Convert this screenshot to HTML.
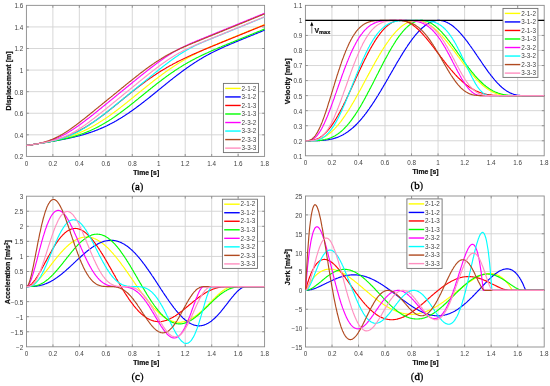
<!DOCTYPE html>
<html><head><meta charset="utf-8"><style>
html,body{margin:0;padding:0;background:#fff;}
body{width:550px;height:386px;overflow:hidden;}
svg{display:block;filter:blur(0.3px);}
.gr{stroke:#d2d2d2;stroke-width:0.9;}
.ax{fill:none;stroke:#8a8a8a;stroke-width:0.9;}
.tm{stroke:#8a8a8a;stroke-width:0.9;fill:none;}
.lt{fill:#1e1e1e;}
.lg{stroke:#6f6f6f;stroke-width:0.9;}
.tk{font-family:"Liberation Sans",Arial,sans-serif;font-size:6.3px;fill:#404040;}
.lb{font-family:"Liberation Sans",Arial,sans-serif;font-size:6.8px;font-weight:bold;fill:#111;stroke:#111;stroke-width:0.22;}
.cap{font-family:"Liberation Serif","Times New Roman",serif;font-size:10.8px;fill:#000;stroke:#000;stroke-width:0.2;}
.vm{font-family:"Liberation Sans",Arial,sans-serif;font-size:6.9px;font-weight:bold;fill:#111;stroke:#111;stroke-width:0.22;}
</style></head><body>
<svg width="550" height="386" viewBox="0 0 550 386">
<rect width="550" height="386" fill="#fff"/>
<line x1="52.87" y1="5.35" x2="52.87" y2="156.40" class="gr"/>
<line x1="79.33" y1="5.35" x2="79.33" y2="156.40" class="gr"/>
<line x1="105.80" y1="5.35" x2="105.80" y2="156.40" class="gr"/>
<line x1="132.27" y1="5.35" x2="132.27" y2="156.40" class="gr"/>
<line x1="158.73" y1="5.35" x2="158.73" y2="156.40" class="gr"/>
<line x1="185.20" y1="5.35" x2="185.20" y2="156.40" class="gr"/>
<line x1="211.67" y1="5.35" x2="211.67" y2="156.40" class="gr"/>
<line x1="238.13" y1="5.35" x2="238.13" y2="156.40" class="gr"/>
<line x1="26.40" y1="134.82" x2="264.60" y2="134.82" class="gr"/>
<line x1="26.40" y1="113.24" x2="264.60" y2="113.24" class="gr"/>
<line x1="26.40" y1="91.66" x2="264.60" y2="91.66" class="gr"/>
<line x1="26.40" y1="70.09" x2="264.60" y2="70.09" class="gr"/>
<line x1="26.40" y1="48.51" x2="264.60" y2="48.51" class="gr"/>
<line x1="26.40" y1="26.93" x2="264.60" y2="26.93" class="gr"/>
<path d="M52.87,156.40v-2.4M52.87,5.35v2.4" class="tm"/>
<path d="M79.33,156.40v-2.4M79.33,5.35v2.4" class="tm"/>
<path d="M105.80,156.40v-2.4M105.80,5.35v2.4" class="tm"/>
<path d="M132.27,156.40v-2.4M132.27,5.35v2.4" class="tm"/>
<path d="M158.73,156.40v-2.4M158.73,5.35v2.4" class="tm"/>
<path d="M185.20,156.40v-2.4M185.20,5.35v2.4" class="tm"/>
<path d="M211.67,156.40v-2.4M211.67,5.35v2.4" class="tm"/>
<path d="M238.13,156.40v-2.4M238.13,5.35v2.4" class="tm"/>
<path d="M26.40,134.82h2.4M264.60,134.82h-2.4" class="tm"/>
<path d="M26.40,113.24h2.4M264.60,113.24h-2.4" class="tm"/>
<path d="M26.40,91.66h2.4M264.60,91.66h-2.4" class="tm"/>
<path d="M26.40,70.09h2.4M264.60,70.09h-2.4" class="tm"/>
<path d="M26.40,48.51h2.4M264.60,48.51h-2.4" class="tm"/>
<path d="M26.40,26.93h2.4M264.60,26.93h-2.4" class="tm"/>
<rect x="26.40" y="5.35" width="238.20" height="151.05" class="ax"/>
<polyline points="26.4,145.6 26.9,145.5 27.5,145.4 28.0,145.4 28.5,145.3 29.0,145.2 29.6,145.1 30.1,145.0 30.6,144.9 31.2,144.8 31.7,144.7 32.2,144.7 32.8,144.6 33.3,144.5 33.8,144.4 34.3,144.3 34.9,144.2 35.4,144.1 35.9,144.0 36.5,144.0 37.0,143.9 37.5,143.8 38.0,143.7 38.6,143.6 39.1,143.5 39.6,143.4 40.2,143.3 40.7,143.2 41.2,143.2 41.8,143.1 42.3,143.0 42.8,142.9 43.3,142.8 43.9,142.7 44.4,142.6 44.9,142.5 45.5,142.4 46.0,142.3 46.5,142.2 47.0,142.1 47.6,142.0 48.1,141.9 48.6,141.8 49.2,141.7 49.7,141.6 50.2,141.5 50.7,141.4 51.3,141.3 51.8,141.2 52.3,141.0 52.9,140.9 53.4,140.8 53.9,140.7 54.5,140.6 55.0,140.5 55.5,140.3 56.0,140.2 56.6,140.1 57.1,140.0 57.6,139.8 58.2,139.7 58.7,139.6 59.2,139.5 59.7,139.3 60.3,139.2 60.8,139.1 61.3,138.9 61.9,138.8 62.4,138.6 62.9,138.5 63.5,138.3 64.0,138.2 64.5,138.0 65.0,137.9 65.6,137.7 66.1,137.6 66.6,137.4 67.2,137.2 67.7,137.1 68.2,136.9 68.7,136.7 69.3,136.6 69.8,136.4 70.3,136.2 70.9,136.0 71.4,135.9 71.9,135.7 72.5,135.5 73.0,135.3 73.5,135.1 74.0,134.9 74.6,134.7 75.1,134.5 75.6,134.3 76.2,134.1 76.7,133.9 77.2,133.7 77.7,133.5 78.3,133.3 78.8,133.0 79.3,132.8 79.9,132.6 80.4,132.4 80.9,132.1 81.5,131.9 82.0,131.7 82.5,131.4 83.0,131.2 83.6,130.9 84.1,130.7 84.6,130.4 85.2,130.2 85.7,129.9 86.2,129.7 86.7,129.4 87.3,129.2 87.8,128.9 88.3,128.6 88.9,128.3 89.4,128.1 89.9,127.8 90.4,127.5 91.0,127.2 91.5,126.9 92.0,126.7 92.6,126.4 93.1,126.1 93.6,125.8 94.2,125.5 94.7,125.2 95.2,124.9 95.7,124.5 96.3,124.2 96.8,123.9 97.3,123.6 97.9,123.3 98.4,123.0 98.9,122.6 99.4,122.3 100.0,122.0 100.5,121.6 101.0,121.3 101.6,121.0 102.1,120.6 102.6,120.3 103.2,119.9 103.7,119.6 104.2,119.2 104.7,118.9 105.3,118.5 105.8,118.2 106.3,117.8 106.9,117.5 107.4,117.1 107.9,116.7 108.4,116.4 109.0,116.0 109.5,115.6 110.0,115.2 110.6,114.9 111.1,114.5 111.6,114.1 112.2,113.7 112.7,113.3 113.2,113.0 113.7,112.6 114.3,112.2 114.8,111.8 115.3,111.4 115.9,111.0 116.4,110.6 116.9,110.2 117.4,109.8 118.0,109.4 118.5,109.0 119.0,108.6 119.6,108.2 120.1,107.8 120.6,107.4 121.2,106.9 121.7,106.5 122.2,106.1 122.7,105.7 123.3,105.3 123.8,104.9 124.3,104.5 124.9,104.0 125.4,103.6 125.9,103.2 126.4,102.8 127.0,102.4 127.5,101.9 128.0,101.5 128.6,101.1 129.1,100.7 129.6,100.2 130.1,99.8 130.7,99.4 131.2,98.9 131.7,98.5 132.3,98.1 132.8,97.7 133.3,97.2 133.9,96.8 134.4,96.4 134.9,95.9 135.4,95.5 136.0,95.1 136.5,94.6 137.0,94.2 137.6,93.8 138.1,93.3 138.6,92.9 139.1,92.5 139.7,92.0 140.2,91.6 140.7,91.2 141.3,90.8 141.8,90.3 142.3,89.9 142.9,89.5 143.4,89.0 143.9,88.6 144.4,88.2 145.0,87.8 145.5,87.3 146.0,86.9 146.6,86.5 147.1,86.0 147.6,85.6 148.1,85.2 148.7,84.8 149.2,84.4 149.7,83.9 150.3,83.5 150.8,83.1 151.3,82.7 151.9,82.3 152.4,81.9 152.9,81.4 153.4,81.0 154.0,80.6 154.5,80.2 155.0,79.8 155.6,79.4 156.1,79.0 156.6,78.6 157.1,78.2 157.7,77.8 158.2,77.4 158.7,77.0 159.3,76.6 159.8,76.2 160.3,75.8 160.9,75.4 161.4,75.0 161.9,74.6 162.4,74.2 163.0,73.8 163.5,73.4 164.0,73.1 164.6,72.7 165.1,72.3 165.6,71.9 166.1,71.5 166.7,71.2 167.2,70.8 167.7,70.4 168.3,70.1 168.8,69.7 169.3,69.3 169.8,69.0 170.4,68.6 170.9,68.2 171.4,67.9 172.0,67.5 172.5,67.2 173.0,66.8 173.6,66.5 174.1,66.1 174.6,65.8 175.1,65.4 175.7,65.1 176.2,64.8 176.7,64.4 177.3,64.1 177.8,63.7 178.3,63.4 178.8,63.1 179.4,62.8 179.9,62.4 180.4,62.1 181.0,61.8 181.5,61.5 182.0,61.2 182.6,60.8 183.1,60.5 183.6,60.2 184.1,59.9 184.7,59.6 185.2,59.3 185.7,59.0 186.3,58.7 186.8,58.4 187.3,58.1 187.8,57.8 188.4,57.5 188.9,57.2 189.4,56.9 190.0,56.6 190.5,56.4 191.0,56.1 191.6,55.8 192.1,55.5 192.6,55.2 193.1,55.0 193.7,54.7 194.2,54.4 194.7,54.1 195.3,53.9 195.8,53.6 196.3,53.3 196.8,53.1 197.4,52.8 197.9,52.6 198.4,52.3 199.0,52.0 199.5,51.8 200.0,51.5 200.6,51.3 201.1,51.0 201.6,50.8 202.1,50.5 202.7,50.3 203.2,50.0 203.7,49.8 204.3,49.5 204.8,49.3 205.3,49.1 205.8,48.8 206.4,48.6 206.9,48.3 207.4,48.1 208.0,47.9 208.5,47.6 209.0,47.4 209.5,47.2 210.1,46.9 210.6,46.7 211.1,46.5 211.7,46.2 212.2,46.0 212.7,45.8 213.3,45.6 213.8,45.3 214.3,45.1 214.8,44.9 215.4,44.7 215.9,44.4 216.4,44.2 217.0,44.0 217.5,43.8 218.0,43.6 218.5,43.3 219.1,43.1 219.6,42.9 220.1,42.7 220.7,42.5 221.2,42.2 221.7,42.0 222.3,41.8 222.8,41.6 223.3,41.4 223.8,41.2 224.4,40.9 224.9,40.7 225.4,40.5 226.0,40.3 226.5,40.1 227.0,39.9 227.5,39.6 228.1,39.4 228.6,39.2 229.1,39.0 229.7,38.8 230.2,38.6 230.7,38.3 231.3,38.1 231.8,37.9 232.3,37.7 232.8,37.5 233.4,37.3 233.9,37.0 234.4,36.8 235.0,36.6 235.5,36.4 236.0,36.2 236.5,36.0 237.1,35.8 237.6,35.5 238.1,35.3 238.7,35.1 239.2,34.9 239.7,34.7 240.3,34.5 240.8,34.2 241.3,34.0 241.8,33.8 242.4,33.6 242.9,33.4 243.4,33.2 244.0,32.9 244.5,32.7 245.0,32.5 245.5,32.3 246.1,32.1 246.6,31.9 247.1,31.7 247.7,31.4 248.2,31.2 248.7,31.0 249.2,30.8 249.8,30.6 250.3,30.4 250.8,30.1 251.4,29.9 251.9,29.7 252.4,29.5 253.0,29.3 253.5,29.1 254.0,28.8 254.5,28.6 255.1,28.4 255.6,28.2 256.1,28.0 256.7,27.8 257.2,27.6 257.7,27.3 258.2,27.1 258.8,26.9 259.3,26.7 259.8,26.5 260.4,26.3 260.9,26.0 261.4,25.8 262.0,25.6 262.5,25.4 263.0,25.2 263.5,25.0 264.1,24.7 264.6,24.5" fill="none" stroke="#ffff00" stroke-width="1.15" stroke-linejoin="round"/>
<polyline points="26.4,145.6 26.9,145.5 27.5,145.4 28.0,145.4 28.5,145.3 29.0,145.2 29.6,145.1 30.1,145.0 30.6,144.9 31.2,144.8 31.7,144.7 32.2,144.7 32.8,144.6 33.3,144.5 33.8,144.4 34.3,144.3 34.9,144.2 35.4,144.1 35.9,144.1 36.5,144.0 37.0,143.9 37.5,143.8 38.0,143.7 38.6,143.6 39.1,143.5 39.6,143.5 40.2,143.4 40.7,143.3 41.2,143.2 41.8,143.1 42.3,143.0 42.8,142.9 43.3,142.8 43.9,142.8 44.4,142.7 44.9,142.6 45.5,142.5 46.0,142.4 46.5,142.3 47.0,142.2 47.6,142.1 48.1,142.1 48.6,142.0 49.2,141.9 49.7,141.8 50.2,141.7 50.7,141.6 51.3,141.5 51.8,141.4 52.3,141.3 52.9,141.2 53.4,141.1 53.9,141.1 54.5,141.0 55.0,140.9 55.5,140.8 56.0,140.7 56.6,140.6 57.1,140.5 57.6,140.4 58.2,140.3 58.7,140.2 59.2,140.1 59.7,140.0 60.3,139.9 60.8,139.8 61.3,139.7 61.9,139.6 62.4,139.5 62.9,139.4 63.5,139.3 64.0,139.2 64.5,139.1 65.0,139.0 65.6,138.9 66.1,138.8 66.6,138.7 67.2,138.6 67.7,138.5 68.2,138.4 68.7,138.2 69.3,138.1 69.8,138.0 70.3,137.9 70.9,137.8 71.4,137.7 71.9,137.5 72.5,137.4 73.0,137.3 73.5,137.2 74.0,137.1 74.6,136.9 75.1,136.8 75.6,136.7 76.2,136.5 76.7,136.4 77.2,136.3 77.7,136.2 78.3,136.0 78.8,135.9 79.3,135.7 79.9,135.6 80.4,135.5 80.9,135.3 81.5,135.2 82.0,135.0 82.5,134.9 83.0,134.7 83.6,134.6 84.1,134.4 84.6,134.3 85.2,134.1 85.7,133.9 86.2,133.8 86.7,133.6 87.3,133.4 87.8,133.3 88.3,133.1 88.9,132.9 89.4,132.8 89.9,132.6 90.4,132.4 91.0,132.2 91.5,132.0 92.0,131.9 92.6,131.7 93.1,131.5 93.6,131.3 94.2,131.1 94.7,130.9 95.2,130.7 95.7,130.5 96.3,130.3 96.8,130.1 97.3,129.9 97.9,129.7 98.4,129.5 98.9,129.2 99.4,129.0 100.0,128.8 100.5,128.6 101.0,128.4 101.6,128.1 102.1,127.9 102.6,127.7 103.2,127.4 103.7,127.2 104.2,126.9 104.7,126.7 105.3,126.5 105.8,126.2 106.3,126.0 106.9,125.7 107.4,125.4 107.9,125.2 108.4,124.9 109.0,124.7 109.5,124.4 110.0,124.1 110.6,123.8 111.1,123.6 111.6,123.3 112.2,123.0 112.7,122.7 113.2,122.4 113.7,122.2 114.3,121.9 114.8,121.6 115.3,121.3 115.9,121.0 116.4,120.7 116.9,120.4 117.4,120.1 118.0,119.7 118.5,119.4 119.0,119.1 119.6,118.8 120.1,118.5 120.6,118.2 121.2,117.8 121.7,117.5 122.2,117.2 122.7,116.8 123.3,116.5 123.8,116.2 124.3,115.8 124.9,115.5 125.4,115.1 125.9,114.8 126.4,114.5 127.0,114.1 127.5,113.7 128.0,113.4 128.6,113.0 129.1,112.7 129.6,112.3 130.1,111.9 130.7,111.6 131.2,111.2 131.7,110.8 132.3,110.5 132.8,110.1 133.3,109.7 133.9,109.3 134.4,108.9 134.9,108.6 135.4,108.2 136.0,107.8 136.5,107.4 137.0,107.0 137.6,106.6 138.1,106.2 138.6,105.8 139.1,105.4 139.7,105.0 140.2,104.6 140.7,104.2 141.3,103.8 141.8,103.4 142.3,103.0 142.9,102.6 143.4,102.2 143.9,101.8 144.4,101.4 145.0,100.9 145.5,100.5 146.0,100.1 146.6,99.7 147.1,99.3 147.6,98.9 148.1,98.4 148.7,98.0 149.2,97.6 149.7,97.2 150.3,96.7 150.8,96.3 151.3,95.9 151.9,95.5 152.4,95.0 152.9,94.6 153.4,94.2 154.0,93.7 154.5,93.3 155.0,92.9 155.6,92.5 156.1,92.0 156.6,91.6 157.1,91.2 157.7,90.7 158.2,90.3 158.7,89.9 159.3,89.4 159.8,89.0 160.3,88.6 160.9,88.1 161.4,87.7 161.9,87.3 162.4,86.9 163.0,86.4 163.5,86.0 164.0,85.6 164.6,85.1 165.1,84.7 165.6,84.3 166.1,83.8 166.7,83.4 167.2,83.0 167.7,82.6 168.3,82.1 168.8,81.7 169.3,81.3 169.8,80.9 170.4,80.4 170.9,80.0 171.4,79.6 172.0,79.2 172.5,78.8 173.0,78.4 173.6,77.9 174.1,77.5 174.6,77.1 175.1,76.7 175.7,76.3 176.2,75.9 176.7,75.5 177.3,75.1 177.8,74.7 178.3,74.3 178.8,73.9 179.4,73.5 179.9,73.1 180.4,72.7 181.0,72.3 181.5,71.9 182.0,71.5 182.6,71.1 183.1,70.7 183.6,70.3 184.1,69.9 184.7,69.5 185.2,69.2 185.7,68.8 186.3,68.4 186.8,68.0 187.3,67.6 187.8,67.3 188.4,66.9 188.9,66.5 189.4,66.2 190.0,65.8 190.5,65.5 191.0,65.1 191.6,64.7 192.1,64.4 192.6,64.0 193.1,63.7 193.7,63.3 194.2,63.0 194.7,62.6 195.3,62.3 195.8,62.0 196.3,61.6 196.8,61.3 197.4,61.0 197.9,60.6 198.4,60.3 199.0,60.0 199.5,59.6 200.0,59.3 200.6,59.0 201.1,58.7 201.6,58.4 202.1,58.1 202.7,57.7 203.2,57.4 203.7,57.1 204.3,56.8 204.8,56.5 205.3,56.2 205.8,55.9 206.4,55.6 206.9,55.3 207.4,55.1 208.0,54.8 208.5,54.5 209.0,54.2 209.5,53.9 210.1,53.6 210.6,53.4 211.1,53.1 211.7,52.8 212.2,52.5 212.7,52.3 213.3,52.0 213.8,51.7 214.3,51.5 214.8,51.2 215.4,50.9 215.9,50.7 216.4,50.4 217.0,50.2 217.5,49.9 218.0,49.7 218.5,49.4 219.1,49.2 219.6,48.9 220.1,48.7 220.7,48.4 221.2,48.2 221.7,47.9 222.3,47.7 222.8,47.5 223.3,47.2 223.8,47.0 224.4,46.7 224.9,46.5 225.4,46.3 226.0,46.0 226.5,45.8 227.0,45.6 227.5,45.4 228.1,45.1 228.6,44.9 229.1,44.7 229.7,44.4 230.2,44.2 230.7,44.0 231.3,43.8 231.8,43.6 232.3,43.3 232.8,43.1 233.4,42.9 233.9,42.7 234.4,42.4 235.0,42.2 235.5,42.0 236.0,41.8 236.5,41.6 237.1,41.4 237.6,41.1 238.1,40.9 238.7,40.7 239.2,40.5 239.7,40.3 240.3,40.1 240.8,39.8 241.3,39.6 241.8,39.4 242.4,39.2 242.9,39.0 243.4,38.8 244.0,38.5 244.5,38.3 245.0,38.1 245.5,37.9 246.1,37.7 246.6,37.5 247.1,37.2 247.7,37.0 248.2,36.8 248.7,36.6 249.2,36.4 249.8,36.2 250.3,36.0 250.8,35.7 251.4,35.5 251.9,35.3 252.4,35.1 253.0,34.9 253.5,34.7 254.0,34.4 254.5,34.2 255.1,34.0 255.6,33.8 256.1,33.6 256.7,33.4 257.2,33.1 257.7,32.9 258.2,32.7 258.8,32.5 259.3,32.3 259.8,32.1 260.4,31.9 260.9,31.6 261.4,31.4 262.0,31.2 262.5,31.0 263.0,30.8 263.5,30.6 264.1,30.3 264.6,30.1" fill="none" stroke="#0000ff" stroke-width="1.15" stroke-linejoin="round"/>
<polyline points="26.4,145.6 26.9,145.5 27.5,145.4 28.0,145.4 28.5,145.3 29.0,145.2 29.6,145.1 30.1,145.0 30.6,144.9 31.2,144.8 31.7,144.7 32.2,144.7 32.8,144.6 33.3,144.5 33.8,144.4 34.3,144.3 34.9,144.2 35.4,144.1 35.9,144.0 36.5,144.0 37.0,143.9 37.5,143.8 38.0,143.7 38.6,143.6 39.1,143.5 39.6,143.4 40.2,143.3 40.7,143.2 41.2,143.1 41.8,143.0 42.3,142.9 42.8,142.8 43.3,142.7 43.9,142.6 44.4,142.5 44.9,142.4 45.5,142.3 46.0,142.2 46.5,142.1 47.0,142.0 47.6,141.9 48.1,141.8 48.6,141.6 49.2,141.5 49.7,141.4 50.2,141.3 50.7,141.2 51.3,141.0 51.8,140.9 52.3,140.8 52.9,140.7 53.4,140.5 53.9,140.4 54.5,140.3 55.0,140.1 55.5,140.0 56.0,139.8 56.6,139.7 57.1,139.5 57.6,139.4 58.2,139.2 58.7,139.1 59.2,138.9 59.7,138.8 60.3,138.6 60.8,138.4 61.3,138.3 61.9,138.1 62.4,137.9 62.9,137.7 63.5,137.5 64.0,137.4 64.5,137.2 65.0,137.0 65.6,136.8 66.1,136.6 66.6,136.4 67.2,136.2 67.7,136.0 68.2,135.8 68.7,135.6 69.3,135.3 69.8,135.1 70.3,134.9 70.9,134.7 71.4,134.4 71.9,134.2 72.5,134.0 73.0,133.7 73.5,133.5 74.0,133.2 74.6,133.0 75.1,132.7 75.6,132.5 76.2,132.2 76.7,132.0 77.2,131.7 77.7,131.4 78.3,131.2 78.8,130.9 79.3,130.6 79.9,130.3 80.4,130.0 80.9,129.7 81.5,129.4 82.0,129.1 82.5,128.8 83.0,128.5 83.6,128.2 84.1,127.9 84.6,127.6 85.2,127.3 85.7,127.0 86.2,126.7 86.7,126.3 87.3,126.0 87.8,125.7 88.3,125.4 88.9,125.0 89.4,124.7 89.9,124.3 90.4,124.0 91.0,123.6 91.5,123.3 92.0,122.9 92.6,122.6 93.1,122.2 93.6,121.9 94.2,121.5 94.7,121.1 95.2,120.8 95.7,120.4 96.3,120.0 96.8,119.7 97.3,119.3 97.9,118.9 98.4,118.5 98.9,118.1 99.4,117.7 100.0,117.3 100.5,117.0 101.0,116.6 101.6,116.2 102.1,115.8 102.6,115.4 103.2,115.0 103.7,114.6 104.2,114.2 104.7,113.8 105.3,113.4 105.8,112.9 106.3,112.5 106.9,112.1 107.4,111.7 107.9,111.3 108.4,110.9 109.0,110.5 109.5,110.0 110.0,109.6 110.6,109.2 111.1,108.8 111.6,108.4 112.2,107.9 112.7,107.5 113.2,107.1 113.7,106.7 114.3,106.2 114.8,105.8 115.3,105.4 115.9,104.9 116.4,104.5 116.9,104.1 117.4,103.7 118.0,103.2 118.5,102.8 119.0,102.4 119.6,101.9 120.1,101.5 120.6,101.1 121.2,100.6 121.7,100.2 122.2,99.8 122.7,99.3 123.3,98.9 123.8,98.5 124.3,98.0 124.9,97.6 125.4,97.2 125.9,96.8 126.4,96.3 127.0,95.9 127.5,95.5 128.0,95.0 128.6,94.6 129.1,94.2 129.6,93.8 130.1,93.3 130.7,92.9 131.2,92.5 131.7,92.1 132.3,91.6 132.8,91.2 133.3,90.8 133.9,90.4 134.4,90.0 134.9,89.6 135.4,89.1 136.0,88.7 136.5,88.3 137.0,87.9 137.6,87.5 138.1,87.1 138.6,86.7 139.1,86.3 139.7,85.9 140.2,85.5 140.7,85.1 141.3,84.7 141.8,84.3 142.3,83.9 142.9,83.5 143.4,83.1 143.9,82.7 144.4,82.3 145.0,81.9 145.5,81.5 146.0,81.1 146.6,80.8 147.1,80.4 147.6,80.0 148.1,79.6 148.7,79.3 149.2,78.9 149.7,78.5 150.3,78.1 150.8,77.8 151.3,77.4 151.9,77.0 152.4,76.7 152.9,76.3 153.4,76.0 154.0,75.6 154.5,75.2 155.0,74.9 155.6,74.5 156.1,74.2 156.6,73.8 157.1,73.5 157.7,73.2 158.2,72.8 158.7,72.5 159.3,72.1 159.8,71.8 160.3,71.5 160.9,71.1 161.4,70.8 161.9,70.5 162.4,70.2 163.0,69.8 163.5,69.5 164.0,69.2 164.6,68.9 165.1,68.6 165.6,68.3 166.1,68.0 166.7,67.6 167.2,67.3 167.7,67.0 168.3,66.7 168.8,66.4 169.3,66.1 169.8,65.8 170.4,65.5 170.9,65.2 171.4,65.0 172.0,64.7 172.5,64.4 173.0,64.1 173.6,63.8 174.1,63.5 174.6,63.2 175.1,63.0 175.7,62.7 176.2,62.4 176.7,62.1 177.3,61.9 177.8,61.6 178.3,61.3 178.8,61.1 179.4,60.8 179.9,60.5 180.4,60.3 181.0,60.0 181.5,59.7 182.0,59.5 182.6,59.2 183.1,59.0 183.6,58.7 184.1,58.5 184.7,58.2 185.2,58.0 185.7,57.7 186.3,57.5 186.8,57.2 187.3,57.0 187.8,56.7 188.4,56.5 188.9,56.2 189.4,56.0 190.0,55.7 190.5,55.5 191.0,55.3 191.6,55.0 192.1,54.8 192.6,54.6 193.1,54.3 193.7,54.1 194.2,53.9 194.7,53.6 195.3,53.4 195.8,53.2 196.3,52.9 196.8,52.7 197.4,52.5 197.9,52.2 198.4,52.0 199.0,51.8 199.5,51.6 200.0,51.3 200.6,51.1 201.1,50.9 201.6,50.7 202.1,50.4 202.7,50.2 203.2,50.0 203.7,49.8 204.3,49.5 204.8,49.3 205.3,49.1 205.8,48.9 206.4,48.7 206.9,48.4 207.4,48.2 208.0,48.0 208.5,47.8 209.0,47.6 209.5,47.3 210.1,47.1 210.6,46.9 211.1,46.7 211.7,46.5 212.2,46.3 212.7,46.0 213.3,45.8 213.8,45.6 214.3,45.4 214.8,45.2 215.4,45.0 215.9,44.7 216.4,44.5 217.0,44.3 217.5,44.1 218.0,43.9 218.5,43.7 219.1,43.4 219.6,43.2 220.1,43.0 220.7,42.8 221.2,42.6 221.7,42.4 222.3,42.1 222.8,41.9 223.3,41.7 223.8,41.5 224.4,41.3 224.9,41.1 225.4,40.9 226.0,40.6 226.5,40.4 227.0,40.2 227.5,40.0 228.1,39.8 228.6,39.6 229.1,39.3 229.7,39.1 230.2,38.9 230.7,38.7 231.3,38.5 231.8,38.3 232.3,38.0 232.8,37.8 233.4,37.6 233.9,37.4 234.4,37.2 235.0,37.0 235.5,36.8 236.0,36.5 236.5,36.3 237.1,36.1 237.6,35.9 238.1,35.7 238.7,35.5 239.2,35.2 239.7,35.0 240.3,34.8 240.8,34.6 241.3,34.4 241.8,34.2 242.4,33.9 242.9,33.7 243.4,33.5 244.0,33.3 244.5,33.1 245.0,32.9 245.5,32.7 246.1,32.4 246.6,32.2 247.1,32.0 247.7,31.8 248.2,31.6 248.7,31.4 249.2,31.1 249.8,30.9 250.3,30.7 250.8,30.5 251.4,30.3 251.9,30.1 252.4,29.8 253.0,29.6 253.5,29.4 254.0,29.2 254.5,29.0 255.1,28.8 255.6,28.6 256.1,28.3 256.7,28.1 257.2,27.9 257.7,27.7 258.2,27.5 258.8,27.3 259.3,27.0 259.8,26.8 260.4,26.6 260.9,26.4 261.4,26.2 262.0,26.0 262.5,25.7 263.0,25.5 263.5,25.3 264.1,25.1 264.6,24.9" fill="none" stroke="#ff0000" stroke-width="1.15" stroke-linejoin="round"/>
<polyline points="26.4,145.6 26.9,145.5 27.5,145.4 28.0,145.4 28.5,145.3 29.0,145.2 29.6,145.1 30.1,145.0 30.6,144.9 31.2,144.8 31.7,144.7 32.2,144.7 32.8,144.6 33.3,144.5 33.8,144.4 34.3,144.3 34.9,144.2 35.4,144.1 35.9,144.1 36.5,144.0 37.0,143.9 37.5,143.8 38.0,143.7 38.6,143.6 39.1,143.5 39.6,143.4 40.2,143.4 40.7,143.3 41.2,143.2 41.8,143.1 42.3,143.0 42.8,142.9 43.3,142.8 43.9,142.7 44.4,142.7 44.9,142.6 45.5,142.5 46.0,142.4 46.5,142.3 47.0,142.2 47.6,142.1 48.1,142.0 48.6,141.9 49.2,141.8 49.7,141.8 50.2,141.7 50.7,141.6 51.3,141.5 51.8,141.4 52.3,141.3 52.9,141.2 53.4,141.1 53.9,141.0 54.5,140.9 55.0,140.8 55.5,140.7 56.0,140.6 56.6,140.5 57.1,140.4 57.6,140.3 58.2,140.2 58.7,140.1 59.2,140.0 59.7,139.9 60.3,139.8 60.8,139.6 61.3,139.5 61.9,139.4 62.4,139.3 62.9,139.2 63.5,139.1 64.0,139.0 64.5,138.8 65.0,138.7 65.6,138.6 66.1,138.5 66.6,138.4 67.2,138.2 67.7,138.1 68.2,138.0 68.7,137.8 69.3,137.7 69.8,137.6 70.3,137.4 70.9,137.3 71.4,137.1 71.9,137.0 72.5,136.9 73.0,136.7 73.5,136.6 74.0,136.4 74.6,136.3 75.1,136.1 75.6,135.9 76.2,135.8 76.7,135.6 77.2,135.5 77.7,135.3 78.3,135.1 78.8,134.9 79.3,134.8 79.9,134.6 80.4,134.4 80.9,134.2 81.5,134.0 82.0,133.9 82.5,133.7 83.0,133.5 83.6,133.3 84.1,133.1 84.6,132.9 85.2,132.7 85.7,132.5 86.2,132.3 86.7,132.1 87.3,131.8 87.8,131.6 88.3,131.4 88.9,131.2 89.4,131.0 89.9,130.7 90.4,130.5 91.0,130.3 91.5,130.0 92.0,129.8 92.6,129.5 93.1,129.3 93.6,129.0 94.2,128.8 94.7,128.5 95.2,128.3 95.7,128.0 96.3,127.8 96.8,127.5 97.3,127.2 97.9,126.9 98.4,126.7 98.9,126.4 99.4,126.1 100.0,125.8 100.5,125.5 101.0,125.2 101.6,124.9 102.1,124.6 102.6,124.3 103.2,124.0 103.7,123.7 104.2,123.4 104.7,123.1 105.3,122.8 105.8,122.5 106.3,122.2 106.9,121.8 107.4,121.5 107.9,121.2 108.4,120.9 109.0,120.5 109.5,120.2 110.0,119.8 110.6,119.5 111.1,119.2 111.6,118.8 112.2,118.5 112.7,118.1 113.2,117.7 113.7,117.4 114.3,117.0 114.8,116.7 115.3,116.3 115.9,115.9 116.4,115.6 116.9,115.2 117.4,114.8 118.0,114.4 118.5,114.1 119.0,113.7 119.6,113.3 120.1,112.9 120.6,112.5 121.2,112.1 121.7,111.7 122.2,111.3 122.7,110.9 123.3,110.5 123.8,110.1 124.3,109.7 124.9,109.3 125.4,108.9 125.9,108.5 126.4,108.1 127.0,107.7 127.5,107.3 128.0,106.9 128.6,106.5 129.1,106.1 129.6,105.7 130.1,105.2 130.7,104.8 131.2,104.4 131.7,104.0 132.3,103.6 132.8,103.1 133.3,102.7 133.9,102.3 134.4,101.9 134.9,101.4 135.4,101.0 136.0,100.6 136.5,100.1 137.0,99.7 137.6,99.3 138.1,98.9 138.6,98.4 139.1,98.0 139.7,97.6 140.2,97.1 140.7,96.7 141.3,96.3 141.8,95.8 142.3,95.4 142.9,95.0 143.4,94.5 143.9,94.1 144.4,93.7 145.0,93.3 145.5,92.8 146.0,92.4 146.6,92.0 147.1,91.5 147.6,91.1 148.1,90.7 148.7,90.2 149.2,89.8 149.7,89.4 150.3,89.0 150.8,88.5 151.3,88.1 151.9,87.7 152.4,87.3 152.9,86.8 153.4,86.4 154.0,86.0 154.5,85.6 155.0,85.2 155.6,84.8 156.1,84.3 156.6,83.9 157.1,83.5 157.7,83.1 158.2,82.7 158.7,82.3 159.3,81.9 159.8,81.5 160.3,81.1 160.9,80.7 161.4,80.3 161.9,79.9 162.4,79.5 163.0,79.1 163.5,78.7 164.0,78.3 164.6,77.9 165.1,77.5 165.6,77.1 166.1,76.7 166.7,76.3 167.2,75.9 167.7,75.6 168.3,75.2 168.8,74.8 169.3,74.4 169.8,74.1 170.4,73.7 170.9,73.3 171.4,73.0 172.0,72.6 172.5,72.2 173.0,71.9 173.6,71.5 174.1,71.2 174.6,70.8 175.1,70.4 175.7,70.1 176.2,69.7 176.7,69.4 177.3,69.1 177.8,68.7 178.3,68.4 178.8,68.0 179.4,67.7 179.9,67.4 180.4,67.0 181.0,66.7 181.5,66.4 182.0,66.1 182.6,65.7 183.1,65.4 183.6,65.1 184.1,64.8 184.7,64.5 185.2,64.2 185.7,63.8 186.3,63.5 186.8,63.2 187.3,62.9 187.8,62.6 188.4,62.3 188.9,62.0 189.4,61.7 190.0,61.4 190.5,61.1 191.0,60.9 191.6,60.6 192.1,60.3 192.6,60.0 193.1,59.7 193.7,59.4 194.2,59.2 194.7,58.9 195.3,58.6 195.8,58.3 196.3,58.1 196.8,57.8 197.4,57.5 197.9,57.3 198.4,57.0 199.0,56.7 199.5,56.5 200.0,56.2 200.6,55.9 201.1,55.7 201.6,55.4 202.1,55.2 202.7,54.9 203.2,54.7 203.7,54.4 204.3,54.2 204.8,53.9 205.3,53.7 205.8,53.4 206.4,53.2 206.9,53.0 207.4,52.7 208.0,52.5 208.5,52.2 209.0,52.0 209.5,51.8 210.1,51.5 210.6,51.3 211.1,51.1 211.7,50.8 212.2,50.6 212.7,50.4 213.3,50.1 213.8,49.9 214.3,49.7 214.8,49.4 215.4,49.2 215.9,49.0 216.4,48.8 217.0,48.5 217.5,48.3 218.0,48.1 218.5,47.9 219.1,47.6 219.6,47.4 220.1,47.2 220.7,47.0 221.2,46.8 221.7,46.5 222.3,46.3 222.8,46.1 223.3,45.9 223.8,45.7 224.4,45.4 224.9,45.2 225.4,45.0 226.0,44.8 226.5,44.6 227.0,44.3 227.5,44.1 228.1,43.9 228.6,43.7 229.1,43.5 229.7,43.3 230.2,43.0 230.7,42.8 231.3,42.6 231.8,42.4 232.3,42.2 232.8,42.0 233.4,41.7 233.9,41.5 234.4,41.3 235.0,41.1 235.5,40.9 236.0,40.7 236.5,40.4 237.1,40.2 237.6,40.0 238.1,39.8 238.7,39.6 239.2,39.4 239.7,39.2 240.3,38.9 240.8,38.7 241.3,38.5 241.8,38.3 242.4,38.1 242.9,37.9 243.4,37.6 244.0,37.4 244.5,37.2 245.0,37.0 245.5,36.8 246.1,36.6 246.6,36.3 247.1,36.1 247.7,35.9 248.2,35.7 248.7,35.5 249.2,35.3 249.8,35.1 250.3,34.8 250.8,34.6 251.4,34.4 251.9,34.2 252.4,34.0 253.0,33.8 253.5,33.5 254.0,33.3 254.5,33.1 255.1,32.9 255.6,32.7 256.1,32.5 256.7,32.2 257.2,32.0 257.7,31.8 258.2,31.6 258.8,31.4 259.3,31.2 259.8,31.0 260.4,30.7 260.9,30.5 261.4,30.3 262.0,30.1 262.5,29.9 263.0,29.7 263.5,29.4 264.1,29.2 264.6,29.0" fill="none" stroke="#00ff00" stroke-width="1.15" stroke-linejoin="round"/>
<polyline points="26.4,145.6 26.9,145.5 27.5,145.4 28.0,145.4 28.5,145.3 29.0,145.2 29.6,145.1 30.1,145.0 30.6,144.9 31.2,144.8 31.7,144.7 32.2,144.7 32.8,144.6 33.3,144.5 33.8,144.4 34.3,144.3 34.9,144.2 35.4,144.1 35.9,144.0 36.5,143.9 37.0,143.8 37.5,143.7 38.0,143.6 38.6,143.5 39.1,143.4 39.6,143.3 40.2,143.2 40.7,143.1 41.2,143.0 41.8,142.9 42.3,142.7 42.8,142.6 43.3,142.5 43.9,142.4 44.4,142.2 44.9,142.1 45.5,142.0 46.0,141.8 46.5,141.7 47.0,141.5 47.6,141.4 48.1,141.2 48.6,141.1 49.2,140.9 49.7,140.8 50.2,140.6 50.7,140.4 51.3,140.2 51.8,140.1 52.3,139.9 52.9,139.7 53.4,139.5 53.9,139.3 54.5,139.1 55.0,138.9 55.5,138.7 56.0,138.5 56.6,138.3 57.1,138.0 57.6,137.8 58.2,137.6 58.7,137.3 59.2,137.1 59.7,136.8 60.3,136.6 60.8,136.3 61.3,136.1 61.9,135.8 62.4,135.6 62.9,135.3 63.5,135.0 64.0,134.7 64.5,134.5 65.0,134.2 65.6,133.9 66.1,133.6 66.6,133.3 67.2,133.0 67.7,132.7 68.2,132.4 68.7,132.0 69.3,131.7 69.8,131.4 70.3,131.1 70.9,130.7 71.4,130.4 71.9,130.1 72.5,129.7 73.0,129.4 73.5,129.0 74.0,128.7 74.6,128.3 75.1,128.0 75.6,127.6 76.2,127.3 76.7,126.9 77.2,126.5 77.7,126.2 78.3,125.8 78.8,125.4 79.3,125.0 79.9,124.7 80.4,124.3 80.9,123.9 81.5,123.5 82.0,123.1 82.5,122.7 83.0,122.3 83.6,121.9 84.1,121.5 84.6,121.1 85.2,120.7 85.7,120.3 86.2,119.9 86.7,119.5 87.3,119.1 87.8,118.7 88.3,118.3 88.9,117.9 89.4,117.5 89.9,117.1 90.4,116.6 91.0,116.2 91.5,115.8 92.0,115.4 92.6,115.0 93.1,114.6 93.6,114.1 94.2,113.7 94.7,113.3 95.2,112.9 95.7,112.4 96.3,112.0 96.8,111.6 97.3,111.2 97.9,110.7 98.4,110.3 98.9,109.9 99.4,109.5 100.0,109.0 100.5,108.6 101.0,108.2 101.6,107.7 102.1,107.3 102.6,106.9 103.2,106.4 103.7,106.0 104.2,105.6 104.7,105.2 105.3,104.7 105.8,104.3 106.3,103.9 106.9,103.4 107.4,103.0 107.9,102.6 108.4,102.1 109.0,101.7 109.5,101.3 110.0,100.8 110.6,100.4 111.1,100.0 111.6,99.6 112.2,99.1 112.7,98.7 113.2,98.3 113.7,97.8 114.3,97.4 114.8,97.0 115.3,96.5 115.9,96.1 116.4,95.7 116.9,95.2 117.4,94.8 118.0,94.4 118.5,93.9 119.0,93.5 119.6,93.1 120.1,92.6 120.6,92.2 121.2,91.8 121.7,91.4 122.2,90.9 122.7,90.5 123.3,90.1 123.8,89.6 124.3,89.2 124.9,88.8 125.4,88.3 125.9,87.9 126.4,87.5 127.0,87.0 127.5,86.6 128.0,86.2 128.6,85.7 129.1,85.3 129.6,84.9 130.1,84.5 130.7,84.0 131.2,83.6 131.7,83.2 132.3,82.7 132.8,82.3 133.3,81.9 133.9,81.4 134.4,81.0 134.9,80.6 135.4,80.1 136.0,79.7 136.5,79.3 137.0,78.9 137.6,78.4 138.1,78.0 138.6,77.6 139.1,77.1 139.7,76.7 140.2,76.3 140.7,75.9 141.3,75.4 141.8,75.0 142.3,74.6 142.9,74.2 143.4,73.7 143.9,73.3 144.4,72.9 145.0,72.5 145.5,72.1 146.0,71.6 146.6,71.2 147.1,70.8 147.6,70.4 148.1,70.0 148.7,69.5 149.2,69.1 149.7,68.7 150.3,68.3 150.8,67.9 151.3,67.5 151.9,67.1 152.4,66.7 152.9,66.3 153.4,65.9 154.0,65.5 154.5,65.1 155.0,64.7 155.6,64.3 156.1,63.9 156.6,63.5 157.1,63.1 157.7,62.7 158.2,62.3 158.7,61.9 159.3,61.5 159.8,61.2 160.3,60.8 160.9,60.4 161.4,60.0 161.9,59.7 162.4,59.3 163.0,58.9 163.5,58.6 164.0,58.2 164.6,57.8 165.1,57.5 165.6,57.1 166.1,56.8 166.7,56.4 167.2,56.1 167.7,55.7 168.3,55.4 168.8,55.0 169.3,54.7 169.8,54.4 170.4,54.0 170.9,53.7 171.4,53.4 172.0,53.1 172.5,52.7 173.0,52.4 173.6,52.1 174.1,51.8 174.6,51.5 175.1,51.2 175.7,50.9 176.2,50.6 176.7,50.3 177.3,50.0 177.8,49.7 178.3,49.4 178.8,49.1 179.4,48.9 179.9,48.6 180.4,48.3 181.0,48.0 181.5,47.8 182.0,47.5 182.6,47.2 183.1,47.0 183.6,46.7 184.1,46.5 184.7,46.2 185.2,46.0 185.7,45.7 186.3,45.5 186.8,45.2 187.3,45.0 187.8,44.7 188.4,44.5 188.9,44.2 189.4,44.0 190.0,43.8 190.5,43.5 191.0,43.3 191.6,43.1 192.1,42.9 192.6,42.6 193.1,42.4 193.7,42.2 194.2,42.0 194.7,41.7 195.3,41.5 195.8,41.3 196.3,41.1 196.8,40.9 197.4,40.6 197.9,40.4 198.4,40.2 199.0,40.0 199.5,39.8 200.0,39.5 200.6,39.3 201.1,39.1 201.6,38.9 202.1,38.7 202.7,38.5 203.2,38.3 203.7,38.0 204.3,37.8 204.8,37.6 205.3,37.4 205.8,37.2 206.4,37.0 206.9,36.7 207.4,36.5 208.0,36.3 208.5,36.1 209.0,35.9 209.5,35.7 210.1,35.4 210.6,35.2 211.1,35.0 211.7,34.8 212.2,34.6 212.7,34.4 213.3,34.2 213.8,33.9 214.3,33.7 214.8,33.5 215.4,33.3 215.9,33.1 216.4,32.9 217.0,32.6 217.5,32.4 218.0,32.2 218.5,32.0 219.1,31.8 219.6,31.6 220.1,31.3 220.7,31.1 221.2,30.9 221.7,30.7 222.3,30.5 222.8,30.3 223.3,30.1 223.8,29.8 224.4,29.6 224.9,29.4 225.4,29.2 226.0,29.0 226.5,28.8 227.0,28.5 227.5,28.3 228.1,28.1 228.6,27.9 229.1,27.7 229.7,27.5 230.2,27.2 230.7,27.0 231.3,26.8 231.8,26.6 232.3,26.4 232.8,26.2 233.4,26.0 233.9,25.7 234.4,25.5 235.0,25.3 235.5,25.1 236.0,24.9 236.5,24.7 237.1,24.4 237.6,24.2 238.1,24.0 238.7,23.8 239.2,23.6 239.7,23.4 240.3,23.1 240.8,22.9 241.3,22.7 241.8,22.5 242.4,22.3 242.9,22.1 243.4,21.9 244.0,21.6 244.5,21.4 245.0,21.2 245.5,21.0 246.1,20.8 246.6,20.6 247.1,20.3 247.7,20.1 248.2,19.9 248.7,19.7 249.2,19.5 249.8,19.3 250.3,19.0 250.8,18.8 251.4,18.6 251.9,18.4 252.4,18.2 253.0,18.0 253.5,17.8 254.0,17.5 254.5,17.3 255.1,17.1 255.6,16.9 256.1,16.7 256.7,16.5 257.2,16.2 257.7,16.0 258.2,15.8 258.8,15.6 259.3,15.4 259.8,15.2 260.4,14.9 260.9,14.7 261.4,14.5 262.0,14.3 262.5,14.1 263.0,13.9 263.5,13.7 264.1,13.4 264.6,13.2" fill="none" stroke="#ff00ff" stroke-width="1.15" stroke-linejoin="round"/>
<polyline points="26.4,145.6 26.9,145.5 27.5,145.4 28.0,145.4 28.5,145.3 29.0,145.2 29.6,145.1 30.1,145.0 30.6,144.9 31.2,144.8 31.7,144.7 32.2,144.7 32.8,144.6 33.3,144.5 33.8,144.4 34.3,144.3 34.9,144.2 35.4,144.1 35.9,144.1 36.5,144.0 37.0,143.9 37.5,143.8 38.0,143.7 38.6,143.6 39.1,143.5 39.6,143.4 40.2,143.3 40.7,143.3 41.2,143.2 41.8,143.1 42.3,143.0 42.8,142.9 43.3,142.8 43.9,142.7 44.4,142.6 44.9,142.5 45.5,142.4 46.0,142.3 46.5,142.2 47.0,142.1 47.6,142.0 48.1,141.9 48.6,141.8 49.2,141.7 49.7,141.6 50.2,141.5 50.7,141.3 51.3,141.2 51.8,141.1 52.3,141.0 52.9,140.9 53.4,140.8 53.9,140.6 54.5,140.5 55.0,140.4 55.5,140.2 56.0,140.1 56.6,140.0 57.1,139.8 57.6,139.7 58.2,139.5 58.7,139.4 59.2,139.2 59.7,139.1 60.3,138.9 60.8,138.8 61.3,138.6 61.9,138.4 62.4,138.3 62.9,138.1 63.5,137.9 64.0,137.7 64.5,137.6 65.0,137.4 65.6,137.2 66.1,137.0 66.6,136.8 67.2,136.6 67.7,136.4 68.2,136.2 68.7,136.0 69.3,135.8 69.8,135.5 70.3,135.3 70.9,135.1 71.4,134.9 71.9,134.6 72.5,134.4 73.0,134.1 73.5,133.9 74.0,133.6 74.6,133.4 75.1,133.1 75.6,132.9 76.2,132.6 76.7,132.3 77.2,132.1 77.7,131.8 78.3,131.5 78.8,131.2 79.3,130.9 79.9,130.6 80.4,130.4 80.9,130.1 81.5,129.8 82.0,129.4 82.5,129.1 83.0,128.8 83.6,128.5 84.1,128.2 84.6,127.9 85.2,127.5 85.7,127.2 86.2,126.9 86.7,126.5 87.3,126.2 87.8,125.9 88.3,125.5 88.9,125.2 89.4,124.8 89.9,124.5 90.4,124.1 91.0,123.7 91.5,123.4 92.0,123.0 92.6,122.6 93.1,122.3 93.6,121.9 94.2,121.5 94.7,121.1 95.2,120.8 95.7,120.4 96.3,120.0 96.8,119.6 97.3,119.2 97.9,118.8 98.4,118.4 98.9,118.0 99.4,117.6 100.0,117.2 100.5,116.8 101.0,116.4 101.6,116.0 102.1,115.6 102.6,115.2 103.2,114.8 103.7,114.4 104.2,114.0 104.7,113.6 105.3,113.2 105.8,112.8 106.3,112.3 106.9,111.9 107.4,111.5 107.9,111.1 108.4,110.7 109.0,110.3 109.5,109.8 110.0,109.4 110.6,109.0 111.1,108.6 111.6,108.1 112.2,107.7 112.7,107.3 113.2,106.9 113.7,106.4 114.3,106.0 114.8,105.6 115.3,105.2 115.9,104.7 116.4,104.3 116.9,103.9 117.4,103.4 118.0,103.0 118.5,102.6 119.0,102.2 119.6,101.7 120.1,101.3 120.6,100.9 121.2,100.4 121.7,100.0 122.2,99.6 122.7,99.1 123.3,98.7 123.8,98.3 124.3,97.8 124.9,97.4 125.4,97.0 125.9,96.6 126.4,96.1 127.0,95.7 127.5,95.3 128.0,94.8 128.6,94.4 129.1,94.0 129.6,93.5 130.1,93.1 130.7,92.7 131.2,92.2 131.7,91.8 132.3,91.4 132.8,90.9 133.3,90.5 133.9,90.1 134.4,89.6 134.9,89.2 135.4,88.8 136.0,88.4 136.5,87.9 137.0,87.5 137.6,87.1 138.1,86.6 138.6,86.2 139.1,85.8 139.7,85.3 140.2,84.9 140.7,84.5 141.3,84.0 141.8,83.6 142.3,83.2 142.9,82.7 143.4,82.3 143.9,81.9 144.4,81.4 145.0,81.0 145.5,80.6 146.0,80.2 146.6,79.7 147.1,79.3 147.6,78.9 148.1,78.4 148.7,78.0 149.2,77.6 149.7,77.1 150.3,76.7 150.8,76.3 151.3,75.9 151.9,75.4 152.4,75.0 152.9,74.6 153.4,74.1 154.0,73.7 154.5,73.3 155.0,72.9 155.6,72.4 156.1,72.0 156.6,71.6 157.1,71.2 157.7,70.7 158.2,70.3 158.7,69.9 159.3,69.5 159.8,69.0 160.3,68.6 160.9,68.2 161.4,67.8 161.9,67.4 162.4,67.0 163.0,66.5 163.5,66.1 164.0,65.7 164.6,65.3 165.1,64.9 165.6,64.5 166.1,64.1 166.7,63.7 167.2,63.3 167.7,62.9 168.3,62.5 168.8,62.1 169.3,61.7 169.8,61.3 170.4,60.9 170.9,60.5 171.4,60.1 172.0,59.7 172.5,59.4 173.0,59.0 173.6,58.6 174.1,58.2 174.6,57.8 175.1,57.5 175.7,57.1 176.2,56.7 176.7,56.4 177.3,56.0 177.8,55.7 178.3,55.3 178.8,54.9 179.4,54.6 179.9,54.3 180.4,53.9 181.0,53.6 181.5,53.2 182.0,52.9 182.6,52.6 183.1,52.2 183.6,51.9 184.1,51.6 184.7,51.3 185.2,51.0 185.7,50.7 186.3,50.3 186.8,50.0 187.3,49.7 187.8,49.4 188.4,49.1 188.9,48.9 189.4,48.6 190.0,48.3 190.5,48.0 191.0,47.7 191.6,47.4 192.1,47.2 192.6,46.9 193.1,46.6 193.7,46.4 194.2,46.1 194.7,45.8 195.3,45.6 195.8,45.3 196.3,45.1 196.8,44.8 197.4,44.6 197.9,44.4 198.4,44.1 199.0,43.9 199.5,43.6 200.0,43.4 200.6,43.2 201.1,42.9 201.6,42.7 202.1,42.5 202.7,42.3 203.2,42.0 203.7,41.8 204.3,41.6 204.8,41.4 205.3,41.1 205.8,40.9 206.4,40.7 206.9,40.5 207.4,40.3 208.0,40.1 208.5,39.8 209.0,39.6 209.5,39.4 210.1,39.2 210.6,39.0 211.1,38.8 211.7,38.5 212.2,38.3 212.7,38.1 213.3,37.9 213.8,37.7 214.3,37.5 214.8,37.2 215.4,37.0 215.9,36.8 216.4,36.6 217.0,36.4 217.5,36.2 218.0,36.0 218.5,35.7 219.1,35.5 219.6,35.3 220.1,35.1 220.7,34.9 221.2,34.7 221.7,34.4 222.3,34.2 222.8,34.0 223.3,33.8 223.8,33.6 224.4,33.4 224.9,33.1 225.4,32.9 226.0,32.7 226.5,32.5 227.0,32.3 227.5,32.1 228.1,31.9 228.6,31.6 229.1,31.4 229.7,31.2 230.2,31.0 230.7,30.8 231.3,30.6 231.8,30.3 232.3,30.1 232.8,29.9 233.4,29.7 233.9,29.5 234.4,29.3 235.0,29.0 235.5,28.8 236.0,28.6 236.5,28.4 237.1,28.2 237.6,28.0 238.1,27.8 238.7,27.5 239.2,27.3 239.7,27.1 240.3,26.9 240.8,26.7 241.3,26.5 241.8,26.2 242.4,26.0 242.9,25.8 243.4,25.6 244.0,25.4 244.5,25.2 245.0,24.9 245.5,24.7 246.1,24.5 246.6,24.3 247.1,24.1 247.7,23.9 248.2,23.7 248.7,23.4 249.2,23.2 249.8,23.0 250.3,22.8 250.8,22.6 251.4,22.4 251.9,22.1 252.4,21.9 253.0,21.7 253.5,21.5 254.0,21.3 254.5,21.1 255.1,20.8 255.6,20.6 256.1,20.4 256.7,20.2 257.2,20.0 257.7,19.8 258.2,19.6 258.8,19.3 259.3,19.1 259.8,18.9 260.4,18.7 260.9,18.5 261.4,18.3 262.0,18.0 262.5,17.8 263.0,17.6 263.5,17.4 264.1,17.2 264.6,17.0" fill="none" stroke="#00ffff" stroke-width="1.15" stroke-linejoin="round"/>
<polyline points="26.4,145.6 26.9,145.5 27.5,145.4 28.0,145.4 28.5,145.3 29.0,145.2 29.6,145.1 30.1,145.0 30.6,144.9 31.2,144.8 31.7,144.7 32.2,144.7 32.8,144.6 33.3,144.5 33.8,144.4 34.3,144.3 34.9,144.2 35.4,144.1 35.9,144.0 36.5,143.9 37.0,143.8 37.5,143.7 38.0,143.6 38.6,143.5 39.1,143.4 39.6,143.2 40.2,143.1 40.7,143.0 41.2,142.9 41.8,142.7 42.3,142.6 42.8,142.5 43.3,142.3 43.9,142.2 44.4,142.0 44.9,141.9 45.5,141.7 46.0,141.6 46.5,141.4 47.0,141.2 47.6,141.1 48.1,140.9 48.6,140.7 49.2,140.5 49.7,140.3 50.2,140.1 50.7,139.9 51.3,139.7 51.8,139.5 52.3,139.3 52.9,139.1 53.4,138.8 53.9,138.6 54.5,138.4 55.0,138.1 55.5,137.9 56.0,137.6 56.6,137.4 57.1,137.1 57.6,136.8 58.2,136.6 58.7,136.3 59.2,136.0 59.7,135.7 60.3,135.4 60.8,135.1 61.3,134.8 61.9,134.5 62.4,134.2 62.9,133.9 63.5,133.6 64.0,133.3 64.5,132.9 65.0,132.6 65.6,132.3 66.1,131.9 66.6,131.6 67.2,131.2 67.7,130.9 68.2,130.5 68.7,130.2 69.3,129.8 69.8,129.5 70.3,129.1 70.9,128.7 71.4,128.4 71.9,128.0 72.5,127.6 73.0,127.2 73.5,126.8 74.0,126.5 74.6,126.1 75.1,125.7 75.6,125.3 76.2,124.9 76.7,124.5 77.2,124.1 77.7,123.7 78.3,123.3 78.8,122.9 79.3,122.5 79.9,122.1 80.4,121.7 80.9,121.3 81.5,120.8 82.0,120.4 82.5,120.0 83.0,119.6 83.6,119.2 84.1,118.8 84.6,118.3 85.2,117.9 85.7,117.5 86.2,117.1 86.7,116.7 87.3,116.2 87.8,115.8 88.3,115.4 88.9,115.0 89.4,114.5 89.9,114.1 90.4,113.7 91.0,113.2 91.5,112.8 92.0,112.4 92.6,112.0 93.1,111.5 93.6,111.1 94.2,110.7 94.7,110.2 95.2,109.8 95.7,109.4 96.3,108.9 96.8,108.5 97.3,108.1 97.9,107.7 98.4,107.2 98.9,106.8 99.4,106.4 100.0,105.9 100.5,105.5 101.0,105.1 101.6,104.6 102.1,104.2 102.6,103.8 103.2,103.3 103.7,102.9 104.2,102.5 104.7,102.0 105.3,101.6 105.8,101.2 106.3,100.8 106.9,100.3 107.4,99.9 107.9,99.5 108.4,99.0 109.0,98.6 109.5,98.2 110.0,97.7 110.6,97.3 111.1,96.9 111.6,96.4 112.2,96.0 112.7,95.6 113.2,95.1 113.7,94.7 114.3,94.3 114.8,93.8 115.3,93.4 115.9,93.0 116.4,92.6 116.9,92.1 117.4,91.7 118.0,91.3 118.5,90.8 119.0,90.4 119.6,90.0 120.1,89.5 120.6,89.1 121.2,88.7 121.7,88.2 122.2,87.8 122.7,87.4 123.3,87.0 123.8,86.5 124.3,86.1 124.9,85.7 125.4,85.2 125.9,84.8 126.4,84.4 127.0,83.9 127.5,83.5 128.0,83.1 128.6,82.7 129.1,82.2 129.6,81.8 130.1,81.4 130.7,81.0 131.2,80.5 131.7,80.1 132.3,79.7 132.8,79.3 133.3,78.8 133.9,78.4 134.4,78.0 134.9,77.6 135.4,77.2 136.0,76.7 136.5,76.3 137.0,75.9 137.6,75.5 138.1,75.1 138.6,74.7 139.1,74.2 139.7,73.8 140.2,73.4 140.7,73.0 141.3,72.6 141.8,72.2 142.3,71.8 142.9,71.4 143.4,71.0 143.9,70.6 144.4,70.2 145.0,69.8 145.5,69.4 146.0,69.0 146.6,68.6 147.1,68.2 147.6,67.8 148.1,67.5 148.7,67.1 149.2,66.7 149.7,66.3 150.3,65.9 150.8,65.6 151.3,65.2 151.9,64.8 152.4,64.5 152.9,64.1 153.4,63.7 154.0,63.4 154.5,63.0 155.0,62.6 155.6,62.3 156.1,61.9 156.6,61.6 157.1,61.2 157.7,60.9 158.2,60.6 158.7,60.2 159.3,59.9 159.8,59.5 160.3,59.2 160.9,58.9 161.4,58.6 161.9,58.2 162.4,57.9 163.0,57.6 163.5,57.3 164.0,57.0 164.6,56.7 165.1,56.3 165.6,56.0 166.1,55.7 166.7,55.4 167.2,55.1 167.7,54.9 168.3,54.6 168.8,54.3 169.3,54.0 169.8,53.7 170.4,53.4 170.9,53.1 171.4,52.9 172.0,52.6 172.5,52.3 173.0,52.0 173.6,51.8 174.1,51.5 174.6,51.2 175.1,51.0 175.7,50.7 176.2,50.5 176.7,50.2 177.3,50.0 177.8,49.7 178.3,49.5 178.8,49.2 179.4,49.0 179.9,48.7 180.4,48.5 181.0,48.2 181.5,48.0 182.0,47.8 182.6,47.5 183.1,47.3 183.6,47.1 184.1,46.8 184.7,46.6 185.2,46.4 185.7,46.1 186.3,45.9 186.8,45.7 187.3,45.5 187.8,45.2 188.4,45.0 188.9,44.8 189.4,44.6 190.0,44.3 190.5,44.1 191.0,43.9 191.6,43.7 192.1,43.5 192.6,43.2 193.1,43.0 193.7,42.8 194.2,42.6 194.7,42.4 195.3,42.2 195.8,41.9 196.3,41.7 196.8,41.5 197.4,41.3 197.9,41.1 198.4,40.9 199.0,40.6 199.5,40.4 200.0,40.2 200.6,40.0 201.1,39.8 201.6,39.6 202.1,39.3 202.7,39.1 203.2,38.9 203.7,38.7 204.3,38.5 204.8,38.3 205.3,38.0 205.8,37.8 206.4,37.6 206.9,37.4 207.4,37.2 208.0,37.0 208.5,36.8 209.0,36.5 209.5,36.3 210.1,36.1 210.6,35.9 211.1,35.7 211.7,35.5 212.2,35.2 212.7,35.0 213.3,34.8 213.8,34.6 214.3,34.4 214.8,34.2 215.4,33.9 215.9,33.7 216.4,33.5 217.0,33.3 217.5,33.1 218.0,32.9 218.5,32.7 219.1,32.4 219.6,32.2 220.1,32.0 220.7,31.8 221.2,31.6 221.7,31.4 222.3,31.1 222.8,30.9 223.3,30.7 223.8,30.5 224.4,30.3 224.9,30.1 225.4,29.8 226.0,29.6 226.5,29.4 227.0,29.2 227.5,29.0 228.1,28.8 228.6,28.6 229.1,28.3 229.7,28.1 230.2,27.9 230.7,27.7 231.3,27.5 231.8,27.3 232.3,27.0 232.8,26.8 233.4,26.6 233.9,26.4 234.4,26.2 235.0,26.0 235.5,25.7 236.0,25.5 236.5,25.3 237.1,25.1 237.6,24.9 238.1,24.7 238.7,24.5 239.2,24.2 239.7,24.0 240.3,23.8 240.8,23.6 241.3,23.4 241.8,23.2 242.4,22.9 242.9,22.7 243.4,22.5 244.0,22.3 244.5,22.1 245.0,21.9 245.5,21.6 246.1,21.4 246.6,21.2 247.1,21.0 247.7,20.8 248.2,20.6 248.7,20.4 249.2,20.1 249.8,19.9 250.3,19.7 250.8,19.5 251.4,19.3 251.9,19.1 252.4,18.8 253.0,18.6 253.5,18.4 254.0,18.2 254.5,18.0 255.1,17.8 255.6,17.5 256.1,17.3 256.7,17.1 257.2,16.9 257.7,16.7 258.2,16.5 258.8,16.3 259.3,16.0 259.8,15.8 260.4,15.6 260.9,15.4 261.4,15.2 262.0,15.0 262.5,14.7 263.0,14.5 263.5,14.3 264.1,14.1 264.6,13.9" fill="none" stroke="#b04a20" stroke-width="1.15" stroke-linejoin="round"/>
<polyline points="26.4,145.6 26.9,145.5 27.5,145.4 28.0,145.4 28.5,145.3 29.0,145.2 29.6,145.1 30.1,145.0 30.6,144.9 31.2,144.8 31.7,144.7 32.2,144.7 32.8,144.6 33.3,144.5 33.8,144.4 34.3,144.3 34.9,144.2 35.4,144.1 35.9,144.1 36.5,144.0 37.0,143.9 37.5,143.8 38.0,143.7 38.6,143.6 39.1,143.5 39.6,143.4 40.2,143.3 40.7,143.2 41.2,143.1 41.8,143.0 42.3,142.9 42.8,142.9 43.3,142.8 43.9,142.7 44.4,142.5 44.9,142.4 45.5,142.3 46.0,142.2 46.5,142.1 47.0,142.0 47.6,141.9 48.1,141.8 48.6,141.7 49.2,141.5 49.7,141.4 50.2,141.3 50.7,141.2 51.3,141.0 51.8,140.9 52.3,140.8 52.9,140.6 53.4,140.5 53.9,140.4 54.5,140.2 55.0,140.1 55.5,139.9 56.0,139.7 56.6,139.6 57.1,139.4 57.6,139.2 58.2,139.1 58.7,138.9 59.2,138.7 59.7,138.5 60.3,138.3 60.8,138.1 61.3,138.0 61.9,137.8 62.4,137.5 62.9,137.3 63.5,137.1 64.0,136.9 64.5,136.7 65.0,136.5 65.6,136.2 66.1,136.0 66.6,135.8 67.2,135.5 67.7,135.3 68.2,135.0 68.7,134.8 69.3,134.5 69.8,134.2 70.3,134.0 70.9,133.7 71.4,133.4 71.9,133.1 72.5,132.9 73.0,132.6 73.5,132.3 74.0,132.0 74.6,131.7 75.1,131.4 75.6,131.1 76.2,130.7 76.7,130.4 77.2,130.1 77.7,129.8 78.3,129.4 78.8,129.1 79.3,128.8 79.9,128.4 80.4,128.1 80.9,127.8 81.5,127.4 82.0,127.1 82.5,126.7 83.0,126.3 83.6,126.0 84.1,125.6 84.6,125.2 85.2,124.9 85.7,124.5 86.2,124.1 86.7,123.7 87.3,123.4 87.8,123.0 88.3,122.6 88.9,122.2 89.4,121.8 89.9,121.4 90.4,121.0 91.0,120.6 91.5,120.2 92.0,119.8 92.6,119.4 93.1,119.0 93.6,118.6 94.2,118.2 94.7,117.8 95.2,117.4 95.7,117.0 96.3,116.6 96.8,116.1 97.3,115.7 97.9,115.3 98.4,114.9 98.9,114.5 99.4,114.1 100.0,113.6 100.5,113.2 101.0,112.8 101.6,112.4 102.1,111.9 102.6,111.5 103.2,111.1 103.7,110.7 104.2,110.2 104.7,109.8 105.3,109.4 105.8,109.0 106.3,108.5 106.9,108.1 107.4,107.7 107.9,107.2 108.4,106.8 109.0,106.4 109.5,106.0 110.0,105.5 110.6,105.1 111.1,104.7 111.6,104.2 112.2,103.8 112.7,103.4 113.2,102.9 113.7,102.5 114.3,102.1 114.8,101.6 115.3,101.2 115.9,100.8 116.4,100.4 116.9,99.9 117.4,99.5 118.0,99.1 118.5,98.6 119.0,98.2 119.6,97.8 120.1,97.3 120.6,96.9 121.2,96.5 121.7,96.0 122.2,95.6 122.7,95.2 123.3,94.7 123.8,94.3 124.3,93.9 124.9,93.4 125.4,93.0 125.9,92.6 126.4,92.2 127.0,91.7 127.5,91.3 128.0,90.9 128.6,90.4 129.1,90.0 129.6,89.6 130.1,89.1 130.7,88.7 131.2,88.3 131.7,87.8 132.3,87.4 132.8,87.0 133.3,86.5 133.9,86.1 134.4,85.7 134.9,85.3 135.4,84.8 136.0,84.4 136.5,84.0 137.0,83.5 137.6,83.1 138.1,82.7 138.6,82.2 139.1,81.8 139.7,81.4 140.2,80.9 140.7,80.5 141.3,80.1 141.8,79.7 142.3,79.2 142.9,78.8 143.4,78.4 143.9,78.0 144.4,77.5 145.0,77.1 145.5,76.7 146.0,76.3 146.6,75.8 147.1,75.4 147.6,75.0 148.1,74.6 148.7,74.1 149.2,73.7 149.7,73.3 150.3,72.9 150.8,72.5 151.3,72.1 151.9,71.6 152.4,71.2 152.9,70.8 153.4,70.4 154.0,70.0 154.5,69.6 155.0,69.2 155.6,68.8 156.1,68.4 156.6,68.0 157.1,67.6 157.7,67.2 158.2,66.8 158.7,66.4 159.3,66.0 159.8,65.6 160.3,65.2 160.9,64.8 161.4,64.4 161.9,64.0 162.4,63.7 163.0,63.3 163.5,62.9 164.0,62.5 164.6,62.2 165.1,61.8 165.6,61.4 166.1,61.1 166.7,60.7 167.2,60.3 167.7,60.0 168.3,59.6 168.8,59.3 169.3,58.9 169.8,58.6 170.4,58.2 170.9,57.9 171.4,57.6 172.0,57.2 172.5,56.9 173.0,56.6 173.6,56.2 174.1,55.9 174.6,55.6 175.1,55.3 175.7,55.0 176.2,54.6 176.7,54.3 177.3,54.0 177.8,53.7 178.3,53.4 178.8,53.1 179.4,52.8 179.9,52.5 180.4,52.3 181.0,52.0 181.5,51.7 182.0,51.4 182.6,51.1 183.1,50.8 183.6,50.6 184.1,50.3 184.7,50.0 185.2,49.8 185.7,49.5 186.3,49.2 186.8,49.0 187.3,48.7 187.8,48.5 188.4,48.2 188.9,48.0 189.4,47.7 190.0,47.5 190.5,47.2 191.0,47.0 191.6,46.8 192.1,46.5 192.6,46.3 193.1,46.0 193.7,45.8 194.2,45.6 194.7,45.3 195.3,45.1 195.8,44.9 196.3,44.7 196.8,44.4 197.4,44.2 197.9,44.0 198.4,43.8 199.0,43.5 199.5,43.3 200.0,43.1 200.6,42.9 201.1,42.7 201.6,42.4 202.1,42.2 202.7,42.0 203.2,41.8 203.7,41.6 204.3,41.3 204.8,41.1 205.3,40.9 205.8,40.7 206.4,40.5 206.9,40.3 207.4,40.0 208.0,39.8 208.5,39.6 209.0,39.4 209.5,39.2 210.1,39.0 210.6,38.8 211.1,38.5 211.7,38.3 212.2,38.1 212.7,37.9 213.3,37.7 213.8,37.5 214.3,37.2 214.8,37.0 215.4,36.8 215.9,36.6 216.4,36.4 217.0,36.2 217.5,35.9 218.0,35.7 218.5,35.5 219.1,35.3 219.6,35.1 220.1,34.9 220.7,34.7 221.2,34.4 221.7,34.2 222.3,34.0 222.8,33.8 223.3,33.6 223.8,33.4 224.4,33.1 224.9,32.9 225.4,32.7 226.0,32.5 226.5,32.3 227.0,32.1 227.5,31.8 228.1,31.6 228.6,31.4 229.1,31.2 229.7,31.0 230.2,30.8 230.7,30.6 231.3,30.3 231.8,30.1 232.3,29.9 232.8,29.7 233.4,29.5 233.9,29.3 234.4,29.0 235.0,28.8 235.5,28.6 236.0,28.4 236.5,28.2 237.1,28.0 237.6,27.7 238.1,27.5 238.7,27.3 239.2,27.1 239.7,26.9 240.3,26.7 240.8,26.5 241.3,26.2 241.8,26.0 242.4,25.8 242.9,25.6 243.4,25.4 244.0,25.2 244.5,24.9 245.0,24.7 245.5,24.5 246.1,24.3 246.6,24.1 247.1,23.9 247.7,23.6 248.2,23.4 248.7,23.2 249.2,23.0 249.8,22.8 250.3,22.6 250.8,22.4 251.4,22.1 251.9,21.9 252.4,21.7 253.0,21.5 253.5,21.3 254.0,21.1 254.5,20.8 255.1,20.6 255.6,20.4 256.1,20.2 256.7,20.0 257.2,19.8 257.7,19.5 258.2,19.3 258.8,19.1 259.3,18.9 259.8,18.7 260.4,18.5 260.9,18.3 261.4,18.0 262.0,17.8 262.5,17.6 263.0,17.4 263.5,17.2 264.1,17.0 264.6,16.7" fill="none" stroke="#ff8fc0" stroke-width="1.15" stroke-linejoin="round"/>
<text x="26.40" y="165.70" text-anchor="middle" class="tk">0</text>
<text x="52.87" y="165.70" text-anchor="middle" class="tk">0.2</text>
<text x="79.33" y="165.70" text-anchor="middle" class="tk">0.4</text>
<text x="105.80" y="165.70" text-anchor="middle" class="tk">0.6</text>
<text x="132.27" y="165.70" text-anchor="middle" class="tk">0.8</text>
<text x="158.73" y="165.70" text-anchor="middle" class="tk">1</text>
<text x="185.20" y="165.70" text-anchor="middle" class="tk">1.2</text>
<text x="211.67" y="165.70" text-anchor="middle" class="tk">1.4</text>
<text x="238.13" y="165.70" text-anchor="middle" class="tk">1.6</text>
<text x="264.60" y="165.70" text-anchor="middle" class="tk">1.8</text>
<text x="23.20" y="159.30" text-anchor="end" class="tk">0.2</text>
<text x="23.20" y="137.72" text-anchor="end" class="tk">0.4</text>
<text x="23.20" y="116.14" text-anchor="end" class="tk">0.6</text>
<text x="23.20" y="94.56" text-anchor="end" class="tk">0.8</text>
<text x="23.20" y="72.99" text-anchor="end" class="tk">1</text>
<text x="23.20" y="51.41" text-anchor="end" class="tk">1.2</text>
<text x="23.20" y="29.83" text-anchor="end" class="tk">1.4</text>
<text x="23.20" y="8.25" text-anchor="end" class="tk">1.6</text>
<text x="146.20" y="174.60" text-anchor="middle" class="lb">Time [s]</text>
<text transform="translate(10.80,80.88) rotate(-90)" text-anchor="middle" class="lb" style="font-size:7.1px">Displacement [m]</text>
<text x="137.40" y="189.80" text-anchor="middle" class="cap">(<tspan style="stroke-width:0.45px">a</tspan>)</text>
<rect x="223.40" y="83.40" width="35.10" height="69.20" fill="#fff" class="lg"/>
<line x1="225.20" y1="88.40" x2="240.70" y2="88.40" stroke="#ffff00" stroke-width="1.4"/>
<text x="241.60" y="90.60" class="tk lt">2-1-2</text>
<line x1="225.20" y1="96.93" x2="240.70" y2="96.93" stroke="#0000ff" stroke-width="1.4"/>
<text x="241.60" y="99.13" class="tk lt">3-1-2</text>
<line x1="225.20" y1="105.46" x2="240.70" y2="105.46" stroke="#ff0000" stroke-width="1.4"/>
<text x="241.60" y="107.66" class="tk lt">2-1-3</text>
<line x1="225.20" y1="113.99" x2="240.70" y2="113.99" stroke="#00ff00" stroke-width="1.4"/>
<text x="241.60" y="116.19" class="tk lt">3-1-3</text>
<line x1="225.20" y1="122.52" x2="240.70" y2="122.52" stroke="#ff00ff" stroke-width="1.4"/>
<text x="241.60" y="124.72" class="tk lt">2-3-2</text>
<line x1="225.20" y1="131.05" x2="240.70" y2="131.05" stroke="#00ffff" stroke-width="1.4"/>
<text x="241.60" y="133.25" class="tk lt">3-3-2</text>
<line x1="225.20" y1="139.58" x2="240.70" y2="139.58" stroke="#b04a20" stroke-width="1.4"/>
<text x="241.60" y="141.78" class="tk lt">2-3-3</text>
<line x1="225.20" y1="148.11" x2="240.70" y2="148.11" stroke="#ff8fc0" stroke-width="1.4"/>
<text x="241.60" y="150.31" class="tk lt">3-3-3</text>
<line x1="331.93" y1="5.35" x2="331.93" y2="155.80" class="gr"/>
<line x1="358.47" y1="5.35" x2="358.47" y2="155.80" class="gr"/>
<line x1="385.00" y1="5.35" x2="385.00" y2="155.80" class="gr"/>
<line x1="411.53" y1="5.35" x2="411.53" y2="155.80" class="gr"/>
<line x1="438.07" y1="5.35" x2="438.07" y2="155.80" class="gr"/>
<line x1="464.60" y1="5.35" x2="464.60" y2="155.80" class="gr"/>
<line x1="491.13" y1="5.35" x2="491.13" y2="155.80" class="gr"/>
<line x1="517.67" y1="5.35" x2="517.67" y2="155.80" class="gr"/>
<line x1="305.40" y1="140.75" x2="544.20" y2="140.75" class="gr"/>
<line x1="305.40" y1="125.71" x2="544.20" y2="125.71" class="gr"/>
<line x1="305.40" y1="110.66" x2="544.20" y2="110.66" class="gr"/>
<line x1="305.40" y1="95.62" x2="544.20" y2="95.62" class="gr"/>
<line x1="305.40" y1="80.58" x2="544.20" y2="80.58" class="gr"/>
<line x1="305.40" y1="65.53" x2="544.20" y2="65.53" class="gr"/>
<line x1="305.40" y1="50.48" x2="544.20" y2="50.48" class="gr"/>
<line x1="305.40" y1="35.44" x2="544.20" y2="35.44" class="gr"/>
<line x1="305.40" y1="20.39" x2="544.20" y2="20.39" class="gr"/>
<path d="M331.93,155.80v-2.4M331.93,5.35v2.4" class="tm"/>
<path d="M358.47,155.80v-2.4M358.47,5.35v2.4" class="tm"/>
<path d="M385.00,155.80v-2.4M385.00,5.35v2.4" class="tm"/>
<path d="M411.53,155.80v-2.4M411.53,5.35v2.4" class="tm"/>
<path d="M438.07,155.80v-2.4M438.07,5.35v2.4" class="tm"/>
<path d="M464.60,155.80v-2.4M464.60,5.35v2.4" class="tm"/>
<path d="M491.13,155.80v-2.4M491.13,5.35v2.4" class="tm"/>
<path d="M517.67,155.80v-2.4M517.67,5.35v2.4" class="tm"/>
<path d="M305.40,140.75h2.4M544.20,140.75h-2.4" class="tm"/>
<path d="M305.40,125.71h2.4M544.20,125.71h-2.4" class="tm"/>
<path d="M305.40,110.66h2.4M544.20,110.66h-2.4" class="tm"/>
<path d="M305.40,95.62h2.4M544.20,95.62h-2.4" class="tm"/>
<path d="M305.40,80.58h2.4M544.20,80.58h-2.4" class="tm"/>
<path d="M305.40,65.53h2.4M544.20,65.53h-2.4" class="tm"/>
<path d="M305.40,50.48h2.4M544.20,50.48h-2.4" class="tm"/>
<path d="M305.40,35.44h2.4M544.20,35.44h-2.4" class="tm"/>
<path d="M305.40,20.39h2.4M544.20,20.39h-2.4" class="tm"/>
<rect x="305.40" y="5.35" width="238.80" height="150.45" class="ax"/>
<polyline points="305.4,140.8 305.9,140.8 306.5,140.8 307.0,140.8 307.5,140.7 308.1,140.7 308.6,140.7 309.1,140.7 309.6,140.7 310.2,140.7 310.7,140.7 311.2,140.6 311.8,140.6 312.3,140.5 312.8,140.5 313.4,140.4 313.9,140.4 314.4,140.3 315.0,140.2 315.5,140.1 316.0,140.0 316.5,139.9 317.1,139.8 317.6,139.6 318.1,139.5 318.7,139.3 319.2,139.2 319.7,139.0 320.3,138.8 320.8,138.6 321.3,138.4 321.9,138.1 322.4,137.9 322.9,137.7 323.4,137.4 324.0,137.1 324.5,136.8 325.0,136.5 325.6,136.2 326.1,135.9 326.6,135.5 327.2,135.2 327.7,134.8 328.2,134.4 328.7,134.0 329.3,133.6 329.8,133.2 330.3,132.8 330.9,132.3 331.4,131.9 331.9,131.4 332.5,130.9 333.0,130.4 333.5,129.9 334.1,129.3 334.6,128.8 335.1,128.2 335.6,127.7 336.2,127.1 336.7,126.5 337.2,125.9 337.8,125.3 338.3,124.6 338.8,124.0 339.4,123.3 339.9,122.7 340.4,122.0 341.0,121.3 341.5,120.6 342.0,119.9 342.5,119.1 343.1,118.4 343.6,117.6 344.1,116.9 344.7,116.1 345.2,115.3 345.7,114.5 346.3,113.7 346.8,112.9 347.3,112.1 347.9,111.3 348.4,110.4 348.9,109.6 349.4,108.7 350.0,107.8 350.5,107.0 351.0,106.1 351.6,105.2 352.1,104.3 352.6,103.4 353.2,102.5 353.7,101.6 354.2,100.7 354.8,99.7 355.3,98.8 355.8,97.9 356.3,96.9 356.9,96.0 357.4,95.0 357.9,94.0 358.5,93.1 359.0,92.1 359.5,91.1 360.1,90.2 360.6,89.2 361.1,88.2 361.7,87.2 362.2,86.2 362.7,85.3 363.2,84.3 363.8,83.3 364.3,82.3 364.8,81.3 365.4,80.3 365.9,79.3 366.4,78.3 367.0,77.3 367.5,76.3 368.0,75.4 368.5,74.4 369.1,73.4 369.6,72.4 370.1,71.4 370.7,70.4 371.2,69.5 371.7,68.5 372.3,67.5 372.8,66.6 373.3,65.6 373.9,64.6 374.4,63.7 374.9,62.7 375.4,61.8 376.0,60.9 376.5,59.9 377.0,59.0 377.6,58.1 378.1,57.2 378.6,56.2 379.2,55.3 379.7,54.5 380.2,53.6 380.8,52.7 381.3,51.8 381.8,50.9 382.3,50.1 382.9,49.2 383.4,48.4 383.9,47.6 384.5,46.8 385.0,45.9 385.5,45.1 386.1,44.3 386.6,43.6 387.1,42.8 387.7,42.0 388.2,41.3 388.7,40.5 389.2,39.8 389.8,39.1 390.3,38.4 390.8,37.7 391.4,37.0 391.9,36.3 392.4,35.7 393.0,35.0 393.5,34.4 394.0,33.8 394.6,33.2 395.1,32.6 395.6,32.0 396.1,31.4 396.7,30.8 397.2,30.3 397.7,29.8 398.3,29.3 398.8,28.8 399.3,28.3 399.9,27.8 400.4,27.3 400.9,26.9 401.5,26.5 402.0,26.0 402.5,25.6 403.0,25.2 403.6,24.9 404.1,24.5 404.6,24.2 405.2,23.8 405.7,23.5 406.2,23.2 406.8,22.9 407.3,22.7 407.8,22.4 408.3,22.2 408.9,21.9 409.4,21.7 409.9,21.5 410.5,21.4 411.0,21.2 411.5,21.0 412.1,20.9 412.6,20.8 413.1,20.7 413.7,20.6 414.2,20.5 414.7,20.5 415.2,20.4 415.8,20.4 416.3,20.4 416.8,20.4 417.4,20.4 417.9,20.5 418.4,20.5 419.0,20.6 419.5,20.6 420.0,20.7 420.6,20.8 421.1,21.0 421.6,21.1 422.1,21.2 422.7,21.4 423.2,21.6 423.7,21.8 424.3,22.0 424.8,22.2 425.3,22.4 425.9,22.7 426.4,23.0 426.9,23.2 427.5,23.5 428.0,23.8 428.5,24.1 429.0,24.5 429.6,24.8 430.1,25.1 430.6,25.5 431.2,25.9 431.7,26.3 432.2,26.7 432.8,27.1 433.3,27.5 433.8,27.9 434.4,28.4 434.9,28.9 435.4,29.3 435.9,29.8 436.5,30.3 437.0,30.8 437.5,31.3 438.1,31.8 438.6,32.3 439.1,32.9 439.7,33.4 440.2,34.0 440.7,34.6 441.3,35.1 441.8,35.7 442.3,36.3 442.8,36.9 443.4,37.5 443.9,38.1 444.4,38.7 445.0,39.4 445.5,40.0 446.0,40.6 446.6,41.3 447.1,41.9 447.6,42.6 448.1,43.2 448.7,43.9 449.2,44.6 449.7,45.3 450.3,45.9 450.8,46.6 451.3,47.3 451.9,48.0 452.4,48.7 452.9,49.4 453.5,50.1 454.0,50.8 454.5,51.5 455.0,52.2 455.6,52.9 456.1,53.6 456.6,54.3 457.2,55.1 457.7,55.8 458.2,56.5 458.8,57.2 459.3,57.9 459.8,58.6 460.4,59.3 460.9,60.0 461.4,60.8 461.9,61.5 462.5,62.2 463.0,62.9 463.5,63.6 464.1,64.3 464.6,65.0 465.1,65.7 465.7,66.4 466.2,67.0 466.7,67.7 467.3,68.4 467.8,69.1 468.3,69.7 468.8,70.4 469.4,71.1 469.9,71.7 470.4,72.4 471.0,73.0 471.5,73.6 472.0,74.3 472.6,74.9 473.1,75.5 473.6,76.1 474.2,76.7 474.7,77.3 475.2,77.9 475.7,78.5 476.3,79.1 476.8,79.6 477.3,80.2 477.9,80.7 478.4,81.3 478.9,81.8 479.5,82.3 480.0,82.8 480.5,83.3 481.1,83.8 481.6,84.3 482.1,84.8 482.6,85.2 483.2,85.7 483.7,86.1 484.2,86.6 484.8,87.0 485.3,87.4 485.8,87.8 486.4,88.2 486.9,88.6 487.4,88.9 487.9,89.3 488.5,89.6 489.0,90.0 489.5,90.3 490.1,90.6 490.6,90.9 491.1,91.2 491.7,91.5 492.2,91.8 492.7,92.1 493.3,92.3 493.8,92.5 494.3,92.8 494.8,93.0 495.4,93.2 495.9,93.4 496.4,93.6 497.0,93.8 497.5,93.9 498.0,94.1 498.6,94.3 499.1,94.4 499.6,94.5 500.2,94.7 500.7,94.8 501.2,94.9 501.7,95.0 502.3,95.1 502.8,95.1 503.3,95.2 503.9,95.3 504.4,95.3 504.9,95.4 505.5,95.4 506.0,95.5 506.5,95.5 507.1,95.5 507.6,95.6 508.1,95.6 508.6,95.6 509.2,95.6 509.7,95.6 510.2,95.6 510.8,95.6 511.3,95.6 511.8,95.6 512.4,95.6 512.9,95.6 513.4,95.6 514.0,95.6 514.5,95.6 515.0,95.6 515.5,95.6 516.1,95.6 516.6,95.6 517.1,95.6 517.7,95.6 518.2,95.6 518.7,95.6 519.3,95.6 519.8,95.6 520.3,95.6 520.9,95.6 521.4,95.6 521.9,95.6 522.4,95.6 523.0,95.6 523.5,95.6 524.0,95.6 524.6,95.6 525.1,95.6 525.6,95.6 526.2,95.6 526.7,95.6 527.2,95.6 527.7,95.6 528.3,95.6 528.8,95.6 529.3,95.6 529.9,95.6 530.4,95.6 530.9,95.6 531.5,95.6 532.0,95.6 532.5,95.6 533.1,95.6 533.6,95.6 534.1,95.6 534.6,95.6 535.2,95.6 535.7,95.6 536.2,95.6 536.8,95.6 537.3,95.6 537.8,95.6 538.4,95.6 538.9,95.6 539.4,95.6 540.0,95.6 540.5,95.6 541.0,95.6 541.5,95.6 542.1,95.6 542.6,95.6 543.1,95.6 543.7,95.6 544.2,95.6" fill="none" stroke="#ffff00" stroke-width="1.15" stroke-linejoin="round"/>
<polyline points="305.4,140.8 305.9,140.8 306.5,140.8 307.0,140.8 307.5,140.8 308.1,140.8 308.6,140.8 309.1,140.8 309.6,140.8 310.2,140.8 310.7,140.8 311.2,140.7 311.8,140.7 312.3,140.7 312.8,140.7 313.4,140.7 313.9,140.7 314.4,140.7 315.0,140.7 315.5,140.7 316.0,140.7 316.5,140.7 317.1,140.7 317.6,140.7 318.1,140.6 318.7,140.6 319.2,140.6 319.7,140.6 320.3,140.5 320.8,140.5 321.3,140.5 321.9,140.5 322.4,140.4 322.9,140.4 323.4,140.3 324.0,140.3 324.5,140.2 325.0,140.2 325.6,140.1 326.1,140.0 326.6,140.0 327.2,139.9 327.7,139.8 328.2,139.7 328.7,139.6 329.3,139.5 329.8,139.4 330.3,139.3 330.9,139.2 331.4,139.1 331.9,139.0 332.5,138.9 333.0,138.7 333.5,138.6 334.1,138.4 334.6,138.3 335.1,138.1 335.6,137.9 336.2,137.7 336.7,137.6 337.2,137.4 337.8,137.2 338.3,137.0 338.8,136.7 339.4,136.5 339.9,136.3 340.4,136.0 341.0,135.8 341.5,135.5 342.0,135.3 342.5,135.0 343.1,134.7 343.6,134.4 344.1,134.1 344.7,133.8 345.2,133.5 345.7,133.1 346.3,132.8 346.8,132.4 347.3,132.1 347.9,131.7 348.4,131.3 348.9,130.9 349.4,130.5 350.0,130.1 350.5,129.7 351.0,129.3 351.6,128.8 352.1,128.4 352.6,127.9 353.2,127.5 353.7,127.0 354.2,126.5 354.8,126.0 355.3,125.5 355.8,125.0 356.3,124.5 356.9,123.9 357.4,123.4 357.9,122.8 358.5,122.2 359.0,121.7 359.5,121.1 360.1,120.5 360.6,119.9 361.1,119.3 361.7,118.6 362.2,118.0 362.7,117.4 363.2,116.7 363.8,116.1 364.3,115.4 364.8,114.7 365.4,114.0 365.9,113.3 366.4,112.6 367.0,111.9 367.5,111.2 368.0,110.4 368.5,109.7 369.1,109.0 369.6,108.2 370.1,107.4 370.7,106.7 371.2,105.9 371.7,105.1 372.3,104.3 372.8,103.5 373.3,102.7 373.9,101.9 374.4,101.1 374.9,100.2 375.4,99.4 376.0,98.6 376.5,97.7 377.0,96.9 377.6,96.0 378.1,95.2 378.6,94.3 379.2,93.4 379.7,92.5 380.2,91.7 380.8,90.8 381.3,89.9 381.8,89.0 382.3,88.1 382.9,87.2 383.4,86.3 383.9,85.4 384.5,84.5 385.0,83.6 385.5,82.7 386.1,81.7 386.6,80.8 387.1,79.9 387.7,79.0 388.2,78.1 388.7,77.1 389.2,76.2 389.8,75.3 390.3,74.4 390.8,73.4 391.4,72.5 391.9,71.6 392.4,70.7 393.0,69.7 393.5,68.8 394.0,67.9 394.6,67.0 395.1,66.1 395.6,65.2 396.1,64.3 396.7,63.3 397.2,62.4 397.7,61.5 398.3,60.6 398.8,59.8 399.3,58.9 399.9,58.0 400.4,57.1 400.9,56.2 401.5,55.4 402.0,54.5 402.5,53.6 403.0,52.8 403.6,51.9 404.1,51.1 404.6,50.3 405.2,49.4 405.7,48.6 406.2,47.8 406.8,47.0 407.3,46.2 407.8,45.4 408.3,44.6 408.9,43.9 409.4,43.1 409.9,42.3 410.5,41.6 411.0,40.9 411.5,40.1 412.1,39.4 412.6,38.7 413.1,38.0 413.7,37.3 414.2,36.7 414.7,36.0 415.2,35.4 415.8,34.7 416.3,34.1 416.8,33.5 417.4,32.9 417.9,32.3 418.4,31.7 419.0,31.1 419.5,30.6 420.0,30.1 420.6,29.5 421.1,29.0 421.6,28.5 422.1,28.0 422.7,27.6 423.2,27.1 423.7,26.7 424.3,26.2 424.8,25.8 425.3,25.4 425.9,25.0 426.4,24.7 426.9,24.3 427.5,24.0 428.0,23.6 428.5,23.3 429.0,23.0 429.6,22.7 430.1,22.5 430.6,22.2 431.2,22.0 431.7,21.8 432.2,21.6 432.8,21.4 433.3,21.2 433.8,21.1 434.4,20.9 434.9,20.8 435.4,20.7 435.9,20.6 436.5,20.5 437.0,20.5 437.5,20.4 438.1,20.4 438.6,20.4 439.1,20.4 439.7,20.4 440.2,20.5 440.7,20.5 441.3,20.6 441.8,20.7 442.3,20.8 442.8,20.9 443.4,21.0 443.9,21.2 444.4,21.4 445.0,21.5 445.5,21.7 446.0,22.0 446.6,22.2 447.1,22.4 447.6,22.7 448.1,23.0 448.7,23.3 449.2,23.6 449.7,23.9 450.3,24.2 450.8,24.6 451.3,24.9 451.9,25.3 452.4,25.7 452.9,26.1 453.5,26.5 454.0,27.0 454.5,27.4 455.0,27.9 455.6,28.4 456.1,28.9 456.6,29.4 457.2,29.9 457.7,30.4 458.2,30.9 458.8,31.5 459.3,32.0 459.8,32.6 460.4,33.2 460.9,33.8 461.4,34.4 461.9,35.0 462.5,35.6 463.0,36.3 463.5,36.9 464.1,37.6 464.6,38.2 465.1,38.9 465.7,39.6 466.2,40.3 466.7,40.9 467.3,41.7 467.8,42.4 468.3,43.1 468.8,43.8 469.4,44.5 469.9,45.3 470.4,46.0 471.0,46.8 471.5,47.5 472.0,48.3 472.6,49.0 473.1,49.8 473.6,50.5 474.2,51.3 474.7,52.1 475.2,52.9 475.7,53.6 476.3,54.4 476.8,55.2 477.3,56.0 477.9,56.8 478.4,57.6 478.9,58.3 479.5,59.1 480.0,59.9 480.5,60.7 481.1,61.5 481.6,62.3 482.1,63.0 482.6,63.8 483.2,64.6 483.7,65.3 484.2,66.1 484.8,66.9 485.3,67.6 485.8,68.4 486.4,69.1 486.9,69.9 487.4,70.6 487.9,71.3 488.5,72.1 489.0,72.8 489.5,73.5 490.1,74.2 490.6,74.9 491.1,75.6 491.7,76.2 492.2,76.9 492.7,77.6 493.3,78.2 493.8,78.9 494.3,79.5 494.8,80.1 495.4,80.7 495.9,81.3 496.4,81.9 497.0,82.5 497.5,83.1 498.0,83.6 498.6,84.2 499.1,84.7 499.6,85.3 500.2,85.8 500.7,86.3 501.2,86.7 501.7,87.2 502.3,87.7 502.8,88.1 503.3,88.5 503.9,89.0 504.4,89.4 504.9,89.8 505.5,90.1 506.0,90.5 506.5,90.9 507.1,91.2 507.6,91.5 508.1,91.8 508.6,92.1 509.2,92.4 509.7,92.7 510.2,92.9 510.8,93.2 511.3,93.4 511.8,93.6 512.4,93.8 512.9,94.0 513.4,94.2 514.0,94.4 514.5,94.5 515.0,94.6 515.5,94.8 516.1,94.9 516.6,95.0 517.1,95.1 517.7,95.2 518.2,95.3 518.7,95.3 519.3,95.4 519.8,95.4 520.3,95.5 520.9,95.5 521.4,95.5 521.9,95.6 522.4,95.6 523.0,95.6 523.5,95.6 524.0,95.6 524.6,95.6 525.1,95.6 525.6,95.6 526.2,95.6 526.7,95.6 527.2,95.6 527.7,95.6 528.3,95.6 528.8,95.6 529.3,95.6 529.9,95.6 530.4,95.6 530.9,95.6 531.5,95.6 532.0,95.6 532.5,95.6 533.1,95.6 533.6,95.6 534.1,95.6 534.6,95.6 535.2,95.6 535.7,95.6 536.2,95.6 536.8,95.6 537.3,95.6 537.8,95.6 538.4,95.6 538.9,95.6 539.4,95.6 540.0,95.6 540.5,95.6 541.0,95.6 541.5,95.6 542.1,95.6 542.6,95.6 543.1,95.6 543.7,95.6 544.2,95.6" fill="none" stroke="#0000ff" stroke-width="1.15" stroke-linejoin="round"/>
<polyline points="305.4,140.8 305.9,140.8 306.5,140.8 307.0,140.7 307.5,140.7 308.1,140.7 308.6,140.7 309.1,140.7 309.6,140.7 310.2,140.6 310.7,140.6 311.2,140.5 311.8,140.4 312.3,140.3 312.8,140.2 313.4,140.1 313.9,140.0 314.4,139.9 315.0,139.7 315.5,139.6 316.0,139.4 316.5,139.2 317.1,138.9 317.6,138.7 318.1,138.5 318.7,138.2 319.2,137.9 319.7,137.6 320.3,137.3 320.8,136.9 321.3,136.5 321.9,136.2 322.4,135.7 322.9,135.3 323.4,134.9 324.0,134.4 324.5,133.9 325.0,133.4 325.6,132.9 326.1,132.4 326.6,131.8 327.2,131.2 327.7,130.6 328.2,130.0 328.7,129.4 329.3,128.7 329.8,128.0 330.3,127.3 330.9,126.6 331.4,125.9 331.9,125.1 332.5,124.4 333.0,123.6 333.5,122.8 334.1,121.9 334.6,121.1 335.1,120.3 335.6,119.4 336.2,118.5 336.7,117.6 337.2,116.7 337.8,115.8 338.3,114.8 338.8,113.9 339.4,112.9 339.9,111.9 340.4,110.9 341.0,109.9 341.5,108.9 342.0,107.9 342.5,106.8 343.1,105.8 343.6,104.7 344.1,103.6 344.7,102.5 345.2,101.5 345.7,100.4 346.3,99.3 346.8,98.1 347.3,97.0 347.9,95.9 348.4,94.8 348.9,93.6 349.4,92.5 350.0,91.4 350.5,90.2 351.0,89.1 351.6,87.9 352.1,86.7 352.6,85.6 353.2,84.4 353.7,83.3 354.2,82.1 354.8,80.9 355.3,79.8 355.8,78.6 356.3,77.5 356.9,76.3 357.4,75.2 357.9,74.0 358.5,72.9 359.0,71.7 359.5,70.6 360.1,69.4 360.6,68.3 361.1,67.2 361.7,66.1 362.2,64.9 362.7,63.8 363.2,62.7 363.8,61.6 364.3,60.6 364.8,59.5 365.4,58.4 365.9,57.4 366.4,56.3 367.0,55.3 367.5,54.2 368.0,53.2 368.5,52.2 369.1,51.2 369.6,50.2 370.1,49.3 370.7,48.3 371.2,47.4 371.7,46.4 372.3,45.5 372.8,44.6 373.3,43.7 373.9,42.8 374.4,41.9 374.9,41.1 375.4,40.3 376.0,39.4 376.5,38.6 377.0,37.8 377.6,37.1 378.1,36.3 378.6,35.5 379.2,34.8 379.7,34.1 380.2,33.4 380.8,32.7 381.3,32.1 381.8,31.4 382.3,30.8 382.9,30.2 383.4,29.6 383.9,29.0 384.5,28.5 385.0,27.9 385.5,27.4 386.1,26.9 386.6,26.4 387.1,26.0 387.7,25.5 388.2,25.1 388.7,24.7 389.2,24.3 389.8,23.9 390.3,23.6 390.8,23.2 391.4,22.9 391.9,22.6 392.4,22.3 393.0,22.1 393.5,21.8 394.0,21.6 394.6,21.4 395.1,21.2 395.6,21.1 396.1,20.9 396.7,20.8 397.2,20.7 397.7,20.6 398.3,20.5 398.8,20.5 399.3,20.4 399.9,20.4 400.4,20.4 400.9,20.4 401.5,20.4 402.0,20.5 402.5,20.6 403.0,20.6 403.6,20.7 404.1,20.9 404.6,21.0 405.2,21.2 405.7,21.3 406.2,21.5 406.8,21.7 407.3,21.9 407.8,22.2 408.3,22.4 408.9,22.7 409.4,22.9 409.9,23.2 410.5,23.5 411.0,23.9 411.5,24.2 412.1,24.5 412.6,24.9 413.1,25.3 413.7,25.7 414.2,26.1 414.7,26.5 415.2,26.9 415.8,27.4 416.3,27.8 416.8,28.3 417.4,28.8 417.9,29.2 418.4,29.7 419.0,30.3 419.5,30.8 420.0,31.3 420.6,31.8 421.1,32.4 421.6,32.9 422.1,33.5 422.7,34.1 423.2,34.7 423.7,35.3 424.3,35.9 424.8,36.5 425.3,37.1 425.9,37.7 426.4,38.3 426.9,39.0 427.5,39.6 428.0,40.3 428.5,40.9 429.0,41.6 429.6,42.2 430.1,42.9 430.6,43.6 431.2,44.2 431.7,44.9 432.2,45.6 432.8,46.3 433.3,47.0 433.8,47.7 434.4,48.4 434.9,49.1 435.4,49.8 435.9,50.5 436.5,51.2 437.0,51.9 437.5,52.6 438.1,53.3 438.6,54.0 439.1,54.7 439.7,55.4 440.2,56.1 440.7,56.8 441.3,57.4 441.8,58.1 442.3,58.8 442.8,59.5 443.4,60.2 443.9,60.9 444.4,61.6 445.0,62.3 445.5,62.9 446.0,63.6 446.6,64.3 447.1,65.0 447.6,65.6 448.1,66.3 448.7,66.9 449.2,67.6 449.7,68.2 450.3,68.9 450.8,69.5 451.3,70.1 451.9,70.7 452.4,71.3 452.9,72.0 453.5,72.6 454.0,73.1 454.5,73.7 455.0,74.3 455.6,74.9 456.1,75.5 456.6,76.0 457.2,76.6 457.7,77.1 458.2,77.7 458.8,78.2 459.3,78.7 459.8,79.2 460.4,79.7 460.9,80.2 461.4,80.7 461.9,81.2 462.5,81.7 463.0,82.1 463.5,82.6 464.1,83.1 464.6,83.5 465.1,83.9 465.7,84.3 466.2,84.8 466.7,85.2 467.3,85.6 467.8,85.9 468.3,86.3 468.8,86.7 469.4,87.1 469.9,87.4 470.4,87.8 471.0,88.1 471.5,88.4 472.0,88.7 472.6,89.0 473.1,89.3 473.6,89.6 474.2,89.9 474.7,90.2 475.2,90.5 475.7,90.7 476.3,91.0 476.8,91.2 477.3,91.4 477.9,91.7 478.4,91.9 478.9,92.1 479.5,92.3 480.0,92.5 480.5,92.7 481.1,92.8 481.6,93.0 482.1,93.2 482.6,93.3 483.2,93.5 483.7,93.6 484.2,93.8 484.8,93.9 485.3,94.0 485.8,94.1 486.4,94.2 486.9,94.4 487.4,94.5 487.9,94.5 488.5,94.6 489.0,94.7 489.5,94.8 490.1,94.9 490.6,94.9 491.1,95.0 491.7,95.1 492.2,95.1 492.7,95.2 493.3,95.2 493.8,95.3 494.3,95.3 494.8,95.3 495.4,95.4 495.9,95.4 496.4,95.4 497.0,95.5 497.5,95.5 498.0,95.5 498.6,95.5 499.1,95.5 499.6,95.6 500.2,95.6 500.7,95.6 501.2,95.6 501.7,95.6 502.3,95.6 502.8,95.6 503.3,95.6 503.9,95.6 504.4,95.6 504.9,95.6 505.5,95.6 506.0,95.6 506.5,95.6 507.1,95.6 507.6,95.6 508.1,95.6 508.6,95.6 509.2,95.6 509.7,95.6 510.2,95.6 510.8,95.6 511.3,95.6 511.8,95.6 512.4,95.6 512.9,95.6 513.4,95.6 514.0,95.6 514.5,95.6 515.0,95.6 515.5,95.6 516.1,95.6 516.6,95.6 517.1,95.6 517.7,95.6 518.2,95.6 518.7,95.6 519.3,95.6 519.8,95.6 520.3,95.6 520.9,95.6 521.4,95.6 521.9,95.6 522.4,95.6 523.0,95.6 523.5,95.6 524.0,95.6 524.6,95.6 525.1,95.6 525.6,95.6 526.2,95.6 526.7,95.6 527.2,95.6 527.7,95.6 528.3,95.6 528.8,95.6 529.3,95.6 529.9,95.6 530.4,95.6 530.9,95.6 531.5,95.6 532.0,95.6 532.5,95.6 533.1,95.6 533.6,95.6 534.1,95.6 534.6,95.6 535.2,95.6 535.7,95.6 536.2,95.6 536.8,95.6 537.3,95.6 537.8,95.6 538.4,95.6 538.9,95.6 539.4,95.6 540.0,95.6 540.5,95.6 541.0,95.6 541.5,95.6 542.1,95.6 542.6,95.6 543.1,95.6 543.7,95.6 544.2,95.6" fill="none" stroke="#ff0000" stroke-width="1.15" stroke-linejoin="round"/>
<polyline points="305.4,140.8 305.9,140.8 306.5,140.8 307.0,140.8 307.5,140.8 308.1,140.8 308.6,140.8 309.1,140.8 309.6,140.8 310.2,140.7 310.7,140.7 311.2,140.7 311.8,140.7 312.3,140.7 312.8,140.7 313.4,140.7 313.9,140.7 314.4,140.7 315.0,140.7 315.5,140.7 316.0,140.6 316.5,140.6 317.1,140.6 317.6,140.6 318.1,140.5 318.7,140.5 319.2,140.4 319.7,140.4 320.3,140.3 320.8,140.3 321.3,140.2 321.9,140.1 322.4,140.1 322.9,140.0 323.4,139.9 324.0,139.8 324.5,139.7 325.0,139.6 325.6,139.4 326.1,139.3 326.6,139.2 327.2,139.0 327.7,138.9 328.2,138.7 328.7,138.5 329.3,138.4 329.8,138.2 330.3,138.0 330.9,137.8 331.4,137.5 331.9,137.3 332.5,137.1 333.0,136.8 333.5,136.5 334.1,136.2 334.6,136.0 335.1,135.7 335.6,135.3 336.2,135.0 336.7,134.7 337.2,134.3 337.8,134.0 338.3,133.6 338.8,133.2 339.4,132.8 339.9,132.4 340.4,131.9 341.0,131.5 341.5,131.0 342.0,130.6 342.5,130.1 343.1,129.6 343.6,129.1 344.1,128.6 344.7,128.0 345.2,127.5 345.7,126.9 346.3,126.3 346.8,125.8 347.3,125.2 347.9,124.5 348.4,123.9 348.9,123.3 349.4,122.6 350.0,121.9 350.5,121.3 351.0,120.6 351.6,119.9 352.1,119.1 352.6,118.4 353.2,117.7 353.7,116.9 354.2,116.1 354.8,115.4 355.3,114.6 355.8,113.8 356.3,113.0 356.9,112.1 357.4,111.3 357.9,110.5 358.5,109.6 359.0,108.7 359.5,107.8 360.1,107.0 360.6,106.1 361.1,105.2 361.7,104.2 362.2,103.3 362.7,102.4 363.2,101.4 363.8,100.5 364.3,99.5 364.8,98.6 365.4,97.6 365.9,96.6 366.4,95.6 367.0,94.6 367.5,93.6 368.0,92.6 368.5,91.6 369.1,90.6 369.6,89.6 370.1,88.6 370.7,87.6 371.2,86.5 371.7,85.5 372.3,84.5 372.8,83.4 373.3,82.4 373.9,81.3 374.4,80.3 374.9,79.2 375.4,78.2 376.0,77.1 376.5,76.1 377.0,75.0 377.6,74.0 378.1,73.0 378.6,71.9 379.2,70.9 379.7,69.8 380.2,68.8 380.8,67.8 381.3,66.7 381.8,65.7 382.3,64.7 382.9,63.6 383.4,62.6 383.9,61.6 384.5,60.6 385.0,59.6 385.5,58.6 386.1,57.6 386.6,56.7 387.1,55.7 387.7,54.7 388.2,53.8 388.7,52.8 389.2,51.9 389.8,50.9 390.3,50.0 390.8,49.1 391.4,48.2 391.9,47.3 392.4,46.4 393.0,45.5 393.5,44.7 394.0,43.8 394.6,43.0 395.1,42.1 395.6,41.3 396.1,40.5 396.7,39.7 397.2,38.9 397.7,38.2 398.3,37.4 398.8,36.7 399.3,36.0 399.9,35.2 400.4,34.6 400.9,33.9 401.5,33.2 402.0,32.6 402.5,31.9 403.0,31.3 403.6,30.7 404.1,30.1 404.6,29.5 405.2,29.0 405.7,28.4 406.2,27.9 406.8,27.4 407.3,26.9 407.8,26.4 408.3,26.0 408.9,25.5 409.4,25.1 409.9,24.7 410.5,24.3 411.0,24.0 411.5,23.6 412.1,23.3 412.6,23.0 413.1,22.7 413.7,22.4 414.2,22.1 414.7,21.9 415.2,21.7 415.8,21.5 416.3,21.3 416.8,21.1 417.4,20.9 417.9,20.8 418.4,20.7 419.0,20.6 419.5,20.5 420.0,20.5 420.6,20.4 421.1,20.4 421.6,20.4 422.1,20.4 422.7,20.4 423.2,20.5 423.7,20.6 424.3,20.6 424.8,20.7 425.3,20.9 425.9,21.0 426.4,21.1 426.9,21.3 427.5,21.5 428.0,21.7 428.5,21.9 429.0,22.2 429.6,22.4 430.1,22.7 430.6,23.0 431.2,23.3 431.7,23.6 432.2,23.9 432.8,24.3 433.3,24.6 433.8,25.0 434.4,25.4 434.9,25.8 435.4,26.2 435.9,26.6 436.5,27.1 437.0,27.6 437.5,28.0 438.1,28.5 438.6,29.0 439.1,29.5 439.7,30.0 440.2,30.6 440.7,31.1 441.3,31.7 441.8,32.2 442.3,32.8 442.8,33.4 443.4,34.0 443.9,34.6 444.4,35.2 445.0,35.9 445.5,36.5 446.0,37.1 446.6,37.8 447.1,38.5 447.6,39.1 448.1,39.8 448.7,40.5 449.2,41.2 449.7,41.9 450.3,42.6 450.8,43.3 451.3,44.0 451.9,44.7 452.4,45.4 452.9,46.1 453.5,46.8 454.0,47.6 454.5,48.3 455.0,49.0 455.6,49.8 456.1,50.5 456.6,51.3 457.2,52.0 457.7,52.8 458.2,53.5 458.8,54.2 459.3,55.0 459.8,55.7 460.4,56.5 460.9,57.2 461.4,58.0 461.9,58.7 462.5,59.4 463.0,60.2 463.5,60.9 464.1,61.6 464.6,62.4 465.1,63.1 465.7,63.8 466.2,64.5 466.7,65.3 467.3,66.0 467.8,66.7 468.3,67.4 468.8,68.1 469.4,68.7 469.9,69.4 470.4,70.1 471.0,70.8 471.5,71.4 472.0,72.1 472.6,72.7 473.1,73.4 473.6,74.0 474.2,74.6 474.7,75.3 475.2,75.9 475.7,76.5 476.3,77.1 476.8,77.7 477.3,78.2 477.9,78.8 478.4,79.4 478.9,79.9 479.5,80.5 480.0,81.0 480.5,81.5 481.1,82.0 481.6,82.5 482.1,83.0 482.6,83.5 483.2,84.0 483.7,84.4 484.2,84.9 484.8,85.3 485.3,85.7 485.8,86.2 486.4,86.6 486.9,87.0 487.4,87.4 487.9,87.7 488.5,88.1 489.0,88.5 489.5,88.8 490.1,89.2 490.6,89.5 491.1,89.8 491.7,90.1 492.2,90.4 492.7,90.7 493.3,91.0 493.8,91.2 494.3,91.5 494.8,91.7 495.4,92.0 495.9,92.2 496.4,92.4 497.0,92.6 497.5,92.8 498.0,93.0 498.6,93.2 499.1,93.4 499.6,93.5 500.2,93.7 500.7,93.8 501.2,94.0 501.7,94.1 502.3,94.2 502.8,94.4 503.3,94.5 503.9,94.6 504.4,94.7 504.9,94.8 505.5,94.8 506.0,94.9 506.5,95.0 507.1,95.1 507.6,95.1 508.1,95.2 508.6,95.2 509.2,95.3 509.7,95.3 510.2,95.4 510.8,95.4 511.3,95.4 511.8,95.5 512.4,95.5 512.9,95.5 513.4,95.5 514.0,95.5 514.5,95.6 515.0,95.6 515.5,95.6 516.1,95.6 516.6,95.6 517.1,95.6 517.7,95.6 518.2,95.6 518.7,95.6 519.3,95.6 519.8,95.6 520.3,95.6 520.9,95.6 521.4,95.6 521.9,95.6 522.4,95.6 523.0,95.6 523.5,95.6 524.0,95.6 524.6,95.6 525.1,95.6 525.6,95.6 526.2,95.6 526.7,95.6 527.2,95.6 527.7,95.6 528.3,95.6 528.8,95.6 529.3,95.6 529.9,95.6 530.4,95.6 530.9,95.6 531.5,95.6 532.0,95.6 532.5,95.6 533.1,95.6 533.6,95.6 534.1,95.6 534.6,95.6 535.2,95.6 535.7,95.6 536.2,95.6 536.8,95.6 537.3,95.6 537.8,95.6 538.4,95.6 538.9,95.6 539.4,95.6 540.0,95.6 540.5,95.6 541.0,95.6 541.5,95.6 542.1,95.6 542.6,95.6 543.1,95.6 543.7,95.6 544.2,95.6" fill="none" stroke="#00ff00" stroke-width="1.15" stroke-linejoin="round"/>
<polyline points="305.4,140.8 305.9,140.8 306.5,140.7 307.0,140.7 307.5,140.7 308.1,140.7 308.6,140.6 309.1,140.5 309.6,140.4 310.2,140.3 310.7,140.1 311.2,139.9 311.8,139.7 312.3,139.5 312.8,139.2 313.4,138.8 313.9,138.5 314.4,138.1 315.0,137.6 315.5,137.1 316.0,136.6 316.5,136.1 317.1,135.5 317.6,134.8 318.1,134.1 318.7,133.4 319.2,132.6 319.7,131.8 320.3,131.0 320.8,130.1 321.3,129.2 321.9,128.2 322.4,127.2 322.9,126.2 323.4,125.1 324.0,124.0 324.5,122.9 325.0,121.7 325.6,120.5 326.1,119.3 326.6,118.1 327.2,116.8 327.7,115.5 328.2,114.2 328.7,112.8 329.3,111.5 329.8,110.1 330.3,108.7 330.9,107.3 331.4,105.8 331.9,104.4 332.5,102.9 333.0,101.4 333.5,99.9 334.1,98.5 334.6,96.9 335.1,95.4 335.6,93.9 336.2,92.4 336.7,90.9 337.2,89.4 337.8,87.8 338.3,86.3 338.8,84.8 339.4,83.3 339.9,81.8 340.4,80.3 341.0,78.8 341.5,77.3 342.0,75.8 342.5,74.4 343.1,72.9 343.6,71.5 344.1,70.0 344.7,68.6 345.2,67.2 345.7,65.8 346.3,64.4 346.8,63.1 347.3,61.8 347.9,60.4 348.4,59.1 348.9,57.9 349.4,56.6 350.0,55.4 350.5,54.1 351.0,52.9 351.6,51.8 352.1,50.6 352.6,49.5 353.2,48.4 353.7,47.3 354.2,46.2 354.8,45.2 355.3,44.2 355.8,43.2 356.3,42.2 356.9,41.3 357.4,40.4 357.9,39.5 358.5,38.6 359.0,37.8 359.5,37.0 360.1,36.2 360.6,35.4 361.1,34.7 361.7,34.0 362.2,33.3 362.7,32.6 363.2,32.0 363.8,31.3 364.3,30.7 364.8,30.1 365.4,29.6 365.9,29.1 366.4,28.5 367.0,28.0 367.5,27.6 368.0,27.1 368.5,26.7 369.1,26.3 369.6,25.9 370.1,25.5 370.7,25.1 371.2,24.8 371.7,24.5 372.3,24.2 372.8,23.9 373.3,23.6 373.9,23.4 374.4,23.1 374.9,22.9 375.4,22.7 376.0,22.5 376.5,22.3 377.0,22.1 377.6,22.0 378.1,21.8 378.6,21.7 379.2,21.5 379.7,21.4 380.2,21.3 380.8,21.2 381.3,21.1 381.8,21.0 382.3,20.9 382.9,20.9 383.4,20.8 383.9,20.8 384.5,20.7 385.0,20.7 385.5,20.6 386.1,20.6 386.6,20.6 387.1,20.5 387.7,20.5 388.2,20.5 388.7,20.5 389.2,20.5 389.8,20.4 390.3,20.4 390.8,20.4 391.4,20.4 391.9,20.4 392.4,20.4 393.0,20.4 393.5,20.4 394.0,20.4 394.6,20.4 395.1,20.4 395.6,20.4 396.1,20.4 396.7,20.4 397.2,20.4 397.7,20.4 398.3,20.4 398.8,20.4 399.3,20.4 399.9,20.4 400.4,20.4 400.9,20.4 401.5,20.4 402.0,20.4 402.5,20.4 403.0,20.4 403.6,20.4 404.1,20.4 404.6,20.4 405.2,20.4 405.7,20.4 406.2,20.4 406.8,20.4 407.3,20.5 407.8,20.5 408.3,20.5 408.9,20.5 409.4,20.5 409.9,20.6 410.5,20.6 411.0,20.6 411.5,20.7 412.1,20.7 412.6,20.8 413.1,20.8 413.7,20.9 414.2,21.0 414.7,21.0 415.2,21.1 415.8,21.2 416.3,21.3 416.8,21.4 417.4,21.5 417.9,21.7 418.4,21.8 419.0,22.0 419.5,22.1 420.0,22.3 420.6,22.5 421.1,22.6 421.6,22.8 422.1,23.1 422.7,23.3 423.2,23.5 423.7,23.8 424.3,24.1 424.8,24.3 425.3,24.6 425.9,24.9 426.4,25.3 426.9,25.6 427.5,26.0 428.0,26.3 428.5,26.7 429.0,27.1 429.6,27.6 430.1,28.0 430.6,28.5 431.2,28.9 431.7,29.4 432.2,29.9 432.8,30.5 433.3,31.0 433.8,31.6 434.4,32.2 434.9,32.8 435.4,33.4 435.9,34.0 436.5,34.7 437.0,35.3 437.5,36.0 438.1,36.7 438.6,37.5 439.1,38.2 439.7,39.0 440.2,39.7 440.7,40.5 441.3,41.3 441.8,42.2 442.3,43.0 442.8,43.9 443.4,44.7 443.9,45.6 444.4,46.5 445.0,47.4 445.5,48.3 446.0,49.3 446.6,50.2 447.1,51.2 447.6,52.1 448.1,53.1 448.7,54.1 449.2,55.1 449.7,56.1 450.3,57.1 450.8,58.1 451.3,59.1 451.9,60.1 452.4,61.2 452.9,62.2 453.5,63.2 454.0,64.3 454.5,65.3 455.0,66.3 455.6,67.3 456.1,68.3 456.6,69.4 457.2,70.4 457.7,71.4 458.2,72.4 458.8,73.3 459.3,74.3 459.8,75.3 460.4,76.2 460.9,77.2 461.4,78.1 461.9,79.0 462.5,79.9 463.0,80.8 463.5,81.6 464.1,82.4 464.6,83.3 465.1,84.1 465.7,84.8 466.2,85.6 466.7,86.3 467.3,87.0 467.8,87.7 468.3,88.3 468.8,88.9 469.4,89.5 469.9,90.1 470.4,90.6 471.0,91.1 471.5,91.6 472.0,92.1 472.6,92.5 473.1,92.9 473.6,93.3 474.2,93.6 474.7,93.9 475.2,94.2 475.7,94.4 476.3,94.6 476.8,94.8 477.3,95.0 477.9,95.1 478.4,95.3 478.9,95.4 479.5,95.4 480.0,95.5 480.5,95.6 481.1,95.6 481.6,95.6 482.1,95.6 482.6,95.6 483.2,95.6 483.7,95.6 484.2,95.6 484.8,95.6 485.3,95.6 485.8,95.6 486.4,95.6 486.9,95.6 487.4,95.6 487.9,95.6 488.5,95.6 489.0,95.6 489.5,95.6 490.1,95.6 490.6,95.6 491.1,95.6 491.7,95.6 492.2,95.6 492.7,95.6 493.3,95.6 493.8,95.6 494.3,95.6 494.8,95.6 495.4,95.6 495.9,95.6 496.4,95.6 497.0,95.6 497.5,95.6 498.0,95.6 498.6,95.6 499.1,95.6 499.6,95.6 500.2,95.6 500.7,95.6 501.2,95.6 501.7,95.6 502.3,95.6 502.8,95.6 503.3,95.6 503.9,95.6 504.4,95.6 504.9,95.6 505.5,95.6 506.0,95.6 506.5,95.6 507.1,95.6 507.6,95.6 508.1,95.6 508.6,95.6 509.2,95.6 509.7,95.6 510.2,95.6 510.8,95.6 511.3,95.6 511.8,95.6 512.4,95.6 512.9,95.6 513.4,95.6 514.0,95.6 514.5,95.6 515.0,95.6 515.5,95.6 516.1,95.6 516.6,95.6 517.1,95.6 517.7,95.6 518.2,95.6 518.7,95.6 519.3,95.6 519.8,95.6 520.3,95.6 520.9,95.6 521.4,95.6 521.9,95.6 522.4,95.6 523.0,95.6 523.5,95.6 524.0,95.6 524.6,95.6 525.1,95.6 525.6,95.6 526.2,95.6 526.7,95.6 527.2,95.6 527.7,95.6 528.3,95.6 528.8,95.6 529.3,95.6 529.9,95.6 530.4,95.6 530.9,95.6 531.5,95.6 532.0,95.6 532.5,95.6 533.1,95.6 533.6,95.6 534.1,95.6 534.6,95.6 535.2,95.6 535.7,95.6 536.2,95.6 536.8,95.6 537.3,95.6 537.8,95.6 538.4,95.6 538.9,95.6 539.4,95.6 540.0,95.6 540.5,95.6 541.0,95.6 541.5,95.6 542.1,95.6 542.6,95.6 543.1,95.6 543.7,95.6 544.2,95.6" fill="none" stroke="#ff00ff" stroke-width="1.15" stroke-linejoin="round"/>
<polyline points="305.4,140.8 305.9,140.8 306.5,140.8 307.0,140.8 307.5,140.8 308.1,140.8 308.6,140.7 309.1,140.7 309.6,140.7 310.2,140.7 310.7,140.7 311.2,140.7 311.8,140.7 312.3,140.6 312.8,140.6 313.4,140.6 313.9,140.5 314.4,140.5 315.0,140.4 315.5,140.3 316.0,140.2 316.5,140.1 317.1,140.0 317.6,139.9 318.1,139.7 318.7,139.5 319.2,139.4 319.7,139.2 320.3,138.9 320.8,138.7 321.3,138.5 321.9,138.2 322.4,137.9 322.9,137.6 323.4,137.2 324.0,136.9 324.5,136.5 325.0,136.1 325.6,135.6 326.1,135.2 326.6,134.7 327.2,134.2 327.7,133.6 328.2,133.1 328.7,132.5 329.3,131.9 329.8,131.3 330.3,130.6 330.9,129.9 331.4,129.2 331.9,128.5 332.5,127.7 333.0,126.9 333.5,126.1 334.1,125.3 334.6,124.4 335.1,123.5 335.6,122.6 336.2,121.7 336.7,120.7 337.2,119.7 337.8,118.7 338.3,117.7 338.8,116.7 339.4,115.6 339.9,114.5 340.4,113.4 341.0,112.3 341.5,111.2 342.0,110.0 342.5,108.8 343.1,107.6 343.6,106.4 344.1,105.2 344.7,104.0 345.2,102.7 345.7,101.5 346.3,100.2 346.8,98.9 347.3,97.6 347.9,96.3 348.4,95.0 348.9,93.7 349.4,92.4 350.0,91.1 350.5,89.8 351.0,88.4 351.6,87.1 352.1,85.8 352.6,84.4 353.2,83.1 353.7,81.8 354.2,80.4 354.8,79.1 355.3,77.8 355.8,76.4 356.3,75.1 356.9,73.8 357.4,72.5 357.9,71.2 358.5,69.9 359.0,68.6 359.5,67.4 360.1,66.1 360.6,64.9 361.1,63.6 361.7,62.4 362.2,61.2 362.7,60.0 363.2,58.8 363.8,57.6 364.3,56.5 364.8,55.3 365.4,54.2 365.9,53.1 366.4,52.0 367.0,50.9 367.5,49.9 368.0,48.8 368.5,47.8 369.1,46.8 369.6,45.8 370.1,44.8 370.7,43.9 371.2,43.0 371.7,42.1 372.3,41.2 372.8,40.3 373.3,39.5 373.9,38.7 374.4,37.9 374.9,37.1 375.4,36.3 376.0,35.6 376.5,34.9 377.0,34.2 377.6,33.5 378.1,32.9 378.6,32.2 379.2,31.6 379.7,31.0 380.2,30.4 380.8,29.9 381.3,29.4 381.8,28.9 382.3,28.4 382.9,27.9 383.4,27.4 383.9,27.0 384.5,26.6 385.0,26.2 385.5,25.8 386.1,25.4 386.6,25.1 387.1,24.8 387.7,24.4 388.2,24.1 388.7,23.9 389.2,23.6 389.8,23.3 390.3,23.1 390.8,22.9 391.4,22.7 391.9,22.5 392.4,22.3 393.0,22.1 393.5,22.0 394.0,21.8 394.6,21.7 395.1,21.5 395.6,21.4 396.1,21.3 396.7,21.2 397.2,21.1 397.7,21.0 398.3,20.9 398.8,20.9 399.3,20.8 399.9,20.8 400.4,20.7 400.9,20.7 401.5,20.6 402.0,20.6 402.5,20.6 403.0,20.5 403.6,20.5 404.1,20.5 404.6,20.5 405.2,20.4 405.7,20.4 406.2,20.4 406.8,20.4 407.3,20.4 407.8,20.4 408.3,20.4 408.9,20.4 409.4,20.4 409.9,20.4 410.5,20.4 411.0,20.4 411.5,20.4 412.1,20.4 412.6,20.4 413.1,20.4 413.7,20.4 414.2,20.4 414.7,20.4 415.2,20.4 415.8,20.4 416.3,20.4 416.8,20.4 417.4,20.4 417.9,20.4 418.4,20.4 419.0,20.4 419.5,20.4 420.0,20.4 420.6,20.4 421.1,20.4 421.6,20.4 422.1,20.4 422.7,20.5 423.2,20.5 423.7,20.5 424.3,20.5 424.8,20.6 425.3,20.6 425.9,20.6 426.4,20.7 426.9,20.7 427.5,20.8 428.0,20.8 428.5,20.9 429.0,21.0 429.6,21.1 430.1,21.1 430.6,21.2 431.2,21.3 431.7,21.5 432.2,21.6 432.8,21.7 433.3,21.9 433.8,22.0 434.4,22.2 434.9,22.4 435.4,22.6 435.9,22.8 436.5,23.0 437.0,23.3 437.5,23.5 438.1,23.8 438.6,24.1 439.1,24.4 439.7,24.7 440.2,25.1 440.7,25.4 441.3,25.8 441.8,26.2 442.3,26.6 442.8,27.1 443.4,27.5 443.9,28.0 444.4,28.5 445.0,29.0 445.5,29.5 446.0,30.1 446.6,30.7 447.1,31.3 447.6,31.9 448.1,32.5 448.7,33.2 449.2,33.9 449.7,34.6 450.3,35.3 450.8,36.1 451.3,36.8 451.9,37.6 452.4,38.5 452.9,39.3 453.5,40.1 454.0,41.0 454.5,41.9 455.0,42.8 455.6,43.8 456.1,44.7 456.6,45.7 457.2,46.7 457.7,47.7 458.2,48.7 458.8,49.7 459.3,50.7 459.8,51.8 460.4,52.9 460.9,54.0 461.4,55.1 461.9,56.2 462.5,57.3 463.0,58.4 463.5,59.5 464.1,60.6 464.6,61.8 465.1,62.9 465.7,64.0 466.2,65.2 466.7,66.3 467.3,67.4 467.8,68.6 468.3,69.7 468.8,70.8 469.4,71.9 469.9,73.0 470.4,74.1 471.0,75.2 471.5,76.2 472.0,77.3 472.6,78.3 473.1,79.3 473.6,80.3 474.2,81.3 474.7,82.2 475.2,83.1 475.7,84.0 476.3,84.9 476.8,85.7 477.3,86.5 477.9,87.3 478.4,88.0 478.9,88.7 479.5,89.4 480.0,90.0 480.5,90.6 481.1,91.2 481.6,91.7 482.1,92.2 482.6,92.7 483.2,93.1 483.7,93.5 484.2,93.9 484.8,94.2 485.3,94.5 485.8,94.7 486.4,94.9 486.9,95.1 487.4,95.2 487.9,95.3 488.5,95.4 489.0,95.5 489.5,95.6 490.1,95.6 490.6,95.6 491.1,95.6 491.7,95.6 492.2,95.6 492.7,95.6 493.3,95.6 493.8,95.6 494.3,95.6 494.8,95.6 495.4,95.6 495.9,95.6 496.4,95.6 497.0,95.6 497.5,95.6 498.0,95.6 498.6,95.6 499.1,95.6 499.6,95.6 500.2,95.6 500.7,95.6 501.2,95.6 501.7,95.6 502.3,95.6 502.8,95.6 503.3,95.6 503.9,95.6 504.4,95.6 504.9,95.6 505.5,95.6 506.0,95.6 506.5,95.6 507.1,95.6 507.6,95.6 508.1,95.6 508.6,95.6 509.2,95.6 509.7,95.6 510.2,95.6 510.8,95.6 511.3,95.6 511.8,95.6 512.4,95.6 512.9,95.6 513.4,95.6 514.0,95.6 514.5,95.6 515.0,95.6 515.5,95.6 516.1,95.6 516.6,95.6 517.1,95.6 517.7,95.6 518.2,95.6 518.7,95.6 519.3,95.6 519.8,95.6 520.3,95.6 520.9,95.6 521.4,95.6 521.9,95.6 522.4,95.6 523.0,95.6 523.5,95.6 524.0,95.6 524.6,95.6 525.1,95.6 525.6,95.6 526.2,95.6 526.7,95.6 527.2,95.6 527.7,95.6 528.3,95.6 528.8,95.6 529.3,95.6 529.9,95.6 530.4,95.6 530.9,95.6 531.5,95.6 532.0,95.6 532.5,95.6 533.1,95.6 533.6,95.6 534.1,95.6 534.6,95.6 535.2,95.6 535.7,95.6 536.2,95.6 536.8,95.6 537.3,95.6 537.8,95.6 538.4,95.6 538.9,95.6 539.4,95.6 540.0,95.6 540.5,95.6 541.0,95.6 541.5,95.6 542.1,95.6 542.6,95.6 543.1,95.6 543.7,95.6 544.2,95.6" fill="none" stroke="#00ffff" stroke-width="1.15" stroke-linejoin="round"/>
<polyline points="305.4,140.8 305.9,140.8 306.5,140.7 307.0,140.7 307.5,140.7 308.1,140.6 308.6,140.5 309.1,140.4 309.6,140.2 310.2,140.0 310.7,139.8 311.2,139.5 311.8,139.2 312.3,138.8 312.8,138.3 313.4,137.8 313.9,137.3 314.4,136.7 315.0,136.0 315.5,135.3 316.0,134.5 316.5,133.7 317.1,132.9 317.6,131.9 318.1,130.9 318.7,129.9 319.2,128.8 319.7,127.7 320.3,126.5 320.8,125.3 321.3,124.0 321.9,122.7 322.4,121.4 322.9,120.0 323.4,118.6 324.0,117.1 324.5,115.6 325.0,114.1 325.6,112.5 326.1,111.0 326.6,109.4 327.2,107.7 327.7,106.1 328.2,104.4 328.7,102.7 329.3,101.0 329.8,99.3 330.3,97.6 330.9,95.9 331.4,94.1 331.9,92.4 332.5,90.7 333.0,88.9 333.5,87.2 334.1,85.4 334.6,83.7 335.1,82.0 335.6,80.3 336.2,78.6 336.7,76.9 337.2,75.2 337.8,73.5 338.3,71.9 338.8,70.3 339.4,68.7 339.9,67.1 340.4,65.5 341.0,63.9 341.5,62.4 342.0,60.9 342.5,59.4 343.1,58.0 343.6,56.6 344.1,55.2 344.7,53.8 345.2,52.5 345.7,51.1 346.3,49.9 346.8,48.6 347.3,47.4 347.9,46.2 348.4,45.0 348.9,43.9 349.4,42.8 350.0,41.7 350.5,40.7 351.0,39.7 351.6,38.7 352.1,37.8 352.6,36.9 353.2,36.0 353.7,35.2 354.2,34.3 354.8,33.6 355.3,32.8 355.8,32.1 356.3,31.4 356.9,30.7 357.4,30.1 357.9,29.4 358.5,28.9 359.0,28.3 359.5,27.8 360.1,27.3 360.6,26.8 361.1,26.3 361.7,25.9 362.2,25.5 362.7,25.1 363.2,24.7 363.8,24.4 364.3,24.0 364.8,23.7 365.4,23.4 365.9,23.2 366.4,22.9 367.0,22.7 367.5,22.5 368.0,22.3 368.5,22.1 369.1,21.9 369.6,21.7 370.1,21.6 370.7,21.5 371.2,21.3 371.7,21.2 372.3,21.1 372.8,21.0 373.3,20.9 373.9,20.9 374.4,20.8 374.9,20.7 375.4,20.7 376.0,20.6 376.5,20.6 377.0,20.6 377.6,20.5 378.1,20.5 378.6,20.5 379.2,20.5 379.7,20.5 380.2,20.4 380.8,20.4 381.3,20.4 381.8,20.4 382.3,20.4 382.9,20.4 383.4,20.4 383.9,20.4 384.5,20.4 385.0,20.4 385.5,20.4 386.1,20.4 386.6,20.4 387.1,20.4 387.7,20.4 388.2,20.4 388.7,20.4 389.2,20.4 389.8,20.4 390.3,20.4 390.8,20.4 391.4,20.4 391.9,20.4 392.4,20.4 393.0,20.4 393.5,20.4 394.0,20.4 394.6,20.4 395.1,20.4 395.6,20.4 396.1,20.4 396.7,20.5 397.2,20.5 397.7,20.5 398.3,20.5 398.8,20.5 399.3,20.6 399.9,20.6 400.4,20.6 400.9,20.7 401.5,20.7 402.0,20.8 402.5,20.9 403.0,20.9 403.6,21.0 404.1,21.1 404.6,21.2 405.2,21.3 405.7,21.4 406.2,21.5 406.8,21.6 407.3,21.7 407.8,21.9 408.3,22.0 408.9,22.2 409.4,22.4 409.9,22.6 410.5,22.8 411.0,23.0 411.5,23.2 412.1,23.4 412.6,23.7 413.1,23.9 413.7,24.2 414.2,24.5 414.7,24.8 415.2,25.1 415.8,25.5 416.3,25.8 416.8,26.2 417.4,26.6 417.9,27.0 418.4,27.4 419.0,27.8 419.5,28.2 420.0,28.7 420.6,29.2 421.1,29.7 421.6,30.2 422.1,30.7 422.7,31.2 423.2,31.8 423.7,32.4 424.3,33.0 424.8,33.6 425.3,34.2 425.9,34.8 426.4,35.5 426.9,36.1 427.5,36.8 428.0,37.5 428.5,38.2 429.0,38.9 429.6,39.7 430.1,40.4 430.6,41.2 431.2,42.0 431.7,42.8 432.2,43.6 432.8,44.4 433.3,45.2 433.8,46.0 434.4,46.9 434.9,47.7 435.4,48.6 435.9,49.5 436.5,50.4 437.0,51.2 437.5,52.1 438.1,53.0 438.6,53.9 439.1,54.8 439.7,55.8 440.2,56.7 440.7,57.6 441.3,58.5 441.8,59.4 442.3,60.4 442.8,61.3 443.4,62.2 443.9,63.1 444.4,64.1 445.0,65.0 445.5,65.9 446.0,66.8 446.6,67.7 447.1,68.6 447.6,69.5 448.1,70.4 448.7,71.2 449.2,72.1 449.7,73.0 450.3,73.8 450.8,74.7 451.3,75.5 451.9,76.3 452.4,77.1 452.9,77.9 453.5,78.7 454.0,79.4 454.5,80.2 455.0,80.9 455.6,81.6 456.1,82.3 456.6,83.0 457.2,83.6 457.7,84.3 458.2,84.9 458.8,85.5 459.3,86.1 459.8,86.7 460.4,87.2 460.9,87.8 461.4,88.3 461.9,88.8 462.5,89.2 463.0,89.7 463.5,90.1 464.1,90.6 464.6,91.0 465.1,91.3 465.7,91.7 466.2,92.0 466.7,92.3 467.3,92.6 467.8,92.9 468.3,93.2 468.8,93.4 469.4,93.7 469.9,93.9 470.4,94.1 471.0,94.3 471.5,94.4 472.0,94.6 472.6,94.7 473.1,94.9 473.6,95.0 474.2,95.1 474.7,95.2 475.2,95.2 475.7,95.3 476.3,95.4 476.8,95.4 477.3,95.5 477.9,95.5 478.4,95.5 478.9,95.6 479.5,95.6 480.0,95.6 480.5,95.6 481.1,95.6 481.6,95.6 482.1,95.6 482.6,95.6 483.2,95.6 483.7,95.6 484.2,95.6 484.8,95.6 485.3,95.6 485.8,95.6 486.4,95.6 486.9,95.6 487.4,95.6 487.9,95.6 488.5,95.6 489.0,95.6 489.5,95.6 490.1,95.6 490.6,95.6 491.1,95.6 491.7,95.6 492.2,95.6 492.7,95.6 493.3,95.6 493.8,95.6 494.3,95.6 494.8,95.6 495.4,95.6 495.9,95.6 496.4,95.6 497.0,95.6 497.5,95.6 498.0,95.6 498.6,95.6 499.1,95.6 499.6,95.6 500.2,95.6 500.7,95.6 501.2,95.6 501.7,95.6 502.3,95.6 502.8,95.6 503.3,95.6 503.9,95.6 504.4,95.6 504.9,95.6 505.5,95.6 506.0,95.6 506.5,95.6 507.1,95.6 507.6,95.6 508.1,95.6 508.6,95.6 509.2,95.6 509.7,95.6 510.2,95.6 510.8,95.6 511.3,95.6 511.8,95.6 512.4,95.6 512.9,95.6 513.4,95.6 514.0,95.6 514.5,95.6 515.0,95.6 515.5,95.6 516.1,95.6 516.6,95.6 517.1,95.6 517.7,95.6 518.2,95.6 518.7,95.6 519.3,95.6 519.8,95.6 520.3,95.6 520.9,95.6 521.4,95.6 521.9,95.6 522.4,95.6 523.0,95.6 523.5,95.6 524.0,95.6 524.6,95.6 525.1,95.6 525.6,95.6 526.2,95.6 526.7,95.6 527.2,95.6 527.7,95.6 528.3,95.6 528.8,95.6 529.3,95.6 529.9,95.6 530.4,95.6 530.9,95.6 531.5,95.6 532.0,95.6 532.5,95.6 533.1,95.6 533.6,95.6 534.1,95.6 534.6,95.6 535.2,95.6 535.7,95.6 536.2,95.6 536.8,95.6 537.3,95.6 537.8,95.6 538.4,95.6 538.9,95.6 539.4,95.6 540.0,95.6 540.5,95.6 541.0,95.6 541.5,95.6 542.1,95.6 542.6,95.6 543.1,95.6 543.7,95.6 544.2,95.6" fill="none" stroke="#b04a20" stroke-width="1.15" stroke-linejoin="round"/>
<polyline points="305.4,140.8 305.9,140.8 306.5,140.8 307.0,140.8 307.5,140.8 308.1,140.8 308.6,140.7 309.1,140.7 309.6,140.7 310.2,140.7 310.7,140.7 311.2,140.7 311.8,140.6 312.3,140.6 312.8,140.5 313.4,140.4 313.9,140.3 314.4,140.2 315.0,140.1 315.5,140.0 316.0,139.8 316.5,139.6 317.1,139.4 317.6,139.2 318.1,139.0 318.7,138.7 319.2,138.4 319.7,138.1 320.3,137.7 320.8,137.4 321.3,137.0 321.9,136.5 322.4,136.0 322.9,135.5 323.4,135.0 324.0,134.4 324.5,133.8 325.0,133.2 325.6,132.5 326.1,131.8 326.6,131.1 327.2,130.3 327.7,129.5 328.2,128.7 328.7,127.8 329.3,127.0 329.8,126.0 330.3,125.1 330.9,124.1 331.4,123.0 331.9,122.0 332.5,120.9 333.0,119.8 333.5,118.7 334.1,117.5 334.6,116.3 335.1,115.1 335.6,113.8 336.2,112.6 336.7,111.3 337.2,110.0 337.8,108.6 338.3,107.3 338.8,105.9 339.4,104.5 339.9,103.1 340.4,101.7 341.0,100.3 341.5,98.8 342.0,97.4 342.5,95.9 343.1,94.4 343.6,92.9 344.1,91.4 344.7,90.0 345.2,88.5 345.7,87.0 346.3,85.5 346.8,84.0 347.3,82.5 347.9,81.0 348.4,79.5 348.9,78.0 349.4,76.5 350.0,75.0 350.5,73.6 351.0,72.1 351.6,70.6 352.1,69.2 352.6,67.8 353.2,66.4 353.7,65.0 354.2,63.6 354.8,62.2 355.3,60.9 355.8,59.5 356.3,58.2 356.9,56.9 357.4,55.7 357.9,54.4 358.5,53.2 359.0,52.0 359.5,50.8 360.1,49.6 360.6,48.5 361.1,47.3 361.7,46.2 362.2,45.2 362.7,44.1 363.2,43.1 363.8,42.1 364.3,41.1 364.8,40.2 365.4,39.3 365.9,38.4 366.4,37.5 367.0,36.7 367.5,35.8 368.0,35.0 368.5,34.3 369.1,33.5 369.6,32.8 370.1,32.1 370.7,31.5 371.2,30.8 371.7,30.2 372.3,29.6 372.8,29.1 373.3,28.5 373.9,28.0 374.4,27.5 374.9,27.0 375.4,26.6 376.0,26.1 376.5,25.7 377.0,25.3 377.6,25.0 378.1,24.6 378.6,24.3 379.2,24.0 379.7,23.7 380.2,23.4 380.8,23.1 381.3,22.9 381.8,22.7 382.3,22.5 382.9,22.3 383.4,22.1 383.9,21.9 384.5,21.7 385.0,21.6 385.5,21.5 386.1,21.3 386.6,21.2 387.1,21.1 387.7,21.0 388.2,21.0 388.7,20.9 389.2,20.8 389.8,20.8 390.3,20.7 390.8,20.7 391.4,20.6 391.9,20.6 392.4,20.5 393.0,20.5 393.5,20.5 394.0,20.5 394.6,20.5 395.1,20.4 395.6,20.4 396.1,20.4 396.7,20.4 397.2,20.4 397.7,20.4 398.3,20.4 398.8,20.4 399.3,20.4 399.9,20.4 400.4,20.4 400.9,20.4 401.5,20.4 402.0,20.4 402.5,20.4 403.0,20.4 403.6,20.4 404.1,20.4 404.6,20.4 405.2,20.4 405.7,20.4 406.2,20.4 406.8,20.4 407.3,20.4 407.8,20.4 408.3,20.4 408.9,20.4 409.4,20.4 409.9,20.4 410.5,20.4 411.0,20.4 411.5,20.5 412.1,20.5 412.6,20.5 413.1,20.5 413.7,20.6 414.2,20.6 414.7,20.6 415.2,20.7 415.8,20.7 416.3,20.8 416.8,20.8 417.4,20.9 417.9,21.0 418.4,21.1 419.0,21.1 419.5,21.2 420.0,21.4 420.6,21.5 421.1,21.6 421.6,21.7 422.1,21.9 422.7,22.0 423.2,22.2 423.7,22.4 424.3,22.6 424.8,22.8 425.3,23.0 425.9,23.3 426.4,23.5 426.9,23.8 427.5,24.1 428.0,24.4 428.5,24.7 429.0,25.0 429.6,25.4 430.1,25.8 430.6,26.1 431.2,26.5 431.7,27.0 432.2,27.4 432.8,27.9 433.3,28.3 433.8,28.8 434.4,29.3 434.9,29.9 435.4,30.4 435.9,31.0 436.5,31.6 437.0,32.2 437.5,32.8 438.1,33.4 438.6,34.1 439.1,34.8 439.7,35.4 440.2,36.2 440.7,36.9 441.3,37.6 441.8,38.4 442.3,39.2 442.8,40.0 443.4,40.8 443.9,41.6 444.4,42.5 445.0,43.3 445.5,44.2 446.0,45.1 446.6,46.0 447.1,46.9 447.6,47.8 448.1,48.8 448.7,49.7 449.2,50.7 449.7,51.6 450.3,52.6 450.8,53.6 451.3,54.6 451.9,55.5 452.4,56.5 452.9,57.5 453.5,58.5 454.0,59.5 454.5,60.5 455.0,61.6 455.6,62.6 456.1,63.6 456.6,64.6 457.2,65.6 457.7,66.5 458.2,67.5 458.8,68.5 459.3,69.5 459.8,70.5 460.4,71.4 460.9,72.4 461.4,73.3 461.9,74.2 462.5,75.1 463.0,76.0 463.5,76.9 464.1,77.8 464.6,78.6 465.1,79.5 465.7,80.3 466.2,81.1 466.7,81.8 467.3,82.6 467.8,83.3 468.3,84.1 468.8,84.8 469.4,85.4 469.9,86.1 470.4,86.7 471.0,87.3 471.5,87.9 472.0,88.5 472.6,89.0 473.1,89.5 473.6,90.0 474.2,90.5 474.7,90.9 475.2,91.3 475.7,91.7 476.3,92.1 476.8,92.5 477.3,92.8 477.9,93.1 478.4,93.4 478.9,93.6 479.5,93.9 480.0,94.1 480.5,94.3 481.1,94.5 481.6,94.6 482.1,94.8 482.6,94.9 483.2,95.0 483.7,95.1 484.2,95.2 484.8,95.3 485.3,95.4 485.8,95.4 486.4,95.5 486.9,95.5 487.4,95.5 487.9,95.6 488.5,95.6 489.0,95.6 489.5,95.6 490.1,95.6 490.6,95.6 491.1,95.6 491.7,95.6 492.2,95.6 492.7,95.6 493.3,95.6 493.8,95.6 494.3,95.6 494.8,95.6 495.4,95.6 495.9,95.6 496.4,95.6 497.0,95.6 497.5,95.6 498.0,95.6 498.6,95.6 499.1,95.6 499.6,95.6 500.2,95.6 500.7,95.6 501.2,95.6 501.7,95.6 502.3,95.6 502.8,95.6 503.3,95.6 503.9,95.6 504.4,95.6 504.9,95.6 505.5,95.6 506.0,95.6 506.5,95.6 507.1,95.6 507.6,95.6 508.1,95.6 508.6,95.6 509.2,95.6 509.7,95.6 510.2,95.6 510.8,95.6 511.3,95.6 511.8,95.6 512.4,95.6 512.9,95.6 513.4,95.6 514.0,95.6 514.5,95.6 515.0,95.6 515.5,95.6 516.1,95.6 516.6,95.6 517.1,95.6 517.7,95.6 518.2,95.6 518.7,95.6 519.3,95.6 519.8,95.6 520.3,95.6 520.9,95.6 521.4,95.6 521.9,95.6 522.4,95.6 523.0,95.6 523.5,95.6 524.0,95.6 524.6,95.6 525.1,95.6 525.6,95.6 526.2,95.6 526.7,95.6 527.2,95.6 527.7,95.6 528.3,95.6 528.8,95.6 529.3,95.6 529.9,95.6 530.4,95.6 530.9,95.6 531.5,95.6 532.0,95.6 532.5,95.6 533.1,95.6 533.6,95.6 534.1,95.6 534.6,95.6 535.2,95.6 535.7,95.6 536.2,95.6 536.8,95.6 537.3,95.6 537.8,95.6 538.4,95.6 538.9,95.6 539.4,95.6 540.0,95.6 540.5,95.6 541.0,95.6 541.5,95.6 542.1,95.6 542.6,95.6 543.1,95.6 543.7,95.6 544.2,95.6" fill="none" stroke="#ff8fc0" stroke-width="1.15" stroke-linejoin="round"/>
<line x1="305.40" y1="20.39" x2="544.20" y2="20.39" stroke="#000" stroke-width="1.3"/>
<text x="305.40" y="165.10" text-anchor="middle" class="tk">0</text>
<text x="331.93" y="165.10" text-anchor="middle" class="tk">0.2</text>
<text x="358.47" y="165.10" text-anchor="middle" class="tk">0.4</text>
<text x="385.00" y="165.10" text-anchor="middle" class="tk">0.6</text>
<text x="411.53" y="165.10" text-anchor="middle" class="tk">0.8</text>
<text x="438.07" y="165.10" text-anchor="middle" class="tk">1</text>
<text x="464.60" y="165.10" text-anchor="middle" class="tk">1.2</text>
<text x="491.13" y="165.10" text-anchor="middle" class="tk">1.4</text>
<text x="517.67" y="165.10" text-anchor="middle" class="tk">1.6</text>
<text x="544.20" y="165.10" text-anchor="middle" class="tk">1.8</text>
<text x="302.20" y="158.70" text-anchor="end" class="tk">0.1</text>
<text x="302.20" y="143.66" text-anchor="end" class="tk">0.2</text>
<text x="302.20" y="128.61" text-anchor="end" class="tk">0.3</text>
<text x="302.20" y="113.56" text-anchor="end" class="tk">0.4</text>
<text x="302.20" y="98.52" text-anchor="end" class="tk">0.5</text>
<text x="302.20" y="83.48" text-anchor="end" class="tk">0.6</text>
<text x="302.20" y="68.43" text-anchor="end" class="tk">0.7</text>
<text x="302.20" y="53.38" text-anchor="end" class="tk">0.8</text>
<text x="302.20" y="38.34" text-anchor="end" class="tk">0.9</text>
<text x="302.20" y="23.29" text-anchor="end" class="tk">1</text>
<text x="302.20" y="8.25" text-anchor="end" class="tk">1.1</text>
<text x="425.50" y="174.00" text-anchor="middle" class="lb">Time [s]</text>
<text transform="translate(289.80,81.28) rotate(-90)" text-anchor="middle" class="lb" style="font-size:7.1px">Velocity [m/s]</text>
<text x="416.90" y="189.20" text-anchor="middle" class="cap">(<tspan style="stroke-width:0.45px">b</tspan>)</text>
<rect x="503.00" y="8.40" width="34.90" height="69.00" fill="#fff" class="lg"/>
<line x1="504.80" y1="13.40" x2="520.30" y2="13.40" stroke="#ffff00" stroke-width="1.4"/>
<text x="521.20" y="15.60" class="tk lt">2-1-2</text>
<line x1="504.80" y1="21.93" x2="520.30" y2="21.93" stroke="#0000ff" stroke-width="1.4"/>
<text x="521.20" y="24.13" class="tk lt">3-1-2</text>
<line x1="504.80" y1="30.46" x2="520.30" y2="30.46" stroke="#ff0000" stroke-width="1.4"/>
<text x="521.20" y="32.66" class="tk lt">2-1-3</text>
<line x1="504.80" y1="38.99" x2="520.30" y2="38.99" stroke="#00ff00" stroke-width="1.4"/>
<text x="521.20" y="41.19" class="tk lt">3-1-3</text>
<line x1="504.80" y1="47.52" x2="520.30" y2="47.52" stroke="#ff00ff" stroke-width="1.4"/>
<text x="521.20" y="49.72" class="tk lt">2-3-2</text>
<line x1="504.80" y1="56.05" x2="520.30" y2="56.05" stroke="#00ffff" stroke-width="1.4"/>
<text x="521.20" y="58.25" class="tk lt">3-3-2</text>
<line x1="504.80" y1="64.58" x2="520.30" y2="64.58" stroke="#b04a20" stroke-width="1.4"/>
<text x="521.20" y="66.78" class="tk lt">2-3-3</text>
<line x1="504.80" y1="73.11" x2="520.30" y2="73.11" stroke="#ff8fc0" stroke-width="1.4"/>
<text x="521.20" y="75.31" class="tk lt">3-3-3</text>
<line x1="311.8" y1="25" x2="311.8" y2="33.5" stroke="#999" stroke-width="1.2"/>
<path d="M310.2,25.8 L311.8,21.8 L313.40000000000003,25.8 Z" fill="#000"/>
<text x="314.5" y="32.7" class="vm">V<tspan font-size="5.6" dy="1.1">max</tspan></text>
<line x1="52.96" y1="196.20" x2="52.96" y2="346.80" class="gr"/>
<line x1="79.41" y1="196.20" x2="79.41" y2="346.80" class="gr"/>
<line x1="105.87" y1="196.20" x2="105.87" y2="346.80" class="gr"/>
<line x1="132.32" y1="196.20" x2="132.32" y2="346.80" class="gr"/>
<line x1="158.78" y1="196.20" x2="158.78" y2="346.80" class="gr"/>
<line x1="185.23" y1="196.20" x2="185.23" y2="346.80" class="gr"/>
<line x1="211.69" y1="196.20" x2="211.69" y2="346.80" class="gr"/>
<line x1="238.14" y1="196.20" x2="238.14" y2="346.80" class="gr"/>
<line x1="26.50" y1="331.74" x2="264.60" y2="331.74" class="gr"/>
<line x1="26.50" y1="316.68" x2="264.60" y2="316.68" class="gr"/>
<line x1="26.50" y1="301.62" x2="264.60" y2="301.62" class="gr"/>
<line x1="26.50" y1="286.56" x2="264.60" y2="286.56" class="gr"/>
<line x1="26.50" y1="271.50" x2="264.60" y2="271.50" class="gr"/>
<line x1="26.50" y1="256.44" x2="264.60" y2="256.44" class="gr"/>
<line x1="26.50" y1="241.38" x2="264.60" y2="241.38" class="gr"/>
<line x1="26.50" y1="226.32" x2="264.60" y2="226.32" class="gr"/>
<line x1="26.50" y1="211.26" x2="264.60" y2="211.26" class="gr"/>
<path d="M52.96,346.80v-2.4M52.96,196.20v2.4" class="tm"/>
<path d="M79.41,346.80v-2.4M79.41,196.20v2.4" class="tm"/>
<path d="M105.87,346.80v-2.4M105.87,196.20v2.4" class="tm"/>
<path d="M132.32,346.80v-2.4M132.32,196.20v2.4" class="tm"/>
<path d="M158.78,346.80v-2.4M158.78,196.20v2.4" class="tm"/>
<path d="M185.23,346.80v-2.4M185.23,196.20v2.4" class="tm"/>
<path d="M211.69,346.80v-2.4M211.69,196.20v2.4" class="tm"/>
<path d="M238.14,346.80v-2.4M238.14,196.20v2.4" class="tm"/>
<path d="M26.50,331.74h2.4M264.60,331.74h-2.4" class="tm"/>
<path d="M26.50,316.68h2.4M264.60,316.68h-2.4" class="tm"/>
<path d="M26.50,301.62h2.4M264.60,301.62h-2.4" class="tm"/>
<path d="M26.50,286.56h2.4M264.60,286.56h-2.4" class="tm"/>
<path d="M26.50,271.50h2.4M264.60,271.50h-2.4" class="tm"/>
<path d="M26.50,256.44h2.4M264.60,256.44h-2.4" class="tm"/>
<path d="M26.50,241.38h2.4M264.60,241.38h-2.4" class="tm"/>
<path d="M26.50,226.32h2.4M264.60,226.32h-2.4" class="tm"/>
<path d="M26.50,211.26h2.4M264.60,211.26h-2.4" class="tm"/>
<rect x="26.50" y="196.20" width="238.10" height="150.60" class="ax"/>
<polyline points="26.5,286.6 27.0,286.5 27.6,286.5 28.1,286.4 28.6,286.3 29.1,286.2 29.7,286.0 30.2,285.8 30.7,285.6 31.3,285.3 31.8,285.0 32.3,284.7 32.8,284.4 33.4,284.1 33.9,283.7 34.4,283.3 35.0,282.9 35.5,282.5 36.0,282.1 36.6,281.6 37.1,281.1 37.6,280.6 38.1,280.1 38.7,279.6 39.2,279.0 39.7,278.5 40.3,277.9 40.8,277.4 41.3,276.8 41.8,276.2 42.4,275.6 42.9,275.0 43.4,274.3 44.0,273.7 44.5,273.1 45.0,272.4 45.5,271.8 46.1,271.1 46.6,270.4 47.1,269.8 47.7,269.1 48.2,268.4 48.7,267.8 49.3,267.1 49.8,266.4 50.3,265.7 50.8,265.1 51.4,264.4 51.9,263.7 52.4,263.0 53.0,262.4 53.5,261.7 54.0,261.0 54.5,260.4 55.1,259.7 55.6,259.0 56.1,258.4 56.7,257.7 57.2,257.1 57.7,256.4 58.2,255.8 58.8,255.2 59.3,254.5 59.8,253.9 60.4,253.3 60.9,252.7 61.4,252.1 62.0,251.5 62.5,251.0 63.0,250.4 63.5,249.8 64.1,249.3 64.6,248.7 65.1,248.2 65.7,247.7 66.2,247.2 66.7,246.7 67.2,246.2 67.8,245.7 68.3,245.2 68.8,244.8 69.4,244.3 69.9,243.9 70.4,243.5 70.9,243.0 71.5,242.6 72.0,242.3 72.5,241.9 73.1,241.5 73.6,241.2 74.1,240.8 74.6,240.5 75.2,240.2 75.7,239.9 76.2,239.6 76.8,239.4 77.3,239.1 77.8,238.9 78.4,238.7 78.9,238.4 79.4,238.2 79.9,238.1 80.5,237.9 81.0,237.7 81.5,237.6 82.1,237.5 82.6,237.4 83.1,237.3 83.6,237.2 84.2,237.1 84.7,237.0 85.2,237.0 85.8,237.0 86.3,237.0 86.8,237.0 87.3,237.0 87.9,237.0 88.4,237.1 88.9,237.1 89.5,237.2 90.0,237.3 90.5,237.4 91.1,237.5 91.6,237.6 92.1,237.8 92.6,237.9 93.2,238.1 93.7,238.3 94.2,238.5 94.8,238.7 95.3,238.9 95.8,239.2 96.3,239.4 96.9,239.7 97.4,240.0 97.9,240.3 98.5,240.6 99.0,240.9 99.5,241.2 100.0,241.6 100.6,241.9 101.1,242.3 101.6,242.7 102.2,243.1 102.7,243.5 103.2,243.9 103.8,244.3 104.3,244.8 104.8,245.2 105.3,245.7 105.9,246.2 106.4,246.7 106.9,247.1 107.5,247.7 108.0,248.2 108.5,248.7 109.0,249.2 109.6,249.8 110.1,250.3 110.6,250.9 111.2,251.5 111.7,252.1 112.2,252.6 112.7,253.2 113.3,253.9 113.8,254.5 114.3,255.1 114.9,255.7 115.4,256.4 115.9,257.0 116.4,257.7 117.0,258.3 117.5,259.0 118.0,259.7 118.6,260.4 119.1,261.0 119.6,261.7 120.2,262.4 120.7,263.1 121.2,263.8 121.7,264.6 122.3,265.3 122.8,266.0 123.3,266.7 123.9,267.5 124.4,268.2 124.9,268.9 125.4,269.7 126.0,270.4 126.5,271.2 127.0,271.9 127.6,272.7 128.1,273.4 128.6,274.2 129.1,274.9 129.7,275.7 130.2,276.5 130.7,277.2 131.3,278.0 131.8,278.7 132.3,279.5 132.9,280.3 133.4,281.0 133.9,281.8 134.4,282.6 135.0,283.3 135.5,284.1 136.0,284.8 136.6,285.6 137.1,286.3 137.6,287.1 138.1,287.8 138.7,288.6 139.2,289.3 139.7,290.1 140.3,290.8 140.8,291.5 141.3,292.3 141.8,293.0 142.4,293.7 142.9,294.4 143.4,295.1 144.0,295.9 144.5,296.6 145.0,297.3 145.6,297.9 146.1,298.6 146.6,299.3 147.1,300.0 147.7,300.6 148.2,301.3 148.7,302.0 149.3,302.6 149.8,303.2 150.3,303.9 150.8,304.5 151.4,305.1 151.9,305.7 152.4,306.3 153.0,306.9 153.5,307.5 154.0,308.1 154.5,308.6 155.1,309.2 155.6,309.7 156.1,310.3 156.7,310.8 157.2,311.3 157.7,311.8 158.2,312.3 158.8,312.8 159.3,313.3 159.8,313.7 160.4,314.2 160.9,314.6 161.4,315.0 162.0,315.5 162.5,315.9 163.0,316.3 163.5,316.6 164.1,317.0 164.6,317.4 165.1,317.7 165.7,318.1 166.2,318.4 166.7,318.7 167.2,319.0 167.8,319.3 168.3,319.6 168.8,319.8 169.4,320.1 169.9,320.3 170.4,320.5 170.9,320.7 171.5,320.9 172.0,321.1 172.5,321.3 173.1,321.4 173.6,321.6 174.1,321.7 174.7,321.8 175.2,321.9 175.7,322.0 176.2,322.1 176.8,322.2 177.3,322.2 177.8,322.2 178.4,322.3 178.9,322.3 179.4,322.3 179.9,322.2 180.5,322.2 181.0,322.2 181.5,322.1 182.1,322.0 182.6,321.9 183.1,321.8 183.6,321.7 184.2,321.6 184.7,321.5 185.2,321.3 185.8,321.2 186.3,321.0 186.8,320.8 187.3,320.6 187.9,320.4 188.4,320.1 188.9,319.9 189.5,319.7 190.0,319.4 190.5,319.1 191.1,318.8 191.6,318.5 192.1,318.2 192.6,317.9 193.2,317.6 193.7,317.2 194.2,316.9 194.8,316.5 195.3,316.1 195.8,315.8 196.3,315.4 196.9,315.0 197.4,314.6 197.9,314.1 198.5,313.7 199.0,313.3 199.5,312.8 200.0,312.4 200.6,311.9 201.1,311.4 201.6,311.0 202.2,310.5 202.7,310.0 203.2,309.5 203.8,309.0 204.3,308.5 204.8,308.0 205.3,307.5 205.9,306.9 206.4,306.4 206.9,305.9 207.5,305.4 208.0,304.8 208.5,304.3 209.0,303.8 209.6,303.2 210.1,302.7 210.6,302.1 211.2,301.6 211.7,301.1 212.2,300.5 212.7,300.0 213.3,299.4 213.8,298.9 214.3,298.4 214.9,297.9 215.4,297.3 215.9,296.8 216.5,296.3 217.0,295.8 217.5,295.3 218.0,294.8 218.6,294.3 219.1,293.8 219.6,293.4 220.2,292.9 220.7,292.5 221.2,292.0 221.7,291.6 222.3,291.2 222.8,290.8 223.3,290.4 223.9,290.0 224.4,289.7 224.9,289.3 225.4,289.0 226.0,288.7 226.5,288.4 227.0,288.1 227.6,287.9 228.1,287.6 228.6,287.4 229.1,287.2 229.7,287.0 230.2,286.9 230.7,286.8 231.3,286.7 231.8,286.6 232.3,286.6 232.9,286.6 233.4,286.6 233.9,286.6 234.4,286.6 235.0,286.6 235.5,286.6 236.0,286.6 236.6,286.6 237.1,286.6 237.6,286.6 238.1,286.6 238.7,286.6 239.2,286.6 239.7,286.6 240.3,286.6 240.8,286.6 241.3,286.6 241.8,286.6 242.4,286.6 242.9,286.6 243.4,286.6 244.0,286.6 244.5,286.6 245.0,286.6 245.6,286.6 246.1,286.6 246.6,286.6 247.1,286.6 247.7,286.6 248.2,286.6 248.7,286.6 249.3,286.6 249.8,286.6 250.3,286.6 250.8,286.6 251.4,286.6 251.9,286.6 252.4,286.6 253.0,286.6 253.5,286.6 254.0,286.6 254.5,286.6 255.1,286.6 255.6,286.6 256.1,286.6 256.7,286.6 257.2,286.6 257.7,286.6 258.3,286.6 258.8,286.6 259.3,286.6 259.8,286.6 260.4,286.6 260.9,286.6 261.4,286.6 262.0,286.6 262.5,286.6 263.0,286.6 263.5,286.6 264.1,286.6 264.6,286.6" fill="none" stroke="#ffff00" stroke-width="1.15" stroke-linejoin="round"/>
<polyline points="26.5,286.6 27.0,286.6 27.6,286.6 28.1,286.6 28.6,286.6 29.1,286.6 29.7,286.5 30.2,286.5 30.7,286.5 31.3,286.5 31.8,286.5 32.3,286.5 32.8,286.4 33.4,286.4 33.9,286.4 34.4,286.3 35.0,286.3 35.5,286.2 36.0,286.2 36.6,286.1 37.1,286.0 37.6,285.9 38.1,285.8 38.7,285.7 39.2,285.6 39.7,285.5 40.3,285.4 40.8,285.3 41.3,285.2 41.8,285.0 42.4,284.9 42.9,284.7 43.4,284.6 44.0,284.4 44.5,284.2 45.0,284.0 45.5,283.8 46.1,283.6 46.6,283.4 47.1,283.2 47.7,282.9 48.2,282.7 48.7,282.4 49.3,282.2 49.8,281.9 50.3,281.7 50.8,281.4 51.4,281.1 51.9,280.8 52.4,280.5 53.0,280.2 53.5,279.9 54.0,279.5 54.5,279.2 55.1,278.8 55.6,278.5 56.1,278.1 56.7,277.8 57.2,277.4 57.7,277.0 58.2,276.6 58.8,276.2 59.3,275.8 59.8,275.4 60.4,275.0 60.9,274.6 61.4,274.2 62.0,273.8 62.5,273.3 63.0,272.9 63.5,272.5 64.1,272.0 64.6,271.6 65.1,271.1 65.7,270.6 66.2,270.2 66.7,269.7 67.2,269.2 67.8,268.8 68.3,268.3 68.8,267.8 69.4,267.3 69.9,266.8 70.4,266.4 70.9,265.9 71.5,265.4 72.0,264.9 72.5,264.4 73.1,263.9 73.6,263.4 74.1,262.9 74.6,262.4 75.2,261.9 75.7,261.4 76.2,260.9 76.8,260.4 77.3,259.9 77.8,259.4 78.4,258.9 78.9,258.5 79.4,258.0 79.9,257.5 80.5,257.0 81.0,256.5 81.5,256.0 82.1,255.6 82.6,255.1 83.1,254.6 83.6,254.2 84.2,253.7 84.7,253.2 85.2,252.8 85.8,252.3 86.3,251.9 86.8,251.5 87.3,251.0 87.9,250.6 88.4,250.2 88.9,249.8 89.5,249.4 90.0,249.0 90.5,248.6 91.1,248.2 91.6,247.8 92.1,247.4 92.6,247.1 93.2,246.7 93.7,246.3 94.2,246.0 94.8,245.7 95.3,245.3 95.8,245.0 96.3,244.7 96.9,244.4 97.4,244.1 97.9,243.9 98.5,243.6 99.0,243.3 99.5,243.1 100.0,242.8 100.6,242.6 101.1,242.4 101.6,242.2 102.2,242.0 102.7,241.8 103.2,241.6 103.8,241.4 104.3,241.3 104.8,241.1 105.3,241.0 105.9,240.9 106.4,240.8 106.9,240.7 107.5,240.6 108.0,240.5 108.5,240.4 109.0,240.4 109.6,240.3 110.1,240.3 110.6,240.3 111.2,240.3 111.7,240.3 112.2,240.3 112.7,240.4 113.3,240.4 113.8,240.5 114.3,240.5 114.9,240.6 115.4,240.7 115.9,240.8 116.4,241.0 117.0,241.1 117.5,241.2 118.0,241.4 118.6,241.6 119.1,241.8 119.6,242.0 120.2,242.2 120.7,242.4 121.2,242.6 121.7,242.9 122.3,243.2 122.8,243.4 123.3,243.7 123.9,244.0 124.4,244.4 124.9,244.7 125.4,245.0 126.0,245.4 126.5,245.7 127.0,246.1 127.6,246.5 128.1,246.9 128.6,247.3 129.1,247.7 129.7,248.2 130.2,248.6 130.7,249.1 131.3,249.6 131.8,250.0 132.3,250.5 132.9,251.0 133.4,251.6 133.9,252.1 134.4,252.6 135.0,253.2 135.5,253.7 136.0,254.3 136.6,254.9 137.1,255.5 137.6,256.1 138.1,256.7 138.7,257.3 139.2,257.9 139.7,258.6 140.3,259.2 140.8,259.9 141.3,260.5 141.8,261.2 142.4,261.9 142.9,262.6 143.4,263.3 144.0,264.0 144.5,264.7 145.0,265.4 145.6,266.1 146.1,266.9 146.6,267.6 147.1,268.3 147.7,269.1 148.2,269.8 148.7,270.6 149.3,271.4 149.8,272.1 150.3,272.9 150.8,273.7 151.4,274.5 151.9,275.3 152.4,276.0 153.0,276.8 153.5,277.6 154.0,278.4 154.5,279.2 155.1,280.0 155.6,280.8 156.1,281.7 156.7,282.5 157.2,283.3 157.7,284.1 158.2,284.9 158.8,285.7 159.3,286.5 159.8,287.3 160.4,288.1 160.9,289.0 161.4,289.8 162.0,290.6 162.5,291.4 163.0,292.2 163.5,293.0 164.1,293.8 164.6,294.6 165.1,295.4 165.7,296.1 166.2,296.9 166.7,297.7 167.2,298.5 167.8,299.2 168.3,300.0 168.8,300.8 169.4,301.5 169.9,302.3 170.4,303.0 170.9,303.7 171.5,304.5 172.0,305.2 172.5,305.9 173.1,306.6 173.6,307.3 174.1,308.0 174.7,308.7 175.2,309.3 175.7,310.0 176.2,310.6 176.8,311.3 177.3,311.9 177.8,312.5 178.4,313.1 178.9,313.7 179.4,314.3 179.9,314.9 180.5,315.4 181.0,316.0 181.5,316.5 182.1,317.0 182.6,317.6 183.1,318.1 183.6,318.5 184.2,319.0 184.7,319.5 185.2,319.9 185.8,320.3 186.3,320.7 186.8,321.1 187.3,321.5 187.9,321.9 188.4,322.2 188.9,322.6 189.5,322.9 190.0,323.2 190.5,323.5 191.1,323.8 191.6,324.0 192.1,324.3 192.6,324.5 193.2,324.7 193.7,324.9 194.2,325.1 194.8,325.2 195.3,325.3 195.8,325.5 196.3,325.6 196.9,325.6 197.4,325.7 197.9,325.8 198.5,325.8 199.0,325.8 199.5,325.8 200.0,325.8 200.6,325.7 201.1,325.7 201.6,325.6 202.2,325.5 202.7,325.4 203.2,325.2 203.8,325.1 204.3,324.9 204.8,324.7 205.3,324.5 205.9,324.3 206.4,324.1 206.9,323.8 207.5,323.5 208.0,323.3 208.5,323.0 209.0,322.6 209.6,322.3 210.1,321.9 210.6,321.6 211.2,321.2 211.7,320.8 212.2,320.3 212.7,319.9 213.3,319.4 213.8,319.0 214.3,318.5 214.9,318.0 215.4,317.5 215.9,317.0 216.5,316.4 217.0,315.9 217.5,315.3 218.0,314.8 218.6,314.2 219.1,313.6 219.6,313.0 220.2,312.4 220.7,311.8 221.2,311.1 221.7,310.5 222.3,309.8 222.8,309.2 223.3,308.5 223.9,307.9 224.4,307.2 224.9,306.5 225.4,305.8 226.0,305.2 226.5,304.5 227.0,303.8 227.6,303.1 228.1,302.4 228.6,301.7 229.1,301.0 229.7,300.4 230.2,299.7 230.7,299.0 231.3,298.3 231.8,297.7 232.3,297.0 232.9,296.4 233.4,295.8 233.9,295.1 234.4,294.5 235.0,293.9 235.5,293.3 236.0,292.8 236.6,292.2 237.1,291.7 237.6,291.2 238.1,290.7 238.7,290.2 239.2,289.7 239.7,289.3 240.3,288.9 240.8,288.5 241.3,288.2 241.8,287.8 242.4,287.6 242.9,287.3 243.4,287.1 244.0,286.9 244.5,286.8 245.0,286.6 245.6,286.6 246.1,286.6 246.6,286.6 247.1,286.6 247.7,286.6 248.2,286.6 248.7,286.6 249.3,286.6 249.8,286.6 250.3,286.6 250.8,286.6 251.4,286.6 251.9,286.6 252.4,286.6 253.0,286.6 253.5,286.6 254.0,286.6 254.5,286.6 255.1,286.6 255.6,286.6 256.1,286.6 256.7,286.6 257.2,286.6 257.7,286.6 258.3,286.6 258.8,286.6 259.3,286.6 259.8,286.6 260.4,286.6 260.9,286.6 261.4,286.6 262.0,286.6 262.5,286.6 263.0,286.6 263.5,286.6 264.1,286.6 264.6,286.6" fill="none" stroke="#0000ff" stroke-width="1.15" stroke-linejoin="round"/>
<polyline points="26.5,286.6 27.0,286.5 27.6,286.4 28.1,286.3 28.6,286.1 29.1,285.8 29.7,285.5 30.2,285.1 30.7,284.7 31.3,284.3 31.8,283.8 32.3,283.2 32.8,282.6 33.4,282.0 33.9,281.4 34.4,280.7 35.0,280.0 35.5,279.2 36.0,278.5 36.6,277.7 37.1,276.9 37.6,276.0 38.1,275.2 38.7,274.3 39.2,273.4 39.7,272.5 40.3,271.6 40.8,270.6 41.3,269.7 41.8,268.7 42.4,267.7 42.9,266.8 43.4,265.8 44.0,264.8 44.5,263.8 45.0,262.8 45.5,261.9 46.1,260.9 46.6,259.9 47.1,258.9 47.7,257.9 48.2,256.9 48.7,256.0 49.3,255.0 49.8,254.1 50.3,253.1 50.8,252.2 51.4,251.2 51.9,250.3 52.4,249.4 53.0,248.5 53.5,247.6 54.0,246.8 54.5,245.9 55.1,245.1 55.6,244.3 56.1,243.5 56.7,242.7 57.2,241.9 57.7,241.2 58.2,240.4 58.8,239.7 59.3,239.0 59.8,238.3 60.4,237.7 60.9,237.0 61.4,236.4 62.0,235.8 62.5,235.3 63.0,234.7 63.5,234.2 64.1,233.7 64.6,233.2 65.1,232.7 65.7,232.3 66.2,231.9 66.7,231.5 67.2,231.1 67.8,230.8 68.3,230.4 68.8,230.2 69.4,229.9 69.9,229.6 70.4,229.4 70.9,229.2 71.5,229.0 72.0,228.9 72.5,228.7 73.1,228.6 73.6,228.5 74.1,228.5 74.6,228.5 75.2,228.4 75.7,228.5 76.2,228.5 76.8,228.5 77.3,228.6 77.8,228.7 78.4,228.9 78.9,229.0 79.4,229.2 79.9,229.4 80.5,229.6 81.0,229.8 81.5,230.1 82.1,230.4 82.6,230.7 83.1,231.0 83.6,231.3 84.2,231.7 84.7,232.1 85.2,232.5 85.8,232.9 86.3,233.4 86.8,233.8 87.3,234.3 87.9,234.8 88.4,235.3 88.9,235.9 89.5,236.4 90.0,237.0 90.5,237.6 91.1,238.2 91.6,238.8 92.1,239.4 92.6,240.1 93.2,240.7 93.7,241.4 94.2,242.1 94.8,242.8 95.3,243.5 95.8,244.3 96.3,245.0 96.9,245.8 97.4,246.5 97.9,247.3 98.5,248.1 99.0,248.9 99.5,249.7 100.0,250.5 100.6,251.4 101.1,252.2 101.6,253.1 102.2,253.9 102.7,254.8 103.2,255.7 103.8,256.5 104.3,257.4 104.8,258.3 105.3,259.2 105.9,260.1 106.4,261.0 106.9,261.9 107.5,262.9 108.0,263.8 108.5,264.7 109.0,265.6 109.6,266.6 110.1,267.5 110.6,268.4 111.2,269.4 111.7,270.3 112.2,271.2 112.7,272.2 113.3,273.1 113.8,274.0 114.3,275.0 114.9,275.9 115.4,276.8 115.9,277.8 116.4,278.7 117.0,279.6 117.5,280.5 118.0,281.5 118.6,282.4 119.1,283.3 119.6,284.2 120.2,285.1 120.7,286.0 121.2,286.9 121.7,287.7 122.3,288.6 122.8,289.5 123.3,290.4 123.9,291.2 124.4,292.1 124.9,292.9 125.4,293.7 126.0,294.6 126.5,295.4 127.0,296.2 127.6,297.0 128.1,297.8 128.6,298.6 129.1,299.3 129.7,300.1 130.2,300.8 130.7,301.6 131.3,302.3 131.8,303.0 132.3,303.7 132.9,304.4 133.4,305.1 133.9,305.8 134.4,306.4 135.0,307.1 135.5,307.7 136.0,308.3 136.6,308.9 137.1,309.5 137.6,310.1 138.1,310.7 138.7,311.2 139.2,311.8 139.7,312.3 140.3,312.8 140.8,313.3 141.3,313.8 141.8,314.3 142.4,314.7 142.9,315.2 143.4,315.6 144.0,316.0 144.5,316.4 145.0,316.8 145.6,317.2 146.1,317.5 146.6,317.8 147.1,318.2 147.7,318.5 148.2,318.8 148.7,319.1 149.3,319.3 149.8,319.6 150.3,319.8 150.8,320.0 151.4,320.3 151.9,320.4 152.4,320.6 153.0,320.8 153.5,320.9 154.0,321.1 154.5,321.2 155.1,321.3 155.6,321.4 156.1,321.5 156.7,321.5 157.2,321.6 157.7,321.6 158.2,321.6 158.8,321.6 159.3,321.6 159.8,321.6 160.4,321.6 160.9,321.5 161.4,321.5 162.0,321.4 162.5,321.3 163.0,321.2 163.5,321.1 164.1,321.0 164.6,320.8 165.1,320.7 165.7,320.5 166.2,320.4 166.7,320.2 167.2,320.0 167.8,319.8 168.3,319.6 168.8,319.3 169.4,319.1 169.9,318.8 170.4,318.6 170.9,318.3 171.5,318.0 172.0,317.8 172.5,317.5 173.1,317.2 173.6,316.8 174.1,316.5 174.7,316.2 175.2,315.9 175.7,315.5 176.2,315.2 176.8,314.8 177.3,314.4 177.8,314.1 178.4,313.7 178.9,313.3 179.4,312.9 179.9,312.5 180.5,312.1 181.0,311.7 181.5,311.3 182.1,310.9 182.6,310.5 183.1,310.1 183.6,309.6 184.2,309.2 184.7,308.8 185.2,308.4 185.8,307.9 186.3,307.5 186.8,307.0 187.3,306.6 187.9,306.2 188.4,305.7 188.9,305.3 189.5,304.8 190.0,304.4 190.5,304.0 191.1,303.5 191.6,303.1 192.1,302.6 192.6,302.2 193.2,301.8 193.7,301.3 194.2,300.9 194.8,300.5 195.3,300.1 195.8,299.6 196.3,299.2 196.9,298.8 197.4,298.4 197.9,298.0 198.5,297.6 199.0,297.2 199.5,296.8 200.0,296.4 200.6,296.1 201.1,295.7 201.6,295.3 202.2,295.0 202.7,294.6 203.2,294.2 203.8,293.9 204.3,293.6 204.8,293.2 205.3,292.9 205.9,292.6 206.4,292.3 206.9,292.0 207.5,291.7 208.0,291.4 208.5,291.1 209.0,290.9 209.6,290.6 210.1,290.4 210.6,290.1 211.2,289.9 211.7,289.7 212.2,289.5 212.7,289.2 213.3,289.0 213.8,288.9 214.3,288.7 214.9,288.5 215.4,288.3 215.9,288.2 216.5,288.0 217.0,287.9 217.5,287.7 218.0,287.6 218.6,287.5 219.1,287.4 219.6,287.3 220.2,287.2 220.7,287.1 221.2,287.0 221.7,287.0 222.3,286.9 222.8,286.9 223.3,286.8 223.9,286.8 224.4,286.7 224.9,286.7 225.4,286.7 226.0,286.6 226.5,286.6 227.0,286.6 227.6,286.6 228.1,286.6 228.6,286.6 229.1,286.6 229.7,286.6 230.2,286.6 230.7,286.6 231.3,286.6 231.8,286.6 232.3,286.6 232.9,286.6 233.4,286.6 233.9,286.6 234.4,286.6 235.0,286.6 235.5,286.6 236.0,286.6 236.6,286.6 237.1,286.6 237.6,286.6 238.1,286.6 238.7,286.6 239.2,286.6 239.7,286.6 240.3,286.6 240.8,286.6 241.3,286.6 241.8,286.6 242.4,286.6 242.9,286.6 243.4,286.6 244.0,286.6 244.5,286.6 245.0,286.6 245.6,286.6 246.1,286.6 246.6,286.6 247.1,286.6 247.7,286.6 248.2,286.6 248.7,286.6 249.3,286.6 249.8,286.6 250.3,286.6 250.8,286.6 251.4,286.6 251.9,286.6 252.4,286.6 253.0,286.6 253.5,286.6 254.0,286.6 254.5,286.6 255.1,286.6 255.6,286.6 256.1,286.6 256.7,286.6 257.2,286.6 257.7,286.6 258.3,286.6 258.8,286.6 259.3,286.6 259.8,286.6 260.4,286.6 260.9,286.6 261.4,286.6 262.0,286.6 262.5,286.6 263.0,286.6 263.5,286.6 264.1,286.6 264.6,286.6" fill="none" stroke="#ff0000" stroke-width="1.15" stroke-linejoin="round"/>
<polyline points="26.5,286.6 27.0,286.6 27.6,286.6 28.1,286.6 28.6,286.5 29.1,286.5 29.7,286.5 30.2,286.5 30.7,286.5 31.3,286.4 31.8,286.4 32.3,286.3 32.8,286.3 33.4,286.2 33.9,286.1 34.4,286.0 35.0,285.9 35.5,285.8 36.0,285.7 36.6,285.6 37.1,285.4 37.6,285.2 38.1,285.1 38.7,284.9 39.2,284.7 39.7,284.5 40.3,284.2 40.8,284.0 41.3,283.7 41.8,283.4 42.4,283.2 42.9,282.9 43.4,282.5 44.0,282.2 44.5,281.9 45.0,281.5 45.5,281.1 46.1,280.7 46.6,280.3 47.1,279.9 47.7,279.5 48.2,279.1 48.7,278.6 49.3,278.1 49.8,277.7 50.3,277.2 50.8,276.7 51.4,276.2 51.9,275.6 52.4,275.1 53.0,274.6 53.5,274.0 54.0,273.5 54.5,272.9 55.1,272.3 55.6,271.7 56.1,271.1 56.7,270.5 57.2,269.9 57.7,269.3 58.2,268.6 58.8,268.0 59.3,267.4 59.8,266.7 60.4,266.1 60.9,265.4 61.4,264.8 62.0,264.1 62.5,263.4 63.0,262.8 63.5,262.1 64.1,261.4 64.6,260.8 65.1,260.1 65.7,259.4 66.2,258.8 66.7,258.1 67.2,257.4 67.8,256.8 68.3,256.1 68.8,255.4 69.4,254.8 69.9,254.1 70.4,253.5 70.9,252.8 71.5,252.2 72.0,251.5 72.5,250.9 73.1,250.3 73.6,249.6 74.1,249.0 74.6,248.4 75.2,247.8 75.7,247.2 76.2,246.7 76.8,246.1 77.3,245.5 77.8,245.0 78.4,244.4 78.9,243.9 79.4,243.4 79.9,242.9 80.5,242.4 81.0,241.9 81.5,241.4 82.1,240.9 82.6,240.5 83.1,240.1 83.6,239.6 84.2,239.2 84.7,238.8 85.2,238.5 85.8,238.1 86.3,237.7 86.8,237.4 87.3,237.1 87.9,236.8 88.4,236.5 88.9,236.2 89.5,236.0 90.0,235.7 90.5,235.5 91.1,235.3 91.6,235.1 92.1,234.9 92.6,234.8 93.2,234.6 93.7,234.5 94.2,234.4 94.8,234.3 95.3,234.2 95.8,234.2 96.3,234.2 96.9,234.1 97.4,234.1 97.9,234.2 98.5,234.2 99.0,234.3 99.5,234.3 100.0,234.4 100.6,234.5 101.1,234.7 101.6,234.8 102.2,235.0 102.7,235.2 103.2,235.4 103.8,235.6 104.3,235.8 104.8,236.1 105.3,236.4 105.9,236.6 106.4,237.0 106.9,237.3 107.5,237.6 108.0,238.0 108.5,238.4 109.0,238.8 109.6,239.2 110.1,239.6 110.6,240.0 111.2,240.5 111.7,241.0 112.2,241.5 112.7,242.0 113.3,242.5 113.8,243.1 114.3,243.6 114.9,244.2 115.4,244.8 115.9,245.4 116.4,246.0 117.0,246.6 117.5,247.2 118.0,247.9 118.6,248.6 119.1,249.2 119.6,249.9 120.2,250.6 120.7,251.4 121.2,252.1 121.7,252.8 122.3,253.6 122.8,254.3 123.3,255.1 123.9,255.9 124.4,256.7 124.9,257.5 125.4,258.3 126.0,259.1 126.5,259.9 127.0,260.8 127.6,261.6 128.1,262.5 128.6,263.3 129.1,264.2 129.7,265.0 130.2,265.9 130.7,266.8 131.3,267.7 131.8,268.6 132.3,269.5 132.9,270.4 133.4,271.3 133.9,272.2 134.4,273.1 135.0,274.0 135.5,274.9 136.0,275.8 136.6,276.7 137.1,277.6 137.6,278.5 138.1,279.5 138.7,280.4 139.2,281.3 139.7,282.2 140.3,283.1 140.8,284.0 141.3,284.9 141.8,285.8 142.4,286.7 142.9,287.6 143.4,288.5 144.0,289.4 144.5,290.3 145.0,291.2 145.6,292.0 146.1,292.9 146.6,293.8 147.1,294.6 147.7,295.5 148.2,296.3 148.7,297.2 149.3,298.0 149.8,298.8 150.3,299.6 150.8,300.4 151.4,301.2 151.9,302.0 152.4,302.8 153.0,303.5 153.5,304.3 154.0,305.0 154.5,305.8 155.1,306.5 155.6,307.2 156.1,307.9 156.7,308.6 157.2,309.2 157.7,309.9 158.2,310.6 158.8,311.2 159.3,311.8 159.8,312.4 160.4,313.0 160.9,313.6 161.4,314.1 162.0,314.7 162.5,315.2 163.0,315.8 163.5,316.3 164.1,316.8 164.6,317.2 165.1,317.7 165.7,318.1 166.2,318.6 166.7,319.0 167.2,319.4 167.8,319.7 168.3,320.1 168.8,320.5 169.4,320.8 169.9,321.1 170.4,321.4 170.9,321.7 171.5,321.9 172.0,322.2 172.5,322.4 173.1,322.6 173.6,322.8 174.1,323.0 174.7,323.2 175.2,323.3 175.7,323.4 176.2,323.6 176.8,323.6 177.3,323.7 177.8,323.8 178.4,323.8 178.9,323.9 179.4,323.9 179.9,323.9 180.5,323.8 181.0,323.8 181.5,323.8 182.1,323.7 182.6,323.6 183.1,323.5 183.6,323.4 184.2,323.2 184.7,323.1 185.2,322.9 185.8,322.8 186.3,322.6 186.8,322.4 187.3,322.1 187.9,321.9 188.4,321.7 188.9,321.4 189.5,321.1 190.0,320.8 190.5,320.5 191.1,320.2 191.6,319.9 192.1,319.6 192.6,319.2 193.2,318.9 193.7,318.5 194.2,318.1 194.8,317.7 195.3,317.3 195.8,316.9 196.3,316.5 196.9,316.1 197.4,315.6 197.9,315.2 198.5,314.8 199.0,314.3 199.5,313.8 200.0,313.4 200.6,312.9 201.1,312.4 201.6,311.9 202.2,311.4 202.7,310.9 203.2,310.4 203.8,309.9 204.3,309.4 204.8,308.9 205.3,308.4 205.9,307.8 206.4,307.3 206.9,306.8 207.5,306.3 208.0,305.8 208.5,305.2 209.0,304.7 209.6,304.2 210.1,303.7 210.6,303.2 211.2,302.7 211.7,302.1 212.2,301.6 212.7,301.1 213.3,300.6 213.8,300.1 214.3,299.6 214.9,299.1 215.4,298.7 215.9,298.2 216.5,297.7 217.0,297.2 217.5,296.8 218.0,296.3 218.6,295.9 219.1,295.5 219.6,295.0 220.2,294.6 220.7,294.2 221.2,293.8 221.7,293.4 222.3,293.0 222.8,292.7 223.3,292.3 223.9,292.0 224.4,291.6 224.9,291.3 225.4,291.0 226.0,290.7 226.5,290.4 227.0,290.1 227.6,289.8 228.1,289.6 228.6,289.3 229.1,289.1 229.7,288.8 230.2,288.6 230.7,288.4 231.3,288.2 231.8,288.1 232.3,287.9 232.9,287.7 233.4,287.6 233.9,287.5 234.4,287.3 235.0,287.2 235.5,287.1 236.0,287.0 236.6,286.9 237.1,286.9 237.6,286.8 238.1,286.8 238.7,286.7 239.2,286.7 239.7,286.6 240.3,286.6 240.8,286.6 241.3,286.6 241.8,286.6 242.4,286.6 242.9,286.6 243.4,286.6 244.0,286.6 244.5,286.6 245.0,286.6 245.6,286.6 246.1,286.6 246.6,286.6 247.1,286.6 247.7,286.6 248.2,286.6 248.7,286.6 249.3,286.6 249.8,286.6 250.3,286.6 250.8,286.6 251.4,286.6 251.9,286.6 252.4,286.6 253.0,286.6 253.5,286.6 254.0,286.6 254.5,286.6 255.1,286.6 255.6,286.6 256.1,286.6 256.7,286.6 257.2,286.6 257.7,286.6 258.3,286.6 258.8,286.6 259.3,286.6 259.8,286.6 260.4,286.6 260.9,286.6 261.4,286.6 262.0,286.6 262.5,286.6 263.0,286.6 263.5,286.6 264.1,286.6 264.6,286.6" fill="none" stroke="#00ff00" stroke-width="1.15" stroke-linejoin="round"/>
<polyline points="26.5,286.6 27.0,286.5 27.6,286.1 28.1,285.6 28.6,284.9 29.1,284.1 29.7,283.1 30.2,282.0 30.7,280.7 31.3,279.3 31.8,277.8 32.3,276.2 32.8,274.6 33.4,272.8 33.9,271.0 34.4,269.2 35.0,267.3 35.5,265.3 36.0,263.3 36.6,261.3 37.1,259.3 37.6,257.3 38.1,255.3 38.7,253.2 39.2,251.2 39.7,249.2 40.3,247.2 40.8,245.2 41.3,243.3 41.8,241.4 42.4,239.5 42.9,237.7 43.4,235.9 44.0,234.2 44.5,232.5 45.0,230.8 45.5,229.2 46.1,227.7 46.6,226.2 47.1,224.8 47.7,223.5 48.2,222.2 48.7,221.0 49.3,219.8 49.8,218.7 50.3,217.7 50.8,216.7 51.4,215.8 51.9,215.0 52.4,214.3 53.0,213.6 53.5,213.0 54.0,212.4 54.5,211.9 55.1,211.5 55.6,211.2 56.1,210.9 56.7,210.7 57.2,210.5 57.7,210.4 58.2,210.4 58.8,210.4 59.3,210.5 59.8,210.7 60.4,210.9 60.9,211.2 61.4,211.5 62.0,211.9 62.5,212.3 63.0,212.8 63.5,213.4 64.1,213.9 64.6,214.6 65.1,215.2 65.7,216.0 66.2,216.7 66.7,217.5 67.2,218.3 67.8,219.2 68.3,220.1 68.8,221.1 69.4,222.0 69.9,223.0 70.4,224.0 70.9,225.1 71.5,226.2 72.0,227.3 72.5,228.4 73.1,229.5 73.6,230.6 74.1,231.8 74.6,233.0 75.2,234.2 75.7,235.4 76.2,236.6 76.8,237.8 77.3,239.0 77.8,240.2 78.4,241.5 78.9,242.7 79.4,243.9 79.9,245.1 80.5,246.3 81.0,247.6 81.5,248.8 82.1,250.0 82.6,251.2 83.1,252.3 83.6,253.5 84.2,254.7 84.7,255.8 85.2,257.0 85.8,258.1 86.3,259.2 86.8,260.3 87.3,261.3 87.9,262.4 88.4,263.4 88.9,264.4 89.5,265.4 90.0,266.4 90.5,267.3 91.1,268.3 91.6,269.2 92.1,270.0 92.6,270.9 93.2,271.7 93.7,272.5 94.2,273.3 94.8,274.1 95.3,274.8 95.8,275.5 96.3,276.2 96.9,276.9 97.4,277.5 97.9,278.1 98.5,278.7 99.0,279.3 99.5,279.8 100.0,280.3 100.6,280.8 101.1,281.3 101.6,281.7 102.2,282.1 102.7,282.5 103.2,282.9 103.8,283.2 104.3,283.6 104.8,283.9 105.3,284.1 105.9,284.4 106.4,284.7 106.9,284.9 107.5,285.1 108.0,285.3 108.5,285.5 109.0,285.6 109.6,285.8 110.1,285.9 110.6,286.0 111.2,286.1 111.7,286.2 112.2,286.3 112.7,286.3 113.3,286.4 113.8,286.4 114.3,286.5 114.9,286.5 115.4,286.5 115.9,286.5 116.4,286.5 117.0,286.6 117.5,286.6 118.0,286.6 118.6,286.6 119.1,286.6 119.6,286.6 120.2,286.6 120.7,286.6 121.2,286.6 121.7,286.6 122.3,286.6 122.8,286.6 123.3,286.6 123.9,286.7 124.4,286.7 124.9,286.8 125.4,286.8 126.0,286.9 126.5,287.0 127.0,287.1 127.6,287.2 128.1,287.3 128.6,287.4 129.1,287.6 129.7,287.7 130.2,287.9 130.7,288.1 131.3,288.3 131.8,288.5 132.3,288.8 132.9,289.0 133.4,289.3 133.9,289.6 134.4,289.9 135.0,290.2 135.5,290.6 136.0,291.0 136.6,291.4 137.1,291.8 137.6,292.2 138.1,292.6 138.7,293.1 139.2,293.6 139.7,294.1 140.3,294.7 140.8,295.2 141.3,295.8 141.8,296.4 142.4,297.0 142.9,297.6 143.4,298.3 144.0,298.9 144.5,299.6 145.0,300.3 145.6,301.0 146.1,301.8 146.6,302.5 147.1,303.3 147.7,304.1 148.2,304.9 148.7,305.7 149.3,306.5 149.8,307.4 150.3,308.2 150.8,309.1 151.4,309.9 151.9,310.8 152.4,311.7 153.0,312.6 153.5,313.4 154.0,314.3 154.5,315.2 155.1,316.1 155.6,317.0 156.1,317.9 156.7,318.8 157.2,319.7 157.7,320.6 158.2,321.5 158.8,322.4 159.3,323.2 159.8,324.1 160.4,324.9 160.9,325.8 161.4,326.6 162.0,327.4 162.5,328.2 163.0,328.9 163.5,329.7 164.1,330.4 164.6,331.1 165.1,331.8 165.7,332.4 166.2,333.0 166.7,333.6 167.2,334.2 167.8,334.7 168.3,335.2 168.8,335.6 169.4,336.1 169.9,336.4 170.4,336.8 170.9,337.1 171.5,337.3 172.0,337.6 172.5,337.7 173.1,337.9 173.6,337.9 174.1,338.0 174.7,338.0 175.2,337.9 175.7,337.8 176.2,337.6 176.8,337.4 177.3,337.1 177.8,336.8 178.4,336.5 178.9,336.0 179.4,335.6 179.9,335.0 180.5,334.4 181.0,333.8 181.5,333.1 182.1,332.4 182.6,331.6 183.1,330.7 183.6,329.8 184.2,328.9 184.7,327.9 185.2,326.8 185.8,325.7 186.3,324.6 186.8,323.4 187.3,322.2 187.9,320.9 188.4,319.6 188.9,318.3 189.5,317.0 190.0,315.6 190.5,314.2 191.1,312.7 191.6,311.3 192.1,309.8 192.6,308.4 193.2,306.9 193.7,305.4 194.2,304.0 194.8,302.5 195.3,301.1 195.8,299.7 196.3,298.3 196.9,297.0 197.4,295.7 197.9,294.4 198.5,293.2 199.0,292.1 199.5,291.0 200.0,290.1 200.6,289.2 201.1,288.5 201.6,287.8 202.2,287.3 202.7,286.9 203.2,286.6 203.8,286.6 204.3,286.6 204.8,286.6 205.3,286.6 205.9,286.6 206.4,286.6 206.9,286.6 207.5,286.6 208.0,286.6 208.5,286.6 209.0,286.6 209.6,286.6 210.1,286.6 210.6,286.6 211.2,286.6 211.7,286.6 212.2,286.6 212.7,286.6 213.3,286.6 213.8,286.6 214.3,286.6 214.9,286.6 215.4,286.6 215.9,286.6 216.5,286.6 217.0,286.6 217.5,286.6 218.0,286.6 218.6,286.6 219.1,286.6 219.6,286.6 220.2,286.6 220.7,286.6 221.2,286.6 221.7,286.6 222.3,286.6 222.8,286.6 223.3,286.6 223.9,286.6 224.4,286.6 224.9,286.6 225.4,286.6 226.0,286.6 226.5,286.6 227.0,286.6 227.6,286.6 228.1,286.6 228.6,286.6 229.1,286.6 229.7,286.6 230.2,286.6 230.7,286.6 231.3,286.6 231.8,286.6 232.3,286.6 232.9,286.6 233.4,286.6 233.9,286.6 234.4,286.6 235.0,286.6 235.5,286.6 236.0,286.6 236.6,286.6 237.1,286.6 237.6,286.6 238.1,286.6 238.7,286.6 239.2,286.6 239.7,286.6 240.3,286.6 240.8,286.6 241.3,286.6 241.8,286.6 242.4,286.6 242.9,286.6 243.4,286.6 244.0,286.6 244.5,286.6 245.0,286.6 245.6,286.6 246.1,286.6 246.6,286.6 247.1,286.6 247.7,286.6 248.2,286.6 248.7,286.6 249.3,286.6 249.8,286.6 250.3,286.6 250.8,286.6 251.4,286.6 251.9,286.6 252.4,286.6 253.0,286.6 253.5,286.6 254.0,286.6 254.5,286.6 255.1,286.6 255.6,286.6 256.1,286.6 256.7,286.6 257.2,286.6 257.7,286.6 258.3,286.6 258.8,286.6 259.3,286.6 259.8,286.6 260.4,286.6 260.9,286.6 261.4,286.6 262.0,286.6 262.5,286.6 263.0,286.6 263.5,286.6 264.1,286.6 264.6,286.6" fill="none" stroke="#ff00ff" stroke-width="1.15" stroke-linejoin="round"/>
<polyline points="26.5,286.6 27.0,286.6 27.6,286.6 28.1,286.5 28.6,286.5 29.1,286.5 29.7,286.4 30.2,286.3 30.7,286.1 31.3,286.0 31.8,285.8 32.3,285.6 32.8,285.3 33.4,285.0 33.9,284.6 34.4,284.2 35.0,283.8 35.5,283.3 36.0,282.8 36.6,282.2 37.1,281.6 37.6,281.0 38.1,280.3 38.7,279.5 39.2,278.7 39.7,277.9 40.3,277.1 40.8,276.2 41.3,275.2 41.8,274.3 42.4,273.3 42.9,272.2 43.4,271.2 44.0,270.1 44.5,269.0 45.0,267.8 45.5,266.6 46.1,265.5 46.6,264.2 47.1,263.0 47.7,261.8 48.2,260.5 48.7,259.3 49.3,258.0 49.8,256.7 50.3,255.4 50.8,254.1 51.4,252.9 51.9,251.6 52.4,250.3 53.0,249.0 53.5,247.7 54.0,246.5 54.5,245.2 55.1,244.0 55.6,242.8 56.1,241.6 56.7,240.4 57.2,239.2 57.7,238.1 58.2,237.0 58.8,235.9 59.3,234.8 59.8,233.8 60.4,232.8 60.9,231.8 61.4,230.8 62.0,229.9 62.5,229.1 63.0,228.2 63.5,227.4 64.1,226.6 64.6,225.9 65.1,225.2 65.7,224.5 66.2,223.9 66.7,223.4 67.2,222.8 67.8,222.3 68.3,221.9 68.8,221.5 69.4,221.1 69.9,220.8 70.4,220.5 70.9,220.3 71.5,220.1 72.0,219.9 72.5,219.8 73.1,219.8 73.6,219.7 74.1,219.8 74.6,219.8 75.2,219.9 75.7,220.1 76.2,220.3 76.8,220.5 77.3,220.7 77.8,221.1 78.4,221.4 78.9,221.8 79.4,222.2 79.9,222.7 80.5,223.1 81.0,223.7 81.5,224.2 82.1,224.8 82.6,225.4 83.1,226.1 83.6,226.8 84.2,227.5 84.7,228.2 85.2,229.0 85.8,229.8 86.3,230.6 86.8,231.5 87.3,232.3 87.9,233.2 88.4,234.1 88.9,235.0 89.5,236.0 90.0,236.9 90.5,237.9 91.1,238.9 91.6,239.9 92.1,240.9 92.6,241.9 93.2,242.9 93.7,243.9 94.2,245.0 94.8,246.0 95.3,247.0 95.8,248.1 96.3,249.1 96.9,250.2 97.4,251.2 97.9,252.3 98.5,253.3 99.0,254.4 99.5,255.4 100.0,256.4 100.6,257.5 101.1,258.5 101.6,259.5 102.2,260.5 102.7,261.4 103.2,262.4 103.8,263.4 104.3,264.3 104.8,265.2 105.3,266.1 105.9,267.0 106.4,267.9 106.9,268.8 107.5,269.6 108.0,270.4 108.5,271.3 109.0,272.0 109.6,272.8 110.1,273.6 110.6,274.3 111.2,275.0 111.7,275.7 112.2,276.3 112.7,277.0 113.3,277.6 113.8,278.2 114.3,278.7 114.9,279.3 115.4,279.8 115.9,280.3 116.4,280.8 117.0,281.3 117.5,281.7 118.0,282.1 118.6,282.5 119.1,282.9 119.6,283.2 120.2,283.5 120.7,283.9 121.2,284.1 121.7,284.4 122.3,284.7 122.8,284.9 123.3,285.1 123.9,285.3 124.4,285.5 124.9,285.6 125.4,285.8 126.0,285.9 126.5,286.0 127.0,286.1 127.6,286.2 128.1,286.3 128.6,286.3 129.1,286.4 129.7,286.4 130.2,286.5 130.7,286.5 131.3,286.5 131.8,286.5 132.3,286.5 132.9,286.6 133.4,286.6 133.9,286.6 134.4,286.6 135.0,286.6 135.5,286.6 136.0,286.6 136.6,286.6 137.1,286.6 137.6,286.6 138.1,286.6 138.7,286.6 139.2,286.7 139.7,286.7 140.3,286.8 140.8,286.8 141.3,286.9 141.8,287.0 142.4,287.1 142.9,287.2 143.4,287.4 144.0,287.5 144.5,287.7 145.0,287.9 145.6,288.1 146.1,288.3 146.6,288.5 147.1,288.8 147.7,289.1 148.2,289.4 148.7,289.7 149.3,290.1 149.8,290.5 150.3,290.9 150.8,291.3 151.4,291.7 151.9,292.2 152.4,292.7 153.0,293.2 153.5,293.8 154.0,294.3 154.5,294.9 155.1,295.6 155.6,296.2 156.1,296.9 156.7,297.6 157.2,298.3 157.7,299.1 158.2,299.9 158.8,300.7 159.3,301.5 159.8,302.3 160.4,303.2 160.9,304.1 161.4,305.0 162.0,305.9 162.5,306.9 163.0,307.8 163.5,308.8 164.1,309.8 164.6,310.8 165.1,311.8 165.7,312.9 166.2,313.9 166.7,315.0 167.2,316.0 167.8,317.1 168.3,318.2 168.8,319.3 169.4,320.3 169.9,321.4 170.4,322.5 170.9,323.6 171.5,324.6 172.0,325.7 172.5,326.8 173.1,327.8 173.6,328.8 174.1,329.8 174.7,330.8 175.2,331.8 175.7,332.7 176.2,333.7 176.8,334.5 177.3,335.4 177.8,336.2 178.4,337.0 178.9,337.8 179.4,338.5 179.9,339.2 180.5,339.9 181.0,340.5 181.5,341.0 182.1,341.5 182.6,341.9 183.1,342.3 183.6,342.7 184.2,343.0 184.7,343.2 185.2,343.3 185.8,343.4 186.3,343.5 186.8,343.4 187.3,343.3 187.9,343.1 188.4,342.9 188.9,342.6 189.5,342.2 190.0,341.7 190.5,341.2 191.1,340.6 191.6,339.9 192.1,339.1 192.6,338.3 193.2,337.4 193.7,336.4 194.2,335.4 194.8,334.2 195.3,333.0 195.8,331.8 196.3,330.4 196.9,329.0 197.4,327.6 197.9,326.1 198.5,324.5 199.0,322.9 199.5,321.2 200.0,319.5 200.6,317.7 201.1,315.9 201.6,314.1 202.2,312.3 202.7,310.5 203.2,308.6 203.8,306.8 204.3,304.9 204.8,303.1 205.3,301.3 205.9,299.6 206.4,297.9 206.9,296.3 207.5,294.7 208.0,293.2 208.5,291.9 209.0,290.6 209.6,289.5 210.1,288.6 210.6,287.8 211.2,287.2 211.7,286.7 212.2,286.6 212.7,286.6 213.3,286.6 213.8,286.6 214.3,286.6 214.9,286.6 215.4,286.6 215.9,286.6 216.5,286.6 217.0,286.6 217.5,286.6 218.0,286.6 218.6,286.6 219.1,286.6 219.6,286.6 220.2,286.6 220.7,286.6 221.2,286.6 221.7,286.6 222.3,286.6 222.8,286.6 223.3,286.6 223.9,286.6 224.4,286.6 224.9,286.6 225.4,286.6 226.0,286.6 226.5,286.6 227.0,286.6 227.6,286.6 228.1,286.6 228.6,286.6 229.1,286.6 229.7,286.6 230.2,286.6 230.7,286.6 231.3,286.6 231.8,286.6 232.3,286.6 232.9,286.6 233.4,286.6 233.9,286.6 234.4,286.6 235.0,286.6 235.5,286.6 236.0,286.6 236.6,286.6 237.1,286.6 237.6,286.6 238.1,286.6 238.7,286.6 239.2,286.6 239.7,286.6 240.3,286.6 240.8,286.6 241.3,286.6 241.8,286.6 242.4,286.6 242.9,286.6 243.4,286.6 244.0,286.6 244.5,286.6 245.0,286.6 245.6,286.6 246.1,286.6 246.6,286.6 247.1,286.6 247.7,286.6 248.2,286.6 248.7,286.6 249.3,286.6 249.8,286.6 250.3,286.6 250.8,286.6 251.4,286.6 251.9,286.6 252.4,286.6 253.0,286.6 253.5,286.6 254.0,286.6 254.5,286.6 255.1,286.6 255.6,286.6 256.1,286.6 256.7,286.6 257.2,286.6 257.7,286.6 258.3,286.6 258.8,286.6 259.3,286.6 259.8,286.6 260.4,286.6 260.9,286.6 261.4,286.6 262.0,286.6 262.5,286.6 263.0,286.6 263.5,286.6 264.1,286.6 264.6,286.6" fill="none" stroke="#00ffff" stroke-width="1.15" stroke-linejoin="round"/>
<polyline points="26.5,286.6 27.0,286.4 27.6,285.9 28.1,285.1 28.6,284.0 29.1,282.7 29.7,281.1 30.2,279.3 30.7,277.4 31.3,275.3 31.8,273.1 32.3,270.7 32.8,268.3 33.4,265.8 33.9,263.2 34.4,260.5 35.0,257.8 35.5,255.1 36.0,252.3 36.6,249.6 37.1,246.9 37.6,244.2 38.1,241.5 38.7,238.9 39.2,236.3 39.7,233.7 40.3,231.3 40.8,228.9 41.3,226.5 41.8,224.3 42.4,222.1 42.9,220.0 43.4,218.0 44.0,216.1 44.5,214.3 45.0,212.6 45.5,211.0 46.1,209.5 46.6,208.1 47.1,206.8 47.7,205.6 48.2,204.5 48.7,203.6 49.3,202.7 49.8,201.9 50.3,201.3 50.8,200.7 51.4,200.3 51.9,199.9 52.4,199.7 53.0,199.5 53.5,199.5 54.0,199.5 54.5,199.6 55.1,199.8 55.6,200.2 56.1,200.5 56.7,201.0 57.2,201.6 57.7,202.2 58.2,202.9 58.8,203.7 59.3,204.5 59.8,205.4 60.4,206.4 60.9,207.4 61.4,208.5 62.0,209.6 62.5,210.8 63.0,212.0 63.5,213.3 64.1,214.6 64.6,216.0 65.1,217.3 65.7,218.8 66.2,220.2 66.7,221.7 67.2,223.2 67.8,224.7 68.3,226.2 68.8,227.7 69.4,229.3 69.9,230.8 70.4,232.4 70.9,234.0 71.5,235.6 72.0,237.1 72.5,238.7 73.1,240.3 73.6,241.8 74.1,243.3 74.6,244.9 75.2,246.4 75.7,247.9 76.2,249.4 76.8,250.9 77.3,252.3 77.8,253.7 78.4,255.1 78.9,256.5 79.4,257.8 79.9,259.2 80.5,260.5 81.0,261.7 81.5,263.0 82.1,264.2 82.6,265.3 83.1,266.5 83.6,267.6 84.2,268.7 84.7,269.7 85.2,270.7 85.8,271.7 86.3,272.6 86.8,273.5 87.3,274.4 87.9,275.2 88.4,276.0 88.9,276.8 89.5,277.5 90.0,278.2 90.5,278.9 91.1,279.5 91.6,280.1 92.1,280.7 92.6,281.2 93.2,281.7 93.7,282.2 94.2,282.6 94.8,283.0 95.3,283.4 95.8,283.8 96.3,284.1 96.9,284.4 97.4,284.7 97.9,284.9 98.5,285.1 99.0,285.3 99.5,285.5 100.0,285.7 100.6,285.8 101.1,286.0 101.6,286.1 102.2,286.2 102.7,286.3 103.2,286.3 103.8,286.4 104.3,286.4 104.8,286.5 105.3,286.5 105.9,286.5 106.4,286.5 106.9,286.6 107.5,286.6 108.0,286.6 108.5,286.6 109.0,286.6 109.6,286.6 110.1,286.6 110.6,286.6 111.2,286.6 111.7,286.6 112.2,286.6 112.7,286.6 113.3,286.7 113.8,286.7 114.3,286.8 114.9,286.8 115.4,286.9 115.9,287.0 116.4,287.1 117.0,287.2 117.5,287.3 118.0,287.4 118.6,287.6 119.1,287.8 119.6,288.0 120.2,288.2 120.7,288.4 121.2,288.6 121.7,288.9 122.3,289.2 122.8,289.4 123.3,289.8 123.9,290.1 124.4,290.5 124.9,290.8 125.4,291.2 126.0,291.6 126.5,292.1 127.0,292.5 127.6,293.0 128.1,293.5 128.6,294.0 129.1,294.5 129.7,295.1 130.2,295.6 130.7,296.2 131.3,296.8 131.8,297.4 132.3,298.1 132.9,298.7 133.4,299.4 133.9,300.1 134.4,300.8 135.0,301.5 135.5,302.2 136.0,302.9 136.6,303.7 137.1,304.4 137.6,305.2 138.1,306.0 138.7,306.8 139.2,307.5 139.7,308.3 140.3,309.1 140.8,309.9 141.3,310.7 141.8,311.6 142.4,312.4 142.9,313.2 143.4,314.0 144.0,314.8 144.5,315.6 145.0,316.4 145.6,317.2 146.1,318.0 146.6,318.7 147.1,319.5 147.7,320.3 148.2,321.0 148.7,321.7 149.3,322.5 149.8,323.2 150.3,323.8 150.8,324.5 151.4,325.2 151.9,325.8 152.4,326.4 153.0,327.0 153.5,327.6 154.0,328.1 154.5,328.6 155.1,329.1 155.6,329.6 156.1,330.0 156.7,330.4 157.2,330.8 157.7,331.1 158.2,331.5 158.8,331.7 159.3,332.0 159.8,332.2 160.4,332.4 160.9,332.6 161.4,332.7 162.0,332.8 162.5,332.8 163.0,332.8 163.5,332.8 164.1,332.7 164.6,332.6 165.1,332.5 165.7,332.3 166.2,332.1 166.7,331.9 167.2,331.6 167.8,331.3 168.3,331.0 168.8,330.6 169.4,330.2 169.9,329.7 170.4,329.2 170.9,328.7 171.5,328.1 172.0,327.6 172.5,326.9 173.1,326.3 173.6,325.6 174.1,324.9 174.7,324.2 175.2,323.4 175.7,322.6 176.2,321.8 176.8,321.0 177.3,320.2 177.8,319.3 178.4,318.4 178.9,317.5 179.4,316.6 179.9,315.6 180.5,314.7 181.0,313.7 181.5,312.8 182.1,311.8 182.6,310.8 183.1,309.8 183.6,308.9 184.2,307.9 184.7,306.9 185.2,305.9 185.8,305.0 186.3,304.0 186.8,303.1 187.3,302.1 187.9,301.2 188.4,300.3 188.9,299.4 189.5,298.6 190.0,297.7 190.5,296.9 191.1,296.1 191.6,295.3 192.1,294.6 192.6,293.9 193.2,293.2 193.7,292.5 194.2,291.9 194.8,291.3 195.3,290.8 195.8,290.2 196.3,289.8 196.9,289.3 197.4,288.9 197.9,288.5 198.5,288.2 199.0,287.9 199.5,287.6 200.0,287.4 200.6,287.2 201.1,287.0 201.6,286.9 202.2,286.8 202.7,286.7 203.2,286.6 203.8,286.6 204.3,286.6 204.8,286.6 205.3,286.6 205.9,286.6 206.4,286.6 206.9,286.6 207.5,286.6 208.0,286.6 208.5,286.6 209.0,286.6 209.6,286.6 210.1,286.6 210.6,286.6 211.2,286.6 211.7,286.6 212.2,286.6 212.7,286.6 213.3,286.6 213.8,286.6 214.3,286.6 214.9,286.6 215.4,286.6 215.9,286.6 216.5,286.6 217.0,286.6 217.5,286.6 218.0,286.6 218.6,286.6 219.1,286.6 219.6,286.6 220.2,286.6 220.7,286.6 221.2,286.6 221.7,286.6 222.3,286.6 222.8,286.6 223.3,286.6 223.9,286.6 224.4,286.6 224.9,286.6 225.4,286.6 226.0,286.6 226.5,286.6 227.0,286.6 227.6,286.6 228.1,286.6 228.6,286.6 229.1,286.6 229.7,286.6 230.2,286.6 230.7,286.6 231.3,286.6 231.8,286.6 232.3,286.6 232.9,286.6 233.4,286.6 233.9,286.6 234.4,286.6 235.0,286.6 235.5,286.6 236.0,286.6 236.6,286.6 237.1,286.6 237.6,286.6 238.1,286.6 238.7,286.6 239.2,286.6 239.7,286.6 240.3,286.6 240.8,286.6 241.3,286.6 241.8,286.6 242.4,286.6 242.9,286.6 243.4,286.6 244.0,286.6 244.5,286.6 245.0,286.6 245.6,286.6 246.1,286.6 246.6,286.6 247.1,286.6 247.7,286.6 248.2,286.6 248.7,286.6 249.3,286.6 249.8,286.6 250.3,286.6 250.8,286.6 251.4,286.6 251.9,286.6 252.4,286.6 253.0,286.6 253.5,286.6 254.0,286.6 254.5,286.6 255.1,286.6 255.6,286.6 256.1,286.6 256.7,286.6 257.2,286.6 257.7,286.6 258.3,286.6 258.8,286.6 259.3,286.6 259.8,286.6 260.4,286.6 260.9,286.6 261.4,286.6 262.0,286.6 262.5,286.6 263.0,286.6 263.5,286.6 264.1,286.6 264.6,286.6" fill="none" stroke="#b04a20" stroke-width="1.15" stroke-linejoin="round"/>
<polyline points="26.5,286.6 27.0,286.6 27.6,286.5 28.1,286.5 28.6,286.5 29.1,286.4 29.7,286.2 30.2,286.1 30.7,285.8 31.3,285.5 31.8,285.2 32.3,284.8 32.8,284.3 33.4,283.8 33.9,283.2 34.4,282.5 35.0,281.8 35.5,281.0 36.0,280.1 36.6,279.2 37.1,278.2 37.6,277.2 38.1,276.1 38.7,274.9 39.2,273.7 39.7,272.4 40.3,271.1 40.8,269.7 41.3,268.3 41.8,266.8 42.4,265.3 42.9,263.8 43.4,262.2 44.0,260.6 44.5,259.0 45.0,257.4 45.5,255.7 46.1,254.1 46.6,252.4 47.1,250.8 47.7,249.1 48.2,247.4 48.7,245.8 49.3,244.1 49.8,242.5 50.3,240.8 50.8,239.2 51.4,237.7 51.9,236.1 52.4,234.6 53.0,233.1 53.5,231.6 54.0,230.2 54.5,228.8 55.1,227.4 55.6,226.1 56.1,224.9 56.7,223.7 57.2,222.5 57.7,221.4 58.2,220.3 58.8,219.3 59.3,218.4 59.8,217.5 60.4,216.7 60.9,215.9 61.4,215.2 62.0,214.6 62.5,214.0 63.0,213.4 63.5,213.0 64.1,212.6 64.6,212.2 65.1,212.0 65.7,211.7 66.2,211.6 66.7,211.5 67.2,211.5 67.8,211.5 68.3,211.6 68.8,211.7 69.4,211.9 69.9,212.2 70.4,212.5 70.9,212.9 71.5,213.3 72.0,213.8 72.5,214.4 73.1,214.9 73.6,215.6 74.1,216.3 74.6,217.0 75.2,217.8 75.7,218.6 76.2,219.4 76.8,220.3 77.3,221.3 77.8,222.2 78.4,223.3 78.9,224.3 79.4,225.4 79.9,226.5 80.5,227.6 81.0,228.7 81.5,229.9 82.1,231.1 82.6,232.3 83.1,233.5 83.6,234.8 84.2,236.0 84.7,237.3 85.2,238.5 85.8,239.8 86.3,241.1 86.8,242.4 87.3,243.7 87.9,245.0 88.4,246.3 88.9,247.6 89.5,248.8 90.0,250.1 90.5,251.4 91.1,252.7 91.6,253.9 92.1,255.1 92.6,256.4 93.2,257.6 93.7,258.8 94.2,259.9 94.8,261.1 95.3,262.2 95.8,263.3 96.3,264.4 96.9,265.5 97.4,266.5 97.9,267.6 98.5,268.6 99.0,269.5 99.5,270.5 100.0,271.4 100.6,272.3 101.1,273.1 101.6,274.0 102.2,274.8 102.7,275.6 103.2,276.3 103.8,277.0 104.3,277.7 104.8,278.4 105.3,279.0 105.9,279.6 106.4,280.2 106.9,280.7 107.5,281.2 108.0,281.7 108.5,282.1 109.0,282.6 109.6,283.0 110.1,283.4 110.6,283.7 111.2,284.0 111.7,284.3 112.2,284.6 112.7,284.9 113.3,285.1 113.8,285.3 114.3,285.5 114.9,285.7 115.4,285.8 115.9,285.9 116.4,286.1 117.0,286.2 117.5,286.2 118.0,286.3 118.6,286.4 119.1,286.4 119.6,286.5 120.2,286.5 120.7,286.5 121.2,286.5 121.7,286.6 122.3,286.6 122.8,286.6 123.3,286.6 123.9,286.6 124.4,286.6 124.9,286.6 125.4,286.6 126.0,286.6 126.5,286.6 127.0,286.6 127.6,286.6 128.1,286.7 128.6,286.7 129.1,286.8 129.7,286.8 130.2,286.9 130.7,287.0 131.3,287.1 131.8,287.2 132.3,287.4 132.9,287.5 133.4,287.7 133.9,287.9 134.4,288.1 135.0,288.3 135.5,288.6 136.0,288.8 136.6,289.1 137.1,289.4 137.6,289.8 138.1,290.1 138.7,290.5 139.2,290.9 139.7,291.3 140.3,291.8 140.8,292.2 141.3,292.7 141.8,293.2 142.4,293.8 142.9,294.4 143.4,294.9 144.0,295.5 144.5,296.2 145.0,296.8 145.6,297.5 146.1,298.2 146.6,298.9 147.1,299.7 147.7,300.4 148.2,301.2 148.7,302.0 149.3,302.8 149.8,303.6 150.3,304.5 150.8,305.3 151.4,306.2 151.9,307.1 152.4,308.0 153.0,308.9 153.5,309.8 154.0,310.7 154.5,311.6 155.1,312.5 155.6,313.5 156.1,314.4 156.7,315.4 157.2,316.3 157.7,317.2 158.2,318.1 158.8,319.1 159.3,320.0 159.8,320.9 160.4,321.8 160.9,322.7 161.4,323.6 162.0,324.4 162.5,325.3 163.0,326.1 163.5,326.9 164.1,327.7 164.6,328.4 165.1,329.2 165.7,329.9 166.2,330.6 166.7,331.2 167.2,331.9 167.8,332.5 168.3,333.0 168.8,333.6 169.4,334.1 169.9,334.5 170.4,334.9 170.9,335.3 171.5,335.7 172.0,336.0 172.5,336.2 173.1,336.4 173.6,336.6 174.1,336.7 174.7,336.8 175.2,336.9 175.7,336.9 176.2,336.8 176.8,336.7 177.3,336.5 177.8,336.3 178.4,336.1 178.9,335.8 179.4,335.5 179.9,335.1 180.5,334.6 181.0,334.2 181.5,333.6 182.1,333.1 182.6,332.4 183.1,331.8 183.6,331.1 184.2,330.3 184.7,329.5 185.2,328.7 185.8,327.9 186.3,327.0 186.8,326.0 187.3,325.1 187.9,324.1 188.4,323.0 188.9,322.0 189.5,320.9 190.0,319.8 190.5,318.7 191.1,317.5 191.6,316.4 192.1,315.2 192.6,314.1 193.2,312.9 193.7,311.7 194.2,310.5 194.8,309.3 195.3,308.1 195.8,306.9 196.3,305.8 196.9,304.6 197.4,303.5 197.9,302.4 198.5,301.3 199.0,300.2 199.5,299.1 200.0,298.1 200.6,297.1 201.1,296.2 201.6,295.3 202.2,294.4 202.7,293.6 203.2,292.8 203.8,292.0 204.3,291.3 204.8,290.7 205.3,290.1 205.9,289.6 206.4,289.1 206.9,288.6 207.5,288.2 208.0,287.9 208.5,287.6 209.0,287.3 209.6,287.1 210.1,286.9 210.6,286.8 211.2,286.7 211.7,286.6 212.2,286.6 212.7,286.6 213.3,286.6 213.8,286.6 214.3,286.6 214.9,286.6 215.4,286.6 215.9,286.6 216.5,286.6 217.0,286.6 217.5,286.6 218.0,286.6 218.6,286.6 219.1,286.6 219.6,286.6 220.2,286.6 220.7,286.6 221.2,286.6 221.7,286.6 222.3,286.6 222.8,286.6 223.3,286.6 223.9,286.6 224.4,286.6 224.9,286.6 225.4,286.6 226.0,286.6 226.5,286.6 227.0,286.6 227.6,286.6 228.1,286.6 228.6,286.6 229.1,286.6 229.7,286.6 230.2,286.6 230.7,286.6 231.3,286.6 231.8,286.6 232.3,286.6 232.9,286.6 233.4,286.6 233.9,286.6 234.4,286.6 235.0,286.6 235.5,286.6 236.0,286.6 236.6,286.6 237.1,286.6 237.6,286.6 238.1,286.6 238.7,286.6 239.2,286.6 239.7,286.6 240.3,286.6 240.8,286.6 241.3,286.6 241.8,286.6 242.4,286.6 242.9,286.6 243.4,286.6 244.0,286.6 244.5,286.6 245.0,286.6 245.6,286.6 246.1,286.6 246.6,286.6 247.1,286.6 247.7,286.6 248.2,286.6 248.7,286.6 249.3,286.6 249.8,286.6 250.3,286.6 250.8,286.6 251.4,286.6 251.9,286.6 252.4,286.6 253.0,286.6 253.5,286.6 254.0,286.6 254.5,286.6 255.1,286.6 255.6,286.6 256.1,286.6 256.7,286.6 257.2,286.6 257.7,286.6 258.3,286.6 258.8,286.6 259.3,286.6 259.8,286.6 260.4,286.6 260.9,286.6 261.4,286.6 262.0,286.6 262.5,286.6 263.0,286.6 263.5,286.6 264.1,286.6 264.6,286.6" fill="none" stroke="#ff8fc0" stroke-width="1.15" stroke-linejoin="round"/>
<text x="26.50" y="356.10" text-anchor="middle" class="tk">0</text>
<text x="52.96" y="356.10" text-anchor="middle" class="tk">0.2</text>
<text x="79.41" y="356.10" text-anchor="middle" class="tk">0.4</text>
<text x="105.87" y="356.10" text-anchor="middle" class="tk">0.6</text>
<text x="132.32" y="356.10" text-anchor="middle" class="tk">0.8</text>
<text x="158.78" y="356.10" text-anchor="middle" class="tk">1</text>
<text x="185.23" y="356.10" text-anchor="middle" class="tk">1.2</text>
<text x="211.69" y="356.10" text-anchor="middle" class="tk">1.4</text>
<text x="238.14" y="356.10" text-anchor="middle" class="tk">1.6</text>
<text x="264.60" y="356.10" text-anchor="middle" class="tk">1.8</text>
<text x="23.30" y="349.70" text-anchor="end" class="tk">−2</text>
<text x="23.30" y="334.64" text-anchor="end" class="tk">−1.5</text>
<text x="23.30" y="319.58" text-anchor="end" class="tk">−1</text>
<text x="23.30" y="304.52" text-anchor="end" class="tk">−0.5</text>
<text x="23.30" y="289.46" text-anchor="end" class="tk">0</text>
<text x="23.30" y="274.40" text-anchor="end" class="tk">0.5</text>
<text x="23.30" y="259.34" text-anchor="end" class="tk">1</text>
<text x="23.30" y="244.28" text-anchor="end" class="tk">1.5</text>
<text x="23.30" y="229.22" text-anchor="end" class="tk">2</text>
<text x="23.30" y="214.16" text-anchor="end" class="tk">2.5</text>
<text x="23.30" y="199.10" text-anchor="end" class="tk">3</text>
<text x="146.25" y="365.00" text-anchor="middle" class="lb">Time [s]</text>
<text transform="translate(10.10,272.20) rotate(-90)" text-anchor="middle" class="lb" style="font-size:7.1px">Acceleration [m/s<tspan baseline-shift="super" font-size="4.5">2</tspan>]</text>
<text x="137.50" y="380.20" text-anchor="middle" class="cap">(<tspan style="stroke-width:0.45px">c</tspan>)</text>
<rect x="222.40" y="199.20" width="35.10" height="69.20" fill="#fff" class="lg"/>
<line x1="224.20" y1="204.20" x2="239.70" y2="204.20" stroke="#ffff00" stroke-width="1.4"/>
<text x="240.60" y="206.40" class="tk lt">2-1-2</text>
<line x1="224.20" y1="212.73" x2="239.70" y2="212.73" stroke="#0000ff" stroke-width="1.4"/>
<text x="240.60" y="214.93" class="tk lt">3-1-2</text>
<line x1="224.20" y1="221.26" x2="239.70" y2="221.26" stroke="#ff0000" stroke-width="1.4"/>
<text x="240.60" y="223.46" class="tk lt">2-1-3</text>
<line x1="224.20" y1="229.79" x2="239.70" y2="229.79" stroke="#00ff00" stroke-width="1.4"/>
<text x="240.60" y="231.99" class="tk lt">3-1-3</text>
<line x1="224.20" y1="238.32" x2="239.70" y2="238.32" stroke="#ff00ff" stroke-width="1.4"/>
<text x="240.60" y="240.52" class="tk lt">2-3-2</text>
<line x1="224.20" y1="246.85" x2="239.70" y2="246.85" stroke="#00ffff" stroke-width="1.4"/>
<text x="240.60" y="249.05" class="tk lt">3-3-2</text>
<line x1="224.20" y1="255.38" x2="239.70" y2="255.38" stroke="#b04a20" stroke-width="1.4"/>
<text x="240.60" y="257.58" class="tk lt">2-3-3</text>
<line x1="224.20" y1="263.91" x2="239.70" y2="263.91" stroke="#ff8fc0" stroke-width="1.4"/>
<text x="240.60" y="266.11" class="tk lt">3-3-3</text>
<line x1="332.02" y1="196.00" x2="332.02" y2="347.00" class="gr"/>
<line x1="358.54" y1="196.00" x2="358.54" y2="347.00" class="gr"/>
<line x1="385.07" y1="196.00" x2="385.07" y2="347.00" class="gr"/>
<line x1="411.59" y1="196.00" x2="411.59" y2="347.00" class="gr"/>
<line x1="438.11" y1="196.00" x2="438.11" y2="347.00" class="gr"/>
<line x1="464.63" y1="196.00" x2="464.63" y2="347.00" class="gr"/>
<line x1="491.16" y1="196.00" x2="491.16" y2="347.00" class="gr"/>
<line x1="517.68" y1="196.00" x2="517.68" y2="347.00" class="gr"/>
<line x1="305.50" y1="328.12" x2="544.20" y2="328.12" class="gr"/>
<line x1="305.50" y1="309.25" x2="544.20" y2="309.25" class="gr"/>
<line x1="305.50" y1="290.38" x2="544.20" y2="290.38" class="gr"/>
<line x1="305.50" y1="271.50" x2="544.20" y2="271.50" class="gr"/>
<line x1="305.50" y1="252.62" x2="544.20" y2="252.62" class="gr"/>
<line x1="305.50" y1="233.75" x2="544.20" y2="233.75" class="gr"/>
<line x1="305.50" y1="214.88" x2="544.20" y2="214.88" class="gr"/>
<path d="M332.02,347.00v-2.4M332.02,196.00v2.4" class="tm"/>
<path d="M358.54,347.00v-2.4M358.54,196.00v2.4" class="tm"/>
<path d="M385.07,347.00v-2.4M385.07,196.00v2.4" class="tm"/>
<path d="M411.59,347.00v-2.4M411.59,196.00v2.4" class="tm"/>
<path d="M438.11,347.00v-2.4M438.11,196.00v2.4" class="tm"/>
<path d="M464.63,347.00v-2.4M464.63,196.00v2.4" class="tm"/>
<path d="M491.16,347.00v-2.4M491.16,196.00v2.4" class="tm"/>
<path d="M517.68,347.00v-2.4M517.68,196.00v2.4" class="tm"/>
<path d="M305.50,328.12h2.4M544.20,328.12h-2.4" class="tm"/>
<path d="M305.50,309.25h2.4M544.20,309.25h-2.4" class="tm"/>
<path d="M305.50,290.38h2.4M544.20,290.38h-2.4" class="tm"/>
<path d="M305.50,271.50h2.4M544.20,271.50h-2.4" class="tm"/>
<path d="M305.50,252.62h2.4M544.20,252.62h-2.4" class="tm"/>
<path d="M305.50,233.75h2.4M544.20,233.75h-2.4" class="tm"/>
<path d="M305.50,214.88h2.4M544.20,214.88h-2.4" class="tm"/>
<rect x="305.50" y="196.00" width="238.70" height="151.00" class="ax"/>
<polyline points="305.5,290.3 306.0,289.3 306.6,288.3 307.1,287.4 307.6,286.4 308.2,285.5 308.7,284.6 309.2,283.8 309.7,283.0 310.3,282.2 310.8,281.4 311.3,280.6 311.9,279.9 312.4,279.2 312.9,278.6 313.5,277.9 314.0,277.3 314.5,276.7 315.0,276.2 315.6,275.6 316.1,275.1 316.6,274.6 317.2,274.2 317.7,273.7 318.2,273.3 318.8,272.9 319.3,272.5 319.8,272.2 320.4,271.8 320.9,271.5 321.4,271.2 321.9,271.0 322.5,270.7 323.0,270.5 323.5,270.3 324.1,270.1 324.6,269.9 325.1,269.8 325.7,269.6 326.2,269.5 326.7,269.4 327.2,269.3 327.8,269.2 328.3,269.2 328.8,269.2 329.4,269.1 329.9,269.1 330.4,269.1 331.0,269.2 331.5,269.2 332.0,269.3 332.6,269.3 333.1,269.4 333.6,269.5 334.1,269.6 334.7,269.7 335.2,269.9 335.7,270.0 336.3,270.2 336.8,270.4 337.3,270.5 337.9,270.7 338.4,270.9 338.9,271.2 339.4,271.4 340.0,271.6 340.5,271.9 341.0,272.1 341.6,272.4 342.1,272.7 342.6,272.9 343.2,273.2 343.7,273.5 344.2,273.8 344.8,274.2 345.3,274.5 345.8,274.8 346.3,275.2 346.9,275.5 347.4,275.9 347.9,276.2 348.5,276.6 349.0,276.9 349.5,277.3 350.1,277.7 350.6,278.1 351.1,278.5 351.6,278.9 352.2,279.3 352.7,279.7 353.2,280.1 353.8,280.5 354.3,280.9 354.8,281.4 355.4,281.8 355.9,282.2 356.4,282.6 357.0,283.1 357.5,283.5 358.0,283.9 358.5,284.4 359.1,284.8 359.6,285.3 360.1,285.7 360.7,286.2 361.2,286.6 361.7,287.1 362.3,287.5 362.8,288.0 363.3,288.4 363.8,288.9 364.4,289.3 364.9,289.8 365.4,290.2 366.0,290.7 366.5,291.1 367.0,291.6 367.6,292.0 368.1,292.5 368.6,292.9 369.2,293.4 369.7,293.8 370.2,294.3 370.7,294.7 371.3,295.1 371.8,295.6 372.3,296.0 372.9,296.4 373.4,296.9 373.9,297.3 374.5,297.7 375.0,298.1 375.5,298.6 376.0,299.0 376.6,299.4 377.1,299.8 377.6,300.2 378.2,300.6 378.7,301.0 379.2,301.4 379.8,301.8 380.3,302.1 380.8,302.5 381.4,302.9 381.9,303.3 382.4,303.6 382.9,304.0 383.5,304.4 384.0,304.7 384.5,305.1 385.1,305.4 385.6,305.7 386.1,306.1 386.7,306.4 387.2,306.7 387.7,307.0 388.2,307.3 388.8,307.6 389.3,307.9 389.8,308.2 390.4,308.5 390.9,308.8 391.4,309.0 392.0,309.3 392.5,309.6 393.0,309.8 393.6,310.1 394.1,310.3 394.6,310.5 395.1,310.8 395.7,311.0 396.2,311.2 396.7,311.4 397.3,311.6 397.8,311.8 398.3,312.0 398.9,312.2 399.4,312.3 399.9,312.5 400.4,312.7 401.0,312.8 401.5,313.0 402.0,313.1 402.6,313.2 403.1,313.3 403.6,313.5 404.2,313.6 404.7,313.7 405.2,313.8 405.8,313.8 406.3,313.9 406.8,314.0 407.3,314.0 407.9,314.1 408.4,314.2 408.9,314.2 409.5,314.2 410.0,314.2 410.5,314.3 411.1,314.3 411.6,314.3 412.1,314.3 412.6,314.3 413.2,314.2 413.7,314.2 414.2,314.2 414.8,314.1 415.3,314.1 415.8,314.0 416.4,314.0 416.9,313.9 417.4,313.8 418.0,313.7 418.5,313.6 419.0,313.5 419.5,313.4 420.1,313.3 420.6,313.2 421.1,313.0 421.7,312.9 422.2,312.8 422.7,312.6 423.3,312.4 423.8,312.3 424.3,312.1 424.9,311.9 425.4,311.7 425.9,311.5 426.4,311.3 427.0,311.1 427.5,310.9 428.0,310.7 428.6,310.5 429.1,310.2 429.6,310.0 430.2,309.8 430.7,309.5 431.2,309.3 431.7,309.0 432.3,308.7 432.8,308.4 433.3,308.2 433.9,307.9 434.4,307.6 434.9,307.3 435.5,307.0 436.0,306.7 436.5,306.4 437.1,306.0 437.6,305.7 438.1,305.4 438.6,305.1 439.2,304.7 439.7,304.4 440.2,304.0 440.8,303.7 441.3,303.3 441.8,303.0 442.4,302.6 442.9,302.2 443.4,301.9 443.9,301.5 444.5,301.1 445.0,300.7 445.5,300.3 446.1,299.9 446.6,299.5 447.1,299.1 447.7,298.8 448.2,298.3 448.7,297.9 449.3,297.5 449.8,297.1 450.3,296.7 450.8,296.3 451.4,295.9 451.9,295.5 452.4,295.1 453.0,294.6 453.5,294.2 454.0,293.8 454.6,293.4 455.1,293.0 455.6,292.5 456.1,292.1 456.7,291.7 457.2,291.3 457.7,290.8 458.3,290.4 458.8,290.0 459.3,289.6 459.9,289.2 460.4,288.7 460.9,288.3 461.5,287.9 462.0,287.5 462.5,287.1 463.0,286.7 463.6,286.3 464.1,285.8 464.6,285.4 465.2,285.0 465.7,284.6 466.2,284.2 466.8,283.9 467.3,283.5 467.8,283.1 468.3,282.7 468.9,282.3 469.4,281.9 469.9,281.6 470.5,281.2 471.0,280.9 471.5,280.5 472.1,280.2 472.6,279.8 473.1,279.5 473.7,279.2 474.2,278.8 474.7,278.5 475.2,278.2 475.8,277.9 476.3,277.6 476.8,277.3 477.4,277.1 477.9,276.8 478.4,276.5 479.0,276.3 479.5,276.0 480.0,275.8 480.5,275.6 481.1,275.4 481.6,275.2 482.1,275.0 482.7,274.8 483.2,274.6 483.7,274.4 484.3,274.3 484.8,274.1 485.3,274.0 485.9,273.9 486.4,273.8 486.9,273.7 487.4,273.6 488.0,273.6 488.5,273.5 489.0,273.5 489.6,273.5 490.1,273.5 490.6,273.5 491.2,273.5 491.7,273.5 492.2,273.6 492.7,273.6 493.3,273.7 493.8,273.8 494.3,274.0 494.9,274.1 495.4,274.2 495.9,274.4 496.5,274.6 497.0,274.8 497.5,275.0 498.1,275.3 498.6,275.5 499.1,275.8 499.6,276.1 500.2,276.5 500.7,276.8 501.2,277.2 501.8,277.6 502.3,278.0 502.8,278.4 503.4,278.9 503.9,279.3 504.4,279.8 504.9,280.4 505.5,280.9 506.0,281.5 506.5,282.1 507.1,282.7 507.6,283.4 508.1,284.0 508.7,284.7 509.2,285.5 509.7,286.2 510.3,287.0 510.8,287.8 511.3,288.6 511.8,289.5 512.4,290.3 512.9,290.4 513.4,290.4 514.0,290.4 514.5,290.4 515.0,290.4 515.6,290.4 516.1,290.4 516.6,290.4 517.1,290.4 517.7,290.4 518.2,290.4 518.7,290.4 519.3,290.4 519.8,290.4 520.3,290.4 520.9,290.4 521.4,290.4 521.9,290.4 522.5,290.4 523.0,290.4 523.5,290.4 524.0,290.4 524.6,290.4 525.1,290.4 525.6,290.4 526.2,290.4 526.7,290.4 527.2,290.4 527.8,290.4 528.3,290.4 528.8,290.4 529.3,290.4 529.9,290.4 530.4,290.4 530.9,290.4 531.5,290.4 532.0,290.4 532.5,290.4 533.1,290.4 533.6,290.4 534.1,290.4 534.7,290.4 535.2,290.4 535.7,290.4 536.2,290.4 536.8,290.4 537.3,290.4 537.8,290.4 538.4,290.4 538.9,290.4 539.4,290.4 540.0,290.4 540.5,290.4 541.0,290.4 541.5,290.4 542.1,290.4 542.6,290.4 543.1,290.4 543.7,290.4 544.2,290.4" fill="none" stroke="#ffff00" stroke-width="1.15" stroke-linejoin="round"/>
<polyline points="305.5,290.4 306.0,290.4 306.6,290.3 307.1,290.3 307.6,290.3 308.2,290.2 308.7,290.1 309.2,290.0 309.7,289.9 310.3,289.8 310.8,289.7 311.3,289.6 311.9,289.4 312.4,289.3 312.9,289.1 313.5,288.9 314.0,288.7 314.5,288.6 315.0,288.4 315.6,288.2 316.1,288.0 316.6,287.7 317.2,287.5 317.7,287.3 318.2,287.1 318.8,286.8 319.3,286.6 319.8,286.3 320.4,286.1 320.9,285.9 321.4,285.6 321.9,285.3 322.5,285.1 323.0,284.8 323.5,284.6 324.1,284.3 324.6,284.1 325.1,283.8 325.7,283.5 326.2,283.3 326.7,283.0 327.2,282.7 327.8,282.5 328.3,282.2 328.8,282.0 329.4,281.7 329.9,281.5 330.4,281.2 331.0,281.0 331.5,280.7 332.0,280.5 332.6,280.2 333.1,280.0 333.6,279.7 334.1,279.5 334.7,279.3 335.2,279.1 335.7,278.8 336.3,278.6 336.8,278.4 337.3,278.2 337.9,278.0 338.4,277.8 338.9,277.6 339.4,277.4 340.0,277.3 340.5,277.1 341.0,276.9 341.6,276.7 342.1,276.6 342.6,276.4 343.2,276.3 343.7,276.2 344.2,276.0 344.8,275.9 345.3,275.8 345.8,275.7 346.3,275.6 346.9,275.5 347.4,275.4 347.9,275.3 348.5,275.2 349.0,275.1 349.5,275.1 350.1,275.0 350.6,275.0 351.1,274.9 351.6,274.9 352.2,274.9 352.7,274.8 353.2,274.8 353.8,274.8 354.3,274.8 354.8,274.8 355.4,274.9 355.9,274.9 356.4,274.9 357.0,275.0 357.5,275.0 358.0,275.1 358.5,275.1 359.1,275.2 359.6,275.3 360.1,275.3 360.7,275.4 361.2,275.5 361.7,275.6 362.3,275.8 362.8,275.9 363.3,276.0 363.8,276.1 364.4,276.3 364.9,276.4 365.4,276.6 366.0,276.8 366.5,276.9 367.0,277.1 367.6,277.3 368.1,277.5 368.6,277.7 369.2,277.9 369.7,278.1 370.2,278.3 370.7,278.6 371.3,278.8 371.8,279.0 372.3,279.3 372.9,279.5 373.4,279.8 373.9,280.0 374.5,280.3 375.0,280.6 375.5,280.9 376.0,281.1 376.6,281.4 377.1,281.7 377.6,282.0 378.2,282.3 378.7,282.6 379.2,283.0 379.8,283.3 380.3,283.6 380.8,283.9 381.4,284.3 381.9,284.6 382.4,284.9 382.9,285.3 383.5,285.6 384.0,286.0 384.5,286.4 385.1,286.7 385.6,287.1 386.1,287.4 386.7,287.8 387.2,288.2 387.7,288.6 388.2,288.9 388.8,289.3 389.3,289.7 389.8,290.1 390.4,290.5 390.9,290.9 391.4,291.3 392.0,291.7 392.5,292.1 393.0,292.5 393.6,292.9 394.1,293.3 394.6,293.7 395.1,294.1 395.7,294.5 396.2,294.9 396.7,295.3 397.3,295.7 397.8,296.1 398.3,296.5 398.9,296.9 399.4,297.3 399.9,297.7 400.4,298.1 401.0,298.5 401.5,298.9 402.0,299.3 402.6,299.7 403.1,300.1 403.6,300.5 404.2,300.8 404.7,301.2 405.2,301.6 405.8,302.0 406.3,302.4 406.8,302.8 407.3,303.1 407.9,303.5 408.4,303.9 408.9,304.3 409.5,304.6 410.0,305.0 410.5,305.3 411.1,305.7 411.6,306.1 412.1,306.4 412.6,306.7 413.2,307.1 413.7,307.4 414.2,307.7 414.8,308.1 415.3,308.4 415.8,308.7 416.4,309.0 416.9,309.3 417.4,309.6 418.0,309.9 418.5,310.2 419.0,310.5 419.5,310.8 420.1,311.0 420.6,311.3 421.1,311.5 421.7,311.8 422.2,312.0 422.7,312.3 423.3,312.5 423.8,312.7 424.3,312.9 424.9,313.2 425.4,313.4 425.9,313.6 426.4,313.7 427.0,313.9 427.5,314.1 428.0,314.3 428.6,314.4 429.1,314.6 429.6,314.7 430.2,314.8 430.7,315.0 431.2,315.1 431.7,315.2 432.3,315.3 432.8,315.4 433.3,315.5 433.9,315.5 434.4,315.6 434.9,315.7 435.5,315.7 436.0,315.7 436.5,315.8 437.1,315.8 437.6,315.8 438.1,315.8 438.6,315.8 439.2,315.8 439.7,315.8 440.2,315.7 440.8,315.7 441.3,315.6 441.8,315.6 442.4,315.5 442.9,315.4 443.4,315.3 443.9,315.2 444.5,315.1 445.0,315.0 445.5,314.8 446.1,314.7 446.6,314.6 447.1,314.4 447.7,314.2 448.2,314.0 448.7,313.9 449.3,313.7 449.8,313.5 450.3,313.2 450.8,313.0 451.4,312.8 451.9,312.5 452.4,312.3 453.0,312.0 453.5,311.7 454.0,311.5 454.6,311.2 455.1,310.9 455.6,310.6 456.1,310.2 456.7,309.9 457.2,309.6 457.7,309.2 458.3,308.9 458.8,308.5 459.3,308.1 459.9,307.8 460.4,307.4 460.9,307.0 461.5,306.6 462.0,306.2 462.5,305.7 463.0,305.3 463.6,304.9 464.1,304.4 464.6,304.0 465.2,303.5 465.7,303.1 466.2,302.6 466.8,302.1 467.3,301.7 467.8,301.2 468.3,300.7 468.9,300.2 469.4,299.7 469.9,299.2 470.5,298.6 471.0,298.1 471.5,297.6 472.1,297.1 472.6,296.5 473.1,296.0 473.7,295.5 474.2,294.9 474.7,294.4 475.2,293.8 475.8,293.3 476.3,292.7 476.8,292.2 477.4,291.6 477.9,291.0 478.4,290.5 479.0,289.9 479.5,289.3 480.0,288.8 480.5,288.2 481.1,287.6 481.6,287.1 482.1,286.5 482.7,285.9 483.2,285.4 483.7,284.8 484.3,284.3 484.8,283.7 485.3,283.2 485.9,282.6 486.4,282.1 486.9,281.5 487.4,281.0 488.0,280.5 488.5,279.9 489.0,279.4 489.6,278.9 490.1,278.4 490.6,277.9 491.2,277.4 491.7,276.9 492.2,276.5 492.7,276.0 493.3,275.5 493.8,275.1 494.3,274.7 494.9,274.2 495.4,273.8 495.9,273.4 496.5,273.0 497.0,272.7 497.5,272.3 498.1,272.0 498.6,271.6 499.1,271.3 499.6,271.0 500.2,270.7 500.7,270.5 501.2,270.2 501.8,270.0 502.3,269.8 502.8,269.6 503.4,269.4 503.9,269.3 504.4,269.2 504.9,269.1 505.5,269.0 506.0,268.9 506.5,268.9 507.1,268.9 507.6,268.9 508.1,268.9 508.7,269.0 509.2,269.1 509.7,269.2 510.3,269.4 510.8,269.6 511.3,269.8 511.8,270.0 512.4,270.3 512.9,270.6 513.4,271.0 514.0,271.4 514.5,271.8 515.0,272.2 515.6,272.7 516.1,273.3 516.6,273.8 517.1,274.5 517.7,275.1 518.2,275.8 518.7,276.5 519.3,277.3 519.8,278.1 520.3,279.0 520.9,279.9 521.4,280.9 521.9,281.9 522.5,282.9 523.0,284.0 523.5,285.2 524.0,286.4 524.6,287.7 525.1,289.0 525.6,290.3 526.2,290.4 526.7,290.4 527.2,290.4 527.8,290.4 528.3,290.4 528.8,290.4 529.3,290.4 529.9,290.4 530.4,290.4 530.9,290.4 531.5,290.4 532.0,290.4 532.5,290.4 533.1,290.4 533.6,290.4 534.1,290.4 534.7,290.4 535.2,290.4 535.7,290.4 536.2,290.4 536.8,290.4 537.3,290.4 537.8,290.4 538.4,290.4 538.9,290.4 539.4,290.4 540.0,290.4 540.5,290.4 541.0,290.4 541.5,290.4 542.1,290.4 542.6,290.4 543.1,290.4 543.7,290.4 544.2,290.4" fill="none" stroke="#0000ff" stroke-width="1.15" stroke-linejoin="round"/>
<polyline points="305.5,290.2 306.0,288.4 306.6,286.5 307.1,284.7 307.6,283.0 308.2,281.3 308.7,279.7 309.2,278.2 309.7,276.8 310.3,275.4 310.8,274.1 311.3,272.8 311.9,271.7 312.4,270.5 312.9,269.5 313.5,268.5 314.0,267.6 314.5,266.7 315.0,265.9 315.6,265.1 316.1,264.4 316.6,263.7 317.2,263.1 317.7,262.6 318.2,262.1 318.8,261.6 319.3,261.2 319.8,260.8 320.4,260.5 320.9,260.2 321.4,260.0 321.9,259.8 322.5,259.7 323.0,259.5 323.5,259.5 324.1,259.4 324.6,259.4 325.1,259.5 325.7,259.5 326.2,259.6 326.7,259.7 327.2,259.9 327.8,260.1 328.3,260.3 328.8,260.6 329.4,260.8 329.9,261.1 330.4,261.5 331.0,261.8 331.5,262.2 332.0,262.6 332.6,263.0 333.1,263.5 333.6,263.9 334.1,264.4 334.7,264.9 335.2,265.4 335.7,266.0 336.3,266.5 336.8,267.1 337.3,267.7 337.9,268.3 338.4,268.9 338.9,269.5 339.4,270.1 340.0,270.8 340.5,271.4 341.0,272.1 341.6,272.8 342.1,273.5 342.6,274.2 343.2,274.9 343.7,275.6 344.2,276.3 344.8,277.0 345.3,277.7 345.8,278.5 346.3,279.2 346.9,279.9 347.4,280.7 347.9,281.4 348.5,282.2 349.0,282.9 349.5,283.7 350.1,284.4 350.6,285.2 351.1,285.9 351.6,286.7 352.2,287.4 352.7,288.1 353.2,288.9 353.8,289.6 354.3,290.4 354.8,291.1 355.4,291.8 355.9,292.6 356.4,293.3 357.0,294.0 357.5,294.7 358.0,295.4 358.5,296.1 359.1,296.8 359.6,297.5 360.1,298.2 360.7,298.9 361.2,299.5 361.7,300.2 362.3,300.8 362.8,301.5 363.3,302.1 363.8,302.7 364.4,303.4 364.9,304.0 365.4,304.6 366.0,305.2 366.5,305.7 367.0,306.3 367.6,306.9 368.1,307.4 368.6,307.9 369.2,308.5 369.7,309.0 370.2,309.5 370.7,310.0 371.3,310.5 371.8,310.9 372.3,311.4 372.9,311.9 373.4,312.3 373.9,312.7 374.5,313.1 375.0,313.5 375.5,313.9 376.0,314.3 376.6,314.7 377.1,315.0 377.6,315.3 378.2,315.7 378.7,316.0 379.2,316.3 379.8,316.6 380.3,316.9 380.8,317.1 381.4,317.4 381.9,317.6 382.4,317.8 382.9,318.0 383.5,318.2 384.0,318.4 384.5,318.6 385.1,318.8 385.6,318.9 386.1,319.0 386.7,319.2 387.2,319.3 387.7,319.4 388.2,319.5 388.8,319.5 389.3,319.6 389.8,319.6 390.4,319.7 390.9,319.7 391.4,319.7 392.0,319.7 392.5,319.7 393.0,319.7 393.6,319.6 394.1,319.6 394.6,319.5 395.1,319.5 395.7,319.4 396.2,319.3 396.7,319.2 397.3,319.1 397.8,318.9 398.3,318.8 398.9,318.6 399.4,318.5 399.9,318.3 400.4,318.1 401.0,318.0 401.5,317.8 402.0,317.5 402.6,317.3 403.1,317.1 403.6,316.9 404.2,316.6 404.7,316.4 405.2,316.1 405.8,315.8 406.3,315.5 406.8,315.2 407.3,314.9 407.9,314.6 408.4,314.3 408.9,314.0 409.5,313.7 410.0,313.3 410.5,313.0 411.1,312.6 411.6,312.3 412.1,311.9 412.6,311.5 413.2,311.2 413.7,310.8 414.2,310.4 414.8,310.0 415.3,309.6 415.8,309.2 416.4,308.8 416.9,308.4 417.4,308.0 418.0,307.5 418.5,307.1 419.0,306.7 419.5,306.2 420.1,305.8 420.6,305.4 421.1,304.9 421.7,304.5 422.2,304.0 422.7,303.6 423.3,303.1 423.8,302.7 424.3,302.2 424.9,301.7 425.4,301.3 425.9,300.8 426.4,300.4 427.0,299.9 427.5,299.4 428.0,299.0 428.6,298.5 429.1,298.0 429.6,297.6 430.2,297.1 430.7,296.7 431.2,296.2 431.7,295.7 432.3,295.3 432.8,294.8 433.3,294.4 433.9,293.9 434.4,293.5 434.9,293.0 435.5,292.6 436.0,292.1 436.5,291.7 437.1,291.2 437.6,290.8 438.1,290.4 438.6,289.9 439.2,289.5 439.7,289.1 440.2,288.7 440.8,288.3 441.3,287.9 441.8,287.5 442.4,287.1 442.9,286.7 443.4,286.3 443.9,285.9 444.5,285.5 445.0,285.2 445.5,284.8 446.1,284.5 446.6,284.1 447.1,283.8 447.7,283.4 448.2,283.1 448.7,282.8 449.3,282.5 449.8,282.2 450.3,281.9 450.8,281.6 451.4,281.3 451.9,281.0 452.4,280.7 453.0,280.5 453.5,280.2 454.0,280.0 454.6,279.7 455.1,279.5 455.6,279.3 456.1,279.0 456.7,278.8 457.2,278.6 457.7,278.4 458.3,278.3 458.8,278.1 459.3,277.9 459.9,277.8 460.4,277.6 460.9,277.5 461.5,277.4 462.0,277.3 462.5,277.1 463.0,277.0 463.6,277.0 464.1,276.9 464.6,276.8 465.2,276.7 465.7,276.7 466.2,276.6 466.8,276.6 467.3,276.6 467.8,276.6 468.3,276.6 468.9,276.6 469.4,276.6 469.9,276.6 470.5,276.6 471.0,276.7 471.5,276.7 472.1,276.8 472.6,276.8 473.1,276.9 473.7,277.0 474.2,277.1 474.7,277.2 475.2,277.3 475.8,277.4 476.3,277.5 476.8,277.6 477.4,277.8 477.9,277.9 478.4,278.1 479.0,278.2 479.5,278.4 480.0,278.6 480.5,278.8 481.1,278.9 481.6,279.1 482.1,279.3 482.7,279.5 483.2,279.7 483.7,280.0 484.3,280.2 484.8,280.4 485.3,280.6 485.9,280.9 486.4,281.1 486.9,281.4 487.4,281.6 488.0,281.9 488.5,282.1 489.0,282.4 489.6,282.6 490.1,282.9 490.6,283.2 491.2,283.4 491.7,283.7 492.2,284.0 492.7,284.2 493.3,284.5 493.8,284.8 494.3,285.0 494.9,285.3 495.4,285.6 495.9,285.8 496.5,286.1 497.0,286.4 497.5,286.6 498.1,286.9 498.6,287.1 499.1,287.3 499.6,287.6 500.2,287.8 500.7,288.0 501.2,288.3 501.8,288.5 502.3,288.7 502.8,288.9 503.4,289.1 503.9,289.2 504.4,289.4 504.9,289.5 505.5,289.7 506.0,289.8 506.5,289.9 507.1,290.1 507.6,290.1 508.1,290.2 508.7,290.3 509.2,290.3 509.7,290.4 510.3,290.4 510.8,290.4 511.3,290.4 511.8,290.4 512.4,290.4 512.9,290.4 513.4,290.4 514.0,290.4 514.5,290.4 515.0,290.4 515.6,290.4 516.1,290.4 516.6,290.4 517.1,290.4 517.7,290.4 518.2,290.4 518.7,290.4 519.3,290.4 519.8,290.4 520.3,290.4 520.9,290.4 521.4,290.4 521.9,290.4 522.5,290.4 523.0,290.4 523.5,290.4 524.0,290.4 524.6,290.4 525.1,290.4 525.6,290.4 526.2,290.4 526.7,290.4 527.2,290.4 527.8,290.4 528.3,290.4 528.8,290.4 529.3,290.4 529.9,290.4 530.4,290.4 530.9,290.4 531.5,290.4 532.0,290.4 532.5,290.4 533.1,290.4 533.6,290.4 534.1,290.4 534.7,290.4 535.2,290.4 535.7,290.4 536.2,290.4 536.8,290.4 537.3,290.4 537.8,290.4 538.4,290.4 538.9,290.4 539.4,290.4 540.0,290.4 540.5,290.4 541.0,290.4 541.5,290.4 542.1,290.4 542.6,290.4 543.1,290.4 543.7,290.4 544.2,290.4" fill="none" stroke="#ff0000" stroke-width="1.15" stroke-linejoin="round"/>
<polyline points="305.5,290.4 306.0,290.4 306.6,290.3 307.1,290.2 307.6,290.1 308.2,290.0 308.7,289.8 309.2,289.6 309.7,289.4 310.3,289.2 310.8,288.9 311.3,288.6 311.9,288.3 312.4,288.0 312.9,287.7 313.5,287.3 314.0,287.0 314.5,286.6 315.0,286.2 315.6,285.8 316.1,285.4 316.6,285.0 317.2,284.6 317.7,284.2 318.2,283.8 318.8,283.3 319.3,282.9 319.8,282.4 320.4,282.0 320.9,281.6 321.4,281.1 321.9,280.7 322.5,280.2 323.0,279.8 323.5,279.3 324.1,278.9 324.6,278.5 325.1,278.1 325.7,277.6 326.2,277.2 326.7,276.8 327.2,276.4 327.8,276.0 328.3,275.6 328.8,275.3 329.4,274.9 329.9,274.5 330.4,274.2 331.0,273.8 331.5,273.5 332.0,273.2 332.6,272.9 333.1,272.6 333.6,272.3 334.1,272.0 334.7,271.8 335.2,271.5 335.7,271.3 336.3,271.0 336.8,270.8 337.3,270.6 337.9,270.4 338.4,270.3 338.9,270.1 339.4,270.0 340.0,269.9 340.5,269.7 341.0,269.6 341.6,269.6 342.1,269.5 342.6,269.4 343.2,269.4 343.7,269.4 344.2,269.3 344.8,269.3 345.3,269.4 345.8,269.4 346.3,269.4 346.9,269.5 347.4,269.6 347.9,269.7 348.5,269.8 349.0,269.9 349.5,270.0 350.1,270.1 350.6,270.3 351.1,270.5 351.6,270.7 352.2,270.9 352.7,271.1 353.2,271.3 353.8,271.5 354.3,271.8 354.8,272.0 355.4,272.3 355.9,272.6 356.4,272.9 357.0,273.2 357.5,273.5 358.0,273.9 358.5,274.2 359.1,274.6 359.6,274.9 360.1,275.3 360.7,275.7 361.2,276.1 361.7,276.5 362.3,276.9 362.8,277.3 363.3,277.8 363.8,278.2 364.4,278.7 364.9,279.1 365.4,279.6 366.0,280.1 366.5,280.6 367.0,281.1 367.6,281.6 368.1,282.1 368.6,282.6 369.2,283.1 369.7,283.6 370.2,284.1 370.7,284.7 371.3,285.2 371.8,285.7 372.3,286.3 372.9,286.8 373.4,287.4 373.9,287.9 374.5,288.5 375.0,289.0 375.5,289.6 376.0,290.2 376.6,290.7 377.1,291.3 377.6,291.9 378.2,292.4 378.7,293.0 379.2,293.6 379.8,294.2 380.3,294.7 380.8,295.3 381.4,295.9 381.9,296.4 382.4,297.0 382.9,297.6 383.5,298.1 384.0,298.7 384.5,299.2 385.1,299.8 385.6,300.3 386.1,300.9 386.7,301.4 387.2,302.0 387.7,302.5 388.2,303.0 388.8,303.5 389.3,304.1 389.8,304.6 390.4,305.1 390.9,305.6 391.4,306.1 392.0,306.6 392.5,307.1 393.0,307.5 393.6,308.0 394.1,308.5 394.6,308.9 395.1,309.4 395.7,309.8 396.2,310.2 396.7,310.7 397.3,311.1 397.8,311.5 398.3,311.9 398.9,312.3 399.4,312.6 399.9,313.0 400.4,313.4 401.0,313.7 401.5,314.0 402.0,314.4 402.6,314.7 403.1,315.0 403.6,315.3 404.2,315.6 404.7,315.9 405.2,316.1 405.8,316.4 406.3,316.6 406.8,316.9 407.3,317.1 407.9,317.3 408.4,317.5 408.9,317.7 409.5,317.9 410.0,318.0 410.5,318.2 411.1,318.3 411.6,318.4 412.1,318.5 412.6,318.6 413.2,318.7 413.7,318.8 414.2,318.9 414.8,318.9 415.3,319.0 415.8,319.0 416.4,319.0 416.9,319.0 417.4,319.0 418.0,319.0 418.5,319.0 419.0,318.9 419.5,318.9 420.1,318.8 420.6,318.7 421.1,318.7 421.7,318.6 422.2,318.4 422.7,318.3 423.3,318.2 423.8,318.0 424.3,317.9 424.9,317.7 425.4,317.5 425.9,317.3 426.4,317.1 427.0,316.9 427.5,316.7 428.0,316.4 428.6,316.2 429.1,315.9 429.6,315.6 430.2,315.4 430.7,315.1 431.2,314.8 431.7,314.5 432.3,314.1 432.8,313.8 433.3,313.5 433.9,313.1 434.4,312.8 434.9,312.4 435.5,312.0 436.0,311.6 436.5,311.2 437.1,310.8 437.6,310.4 438.1,310.0 438.6,309.6 439.2,309.2 439.7,308.7 440.2,308.3 440.8,307.8 441.3,307.4 441.8,306.9 442.4,306.4 442.9,306.0 443.4,305.5 443.9,305.0 444.5,304.5 445.0,304.0 445.5,303.5 446.1,303.0 446.6,302.5 447.1,302.0 447.7,301.5 448.2,301.0 448.7,300.5 449.3,299.9 449.8,299.4 450.3,298.9 450.8,298.4 451.4,297.8 451.9,297.3 452.4,296.8 453.0,296.3 453.5,295.7 454.0,295.2 454.6,294.7 455.1,294.1 455.6,293.6 456.1,293.1 456.7,292.6 457.2,292.0 457.7,291.5 458.3,291.0 458.8,290.5 459.3,290.0 459.9,289.5 460.4,289.0 460.9,288.5 461.5,288.0 462.0,287.5 462.5,287.0 463.0,286.5 463.6,286.0 464.1,285.5 464.6,285.1 465.2,284.6 465.7,284.2 466.2,283.7 466.8,283.3 467.3,282.8 467.8,282.4 468.3,282.0 468.9,281.6 469.4,281.2 469.9,280.8 470.5,280.4 471.0,280.0 471.5,279.7 472.1,279.3 472.6,279.0 473.1,278.7 473.7,278.3 474.2,278.0 474.7,277.7 475.2,277.4 475.8,277.1 476.3,276.9 476.8,276.6 477.4,276.4 477.9,276.1 478.4,275.9 479.0,275.7 479.5,275.5 480.0,275.3 480.5,275.1 481.1,275.0 481.6,274.8 482.1,274.7 482.7,274.6 483.2,274.4 483.7,274.3 484.3,274.3 484.8,274.2 485.3,274.1 485.9,274.1 486.4,274.1 486.9,274.0 487.4,274.0 488.0,274.0 488.5,274.1 489.0,274.1 489.6,274.1 490.1,274.2 490.6,274.3 491.2,274.4 491.7,274.5 492.2,274.6 492.7,274.7 493.3,274.8 493.8,275.0 494.3,275.2 494.9,275.3 495.4,275.5 495.9,275.7 496.5,275.9 497.0,276.2 497.5,276.4 498.1,276.6 498.6,276.9 499.1,277.1 499.6,277.4 500.2,277.7 500.7,278.0 501.2,278.3 501.8,278.6 502.3,278.9 502.8,279.2 503.4,279.6 503.9,279.9 504.4,280.2 504.9,280.6 505.5,280.9 506.0,281.3 506.5,281.7 507.1,282.0 507.6,282.4 508.1,282.8 508.7,283.1 509.2,283.5 509.7,283.9 510.3,284.2 510.8,284.6 511.3,285.0 511.8,285.3 512.4,285.7 512.9,286.0 513.4,286.4 514.0,286.7 514.5,287.0 515.0,287.4 515.6,287.7 516.1,288.0 516.6,288.3 517.1,288.5 517.7,288.8 518.2,289.0 518.7,289.3 519.3,289.5 519.8,289.7 520.3,289.8 520.9,290.0 521.4,290.1 521.9,290.2 522.5,290.3 523.0,290.4 523.5,290.4 524.0,290.4 524.6,290.4 525.1,290.4 525.6,290.4 526.2,290.4 526.7,290.4 527.2,290.4 527.8,290.4 528.3,290.4 528.8,290.4 529.3,290.4 529.9,290.4 530.4,290.4 530.9,290.4 531.5,290.4 532.0,290.4 532.5,290.4 533.1,290.4 533.6,290.4 534.1,290.4 534.7,290.4 535.2,290.4 535.7,290.4 536.2,290.4 536.8,290.4 537.3,290.4 537.8,290.4 538.4,290.4 538.9,290.4 539.4,290.4 540.0,290.4 540.5,290.4 541.0,290.4 541.5,290.4 542.1,290.4 542.6,290.4 543.1,290.4 543.7,290.4 544.2,290.4" fill="none" stroke="#00ff00" stroke-width="1.15" stroke-linejoin="round"/>
<polyline points="305.5,289.9 306.0,283.7 306.6,277.4 307.1,271.6 307.6,266.2 308.2,261.3 308.7,256.7 309.2,252.6 309.7,248.8 310.3,245.3 310.8,242.2 311.3,239.5 311.9,237.0 312.4,234.8 312.9,232.9 313.5,231.3 314.0,230.0 314.5,228.9 315.0,228.0 315.6,227.4 316.1,227.0 316.6,226.8 317.2,226.8 317.7,226.9 318.2,227.3 318.8,227.8 319.3,228.4 319.8,229.2 320.4,230.1 320.9,231.2 321.4,232.4 321.9,233.6 322.5,235.0 323.0,236.5 323.5,238.1 324.1,239.7 324.6,241.5 325.1,243.3 325.7,245.1 326.2,247.0 326.7,249.0 327.2,251.0 327.8,253.0 328.3,255.1 328.8,257.2 329.4,259.3 329.9,261.4 330.4,263.5 331.0,265.7 331.5,267.8 332.0,270.0 332.6,272.1 333.1,274.3 333.6,276.4 334.1,278.5 334.7,280.6 335.2,282.6 335.7,284.7 336.3,286.7 336.8,288.7 337.3,290.6 337.9,292.5 338.4,294.4 338.9,296.2 339.4,298.0 340.0,299.8 340.5,301.5 341.0,303.2 341.6,304.8 342.1,306.4 342.6,307.9 343.2,309.4 343.7,310.8 344.2,312.1 344.8,313.5 345.3,314.7 345.8,315.9 346.3,317.1 346.9,318.2 347.4,319.2 347.9,320.2 348.5,321.1 349.0,322.0 349.5,322.8 350.1,323.6 350.6,324.3 351.1,325.0 351.6,325.6 352.2,326.1 352.7,326.6 353.2,327.0 353.8,327.4 354.3,327.8 354.8,328.1 355.4,328.3 355.9,328.5 356.4,328.6 357.0,328.7 357.5,328.8 358.0,328.8 358.5,328.7 359.1,328.6 359.6,328.5 360.1,328.3 360.7,328.1 361.2,327.9 361.7,327.6 362.3,327.3 362.8,326.9 363.3,326.5 363.8,326.1 364.4,325.6 364.9,325.2 365.4,324.7 366.0,324.1 366.5,323.6 367.0,323.0 367.6,322.4 368.1,321.7 368.6,321.1 369.2,320.4 369.7,319.7 370.2,319.0 370.7,318.3 371.3,317.6 371.8,316.8 372.3,316.1 372.9,315.3 373.4,314.6 373.9,313.8 374.5,313.0 375.0,312.2 375.5,311.5 376.0,310.7 376.6,309.9 377.1,309.1 377.6,308.3 378.2,307.6 378.7,306.8 379.2,306.0 379.8,305.3 380.3,304.5 380.8,303.8 381.4,303.1 381.9,302.3 382.4,301.6 382.9,301.0 383.5,300.3 384.0,299.6 384.5,299.0 385.1,298.4 385.6,297.8 386.1,297.2 386.7,296.6 387.2,296.1 387.7,295.6 388.2,295.1 388.8,294.6 389.3,294.1 389.8,293.7 390.4,293.3 390.9,292.9 391.4,292.6 392.0,292.2 392.5,291.9 393.0,291.7 393.6,291.4 394.1,291.2 394.6,291.0 395.1,290.8 395.7,290.7 396.2,290.6 396.7,290.5 397.3,290.4 397.8,290.4 398.3,290.4 398.9,290.4 399.4,290.4 399.9,290.5 400.4,290.6 401.0,290.8 401.5,290.9 402.0,291.1 402.6,291.3 403.1,291.5 403.6,291.8 404.2,292.1 404.7,292.4 405.2,292.7 405.8,293.1 406.3,293.4 406.8,293.8 407.3,294.2 407.9,294.7 408.4,295.1 408.9,295.6 409.5,296.1 410.0,296.6 410.5,297.1 411.1,297.6 411.6,298.2 412.1,298.8 412.6,299.3 413.2,299.9 413.7,300.5 414.2,301.1 414.8,301.7 415.3,302.3 415.8,303.0 416.4,303.6 416.9,304.2 417.4,304.9 418.0,305.5 418.5,306.1 419.0,306.8 419.5,307.4 420.1,308.0 420.6,308.6 421.1,309.2 421.7,309.8 422.2,310.4 422.7,311.0 423.3,311.6 423.8,312.1 424.3,312.7 424.9,313.2 425.4,313.7 425.9,314.2 426.4,314.7 427.0,315.1 427.5,315.6 428.0,316.0 428.6,316.3 429.1,316.7 429.6,317.0 430.2,317.3 430.7,317.6 431.2,317.8 431.7,318.0 432.3,318.2 432.8,318.3 433.3,318.4 433.9,318.5 434.4,318.5 434.9,318.5 435.5,318.5 436.0,318.4 436.5,318.3 437.1,318.1 437.6,317.9 438.1,317.6 438.6,317.3 439.2,317.0 439.7,316.6 440.2,316.2 440.8,315.7 441.3,315.2 441.8,314.6 442.4,314.0 442.9,313.3 443.4,312.6 443.9,311.8 444.5,311.0 445.0,310.2 445.5,309.3 446.1,308.3 446.6,307.4 447.1,306.3 447.7,305.2 448.2,304.1 448.7,302.9 449.3,301.7 449.8,300.5 450.3,299.2 450.8,297.9 451.4,296.5 451.9,295.1 452.4,293.7 453.0,292.2 453.5,290.7 454.0,289.2 454.6,287.6 455.1,286.1 455.6,284.5 456.1,282.8 456.7,281.2 457.2,279.5 457.7,277.9 458.3,276.2 458.8,274.5 459.3,272.9 459.9,271.2 460.4,269.5 460.9,267.9 461.5,266.2 462.0,264.6 462.5,263.0 463.0,261.4 463.6,259.9 464.1,258.4 464.6,256.9 465.2,255.5 465.7,254.1 466.2,252.8 466.8,251.6 467.3,250.4 467.8,249.3 468.3,248.3 468.9,247.4 469.4,246.6 469.9,245.9 470.5,245.3 471.0,244.9 471.5,244.5 472.1,244.3 472.6,244.3 473.1,244.4 473.7,244.7 474.2,245.1 474.7,245.8 475.2,246.6 475.8,247.7 476.3,248.9 476.8,250.4 477.4,252.1 477.9,254.1 478.4,256.3 479.0,258.9 479.5,261.7 480.0,264.8 480.5,268.2 481.1,271.9 481.6,276.0 482.1,280.4 482.7,285.2 483.2,290.2 483.7,290.4 484.3,290.4 484.8,290.4 485.3,290.4 485.9,290.4 486.4,290.4 486.9,290.4 487.4,290.4 488.0,290.4 488.5,290.4 489.0,290.4 489.6,290.4 490.1,290.4 490.6,290.4 491.2,290.4 491.7,290.4 492.2,290.4 492.7,290.4 493.3,290.4 493.8,290.4 494.3,290.4 494.9,290.4 495.4,290.4 495.9,290.4 496.5,290.4 497.0,290.4 497.5,290.4 498.1,290.4 498.6,290.4 499.1,290.4 499.6,290.4 500.2,290.4 500.7,290.4 501.2,290.4 501.8,290.4 502.3,290.4 502.8,290.4 503.4,290.4 503.9,290.4 504.4,290.4 504.9,290.4 505.5,290.4 506.0,290.4 506.5,290.4 507.1,290.4 507.6,290.4 508.1,290.4 508.7,290.4 509.2,290.4 509.7,290.4 510.3,290.4 510.8,290.4 511.3,290.4 511.8,290.4 512.4,290.4 512.9,290.4 513.4,290.4 514.0,290.4 514.5,290.4 515.0,290.4 515.6,290.4 516.1,290.4 516.6,290.4 517.1,290.4 517.7,290.4 518.2,290.4 518.7,290.4 519.3,290.4 519.8,290.4 520.3,290.4 520.9,290.4 521.4,290.4 521.9,290.4 522.5,290.4 523.0,290.4 523.5,290.4 524.0,290.4 524.6,290.4 525.1,290.4 525.6,290.4 526.2,290.4 526.7,290.4 527.2,290.4 527.8,290.4 528.3,290.4 528.8,290.4 529.3,290.4 529.9,290.4 530.4,290.4 530.9,290.4 531.5,290.4 532.0,290.4 532.5,290.4 533.1,290.4 533.6,290.4 534.1,290.4 534.7,290.4 535.2,290.4 535.7,290.4 536.2,290.4 536.8,290.4 537.3,290.4 537.8,290.4 538.4,290.4 538.9,290.4 539.4,290.4 540.0,290.4 540.5,290.4 541.0,290.4 541.5,290.4 542.1,290.4 542.6,290.4 543.1,290.4 543.7,290.4 544.2,290.4" fill="none" stroke="#ff00ff" stroke-width="1.15" stroke-linejoin="round"/>
<polyline points="305.5,290.4 306.0,290.3 306.6,290.0 307.1,289.6 307.6,289.1 308.2,288.4 308.7,287.7 309.2,286.8 309.7,285.8 310.3,284.8 310.8,283.6 311.3,282.5 311.9,281.2 312.4,280.0 312.9,278.7 313.5,277.3 314.0,276.0 314.5,274.6 315.0,273.3 315.6,271.9 316.1,270.6 316.6,269.2 317.2,267.9 317.7,266.6 318.2,265.3 318.8,264.1 319.3,262.9 319.8,261.7 320.4,260.6 320.9,259.5 321.4,258.5 321.9,257.5 322.5,256.6 323.0,255.7 323.5,254.9 324.1,254.2 324.6,253.5 325.1,252.8 325.7,252.3 326.2,251.8 326.7,251.3 327.2,251.0 327.8,250.7 328.3,250.4 328.8,250.2 329.4,250.1 329.9,250.1 330.4,250.1 331.0,250.2 331.5,250.3 332.0,250.5 332.6,250.8 333.1,251.1 333.6,251.5 334.1,251.9 334.7,252.4 335.2,253.0 335.7,253.6 336.3,254.3 336.8,255.0 337.3,255.7 337.9,256.5 338.4,257.4 338.9,258.3 339.4,259.2 340.0,260.2 340.5,261.2 341.0,262.3 341.6,263.3 342.1,264.5 342.6,265.6 343.2,266.8 343.7,268.0 344.2,269.2 344.8,270.4 345.3,271.7 345.8,273.0 346.3,274.3 346.9,275.6 347.4,276.9 347.9,278.3 348.5,279.6 349.0,281.0 349.5,282.3 350.1,283.7 350.6,285.0 351.1,286.4 351.6,287.7 352.2,289.0 352.7,290.4 353.2,291.7 353.8,293.0 354.3,294.3 354.8,295.6 355.4,296.9 355.9,298.1 356.4,299.4 357.0,300.6 357.5,301.8 358.0,302.9 358.5,304.1 359.1,305.2 359.6,306.3 360.1,307.4 360.7,308.4 361.2,309.4 361.7,310.4 362.3,311.3 362.8,312.3 363.3,313.1 363.8,314.0 364.4,314.8 364.9,315.6 365.4,316.3 366.0,317.0 366.5,317.7 367.0,318.3 367.6,318.9 368.1,319.5 368.6,320.0 369.2,320.5 369.7,320.9 370.2,321.3 370.7,321.7 371.3,322.0 371.8,322.3 372.3,322.6 372.9,322.8 373.4,322.9 373.9,323.1 374.5,323.2 375.0,323.2 375.5,323.3 376.0,323.2 376.6,323.2 377.1,323.1 377.6,323.0 378.2,322.8 378.7,322.7 379.2,322.4 379.8,322.2 380.3,321.9 380.8,321.6 381.4,321.3 381.9,320.9 382.4,320.5 382.9,320.1 383.5,319.7 384.0,319.2 384.5,318.7 385.1,318.2 385.6,317.7 386.1,317.1 386.7,316.5 387.2,315.9 387.7,315.3 388.2,314.7 388.8,314.1 389.3,313.4 389.8,312.8 390.4,312.1 390.9,311.4 391.4,310.7 392.0,310.0 392.5,309.3 393.0,308.6 393.6,307.9 394.1,307.2 394.6,306.5 395.1,305.8 395.7,305.1 396.2,304.4 396.7,303.7 397.3,303.0 397.8,302.3 398.3,301.6 398.9,301.0 399.4,300.3 399.9,299.7 400.4,299.1 401.0,298.4 401.5,297.8 402.0,297.3 402.6,296.7 403.1,296.2 403.6,295.6 404.2,295.1 404.7,294.6 405.2,294.2 405.8,293.7 406.3,293.3 406.8,292.9 407.3,292.6 407.9,292.2 408.4,291.9 408.9,291.6 409.5,291.4 410.0,291.1 410.5,290.9 411.1,290.8 411.6,290.6 412.1,290.5 412.6,290.4 413.2,290.4 413.7,290.4 414.2,290.4 414.8,290.4 415.3,290.5 415.8,290.6 416.4,290.8 416.9,290.9 417.4,291.1 418.0,291.4 418.5,291.6 419.0,291.9 419.5,292.3 420.1,292.6 420.6,293.0 421.1,293.4 421.7,293.9 422.2,294.3 422.7,294.8 423.3,295.3 423.8,295.9 424.3,296.5 424.9,297.1 425.4,297.7 425.9,298.3 426.4,299.0 427.0,299.6 427.5,300.3 428.0,301.1 428.6,301.8 429.1,302.5 429.6,303.3 430.2,304.0 430.7,304.8 431.2,305.6 431.7,306.4 432.3,307.2 432.8,308.0 433.3,308.8 433.9,309.6 434.4,310.4 434.9,311.2 435.5,312.0 436.0,312.8 436.5,313.5 437.1,314.3 437.6,315.0 438.1,315.8 438.6,316.5 439.2,317.2 439.7,317.9 440.2,318.5 440.8,319.1 441.3,319.7 441.8,320.3 442.4,320.9 442.9,321.4 443.4,321.8 443.9,322.3 444.5,322.7 445.0,323.0 445.5,323.4 446.1,323.6 446.6,323.8 447.1,324.0 447.7,324.1 448.2,324.2 448.7,324.2 449.3,324.2 449.8,324.1 450.3,323.9 450.8,323.7 451.4,323.4 451.9,323.1 452.4,322.7 453.0,322.2 453.5,321.7 454.0,321.1 454.6,320.4 455.1,319.6 455.6,318.8 456.1,317.9 456.7,317.0 457.2,316.0 457.7,314.9 458.3,313.7 458.8,312.5 459.3,311.1 459.9,309.8 460.4,308.3 460.9,306.8 461.5,305.2 462.0,303.5 462.5,301.8 463.0,300.0 463.6,298.2 464.1,296.3 464.6,294.3 465.2,292.3 465.7,290.3 466.2,288.2 466.8,286.0 467.3,283.8 467.8,281.6 468.3,279.3 468.9,277.0 469.4,274.7 469.9,272.4 470.5,270.1 471.0,267.7 471.5,265.4 472.1,263.0 472.6,260.7 473.1,258.4 473.7,256.2 474.2,253.9 474.7,251.8 475.2,249.6 475.8,247.6 476.3,245.6 476.8,243.7 477.4,241.9 477.9,240.3 478.4,238.7 479.0,237.3 479.5,236.0 480.0,234.9 480.5,234.0 481.1,233.3 481.6,232.8 482.1,232.5 482.7,232.4 483.2,232.6 483.7,233.1 484.3,233.9 484.8,235.0 485.3,236.5 485.9,238.3 486.4,240.4 486.9,243.0 487.4,246.0 488.0,249.5 488.5,253.4 489.0,257.8 489.6,262.8 490.1,268.3 490.6,274.4 491.2,281.1 491.7,288.4 492.2,290.4 492.7,290.4 493.3,290.4 493.8,290.4 494.3,290.4 494.9,290.4 495.4,290.4 495.9,290.4 496.5,290.4 497.0,290.4 497.5,290.4 498.1,290.4 498.6,290.4 499.1,290.4 499.6,290.4 500.2,290.4 500.7,290.4 501.2,290.4 501.8,290.4 502.3,290.4 502.8,290.4 503.4,290.4 503.9,290.4 504.4,290.4 504.9,290.4 505.5,290.4 506.0,290.4 506.5,290.4 507.1,290.4 507.6,290.4 508.1,290.4 508.7,290.4 509.2,290.4 509.7,290.4 510.3,290.4 510.8,290.4 511.3,290.4 511.8,290.4 512.4,290.4 512.9,290.4 513.4,290.4 514.0,290.4 514.5,290.4 515.0,290.4 515.6,290.4 516.1,290.4 516.6,290.4 517.1,290.4 517.7,290.4 518.2,290.4 518.7,290.4 519.3,290.4 519.8,290.4 520.3,290.4 520.9,290.4 521.4,290.4 521.9,290.4 522.5,290.4 523.0,290.4 523.5,290.4 524.0,290.4 524.6,290.4 525.1,290.4 525.6,290.4 526.2,290.4 526.7,290.4 527.2,290.4 527.8,290.4 528.3,290.4 528.8,290.4 529.3,290.4 529.9,290.4 530.4,290.4 530.9,290.4 531.5,290.4 532.0,290.4 532.5,290.4 533.1,290.4 533.6,290.4 534.1,290.4 534.7,290.4 535.2,290.4 535.7,290.4 536.2,290.4 536.8,290.4 537.3,290.4 537.8,290.4 538.4,290.4 538.9,290.4 539.4,290.4 540.0,290.4 540.5,290.4 541.0,290.4 541.5,290.4 542.1,290.4 542.6,290.4 543.1,290.4 543.7,290.4 544.2,290.4" fill="none" stroke="#00ffff" stroke-width="1.15" stroke-linejoin="round"/>
<polyline points="305.5,289.7 306.0,279.6 306.6,269.7 307.1,260.7 307.6,252.5 308.2,245.0 308.7,238.4 309.2,232.4 309.7,227.2 310.3,222.5 310.8,218.5 311.3,215.1 311.9,212.2 312.4,209.8 312.9,207.9 313.5,206.5 314.0,205.5 314.5,204.9 315.0,204.7 315.6,204.8 316.1,205.3 316.6,206.1 317.2,207.1 317.7,208.5 318.2,210.0 318.8,211.8 319.3,213.8 319.8,216.0 320.4,218.4 320.9,220.9 321.4,223.6 321.9,226.4 322.5,229.3 323.0,232.3 323.5,235.4 324.1,238.5 324.6,241.7 325.1,244.9 325.7,248.2 326.2,251.5 326.7,254.9 327.2,258.2 327.8,261.5 328.3,264.8 328.8,268.1 329.4,271.4 329.9,274.6 330.4,277.8 331.0,281.0 331.5,284.1 332.0,287.1 332.6,290.1 333.1,293.0 333.6,295.8 334.1,298.6 334.7,301.3 335.2,303.9 335.7,306.4 336.3,308.9 336.8,311.2 337.3,313.5 337.9,315.7 338.4,317.7 338.9,319.7 339.4,321.6 340.0,323.4 340.5,325.1 341.0,326.7 341.6,328.2 342.1,329.6 342.6,330.9 343.2,332.1 343.7,333.2 344.2,334.2 344.8,335.1 345.3,336.0 345.8,336.7 346.3,337.4 346.9,337.9 347.4,338.4 347.9,338.8 348.5,339.1 349.0,339.4 349.5,339.5 350.1,339.6 350.6,339.6 351.1,339.5 351.6,339.4 352.2,339.2 352.7,338.9 353.2,338.5 353.8,338.1 354.3,337.7 354.8,337.2 355.4,336.6 355.9,336.0 356.4,335.3 357.0,334.6 357.5,333.9 358.0,333.1 358.5,332.2 359.1,331.4 359.6,330.5 360.1,329.6 360.7,328.6 361.2,327.6 361.7,326.6 362.3,325.6 362.8,324.6 363.3,323.5 363.8,322.5 364.4,321.4 364.9,320.3 365.4,319.2 366.0,318.1 366.5,317.0 367.0,315.9 367.6,314.9 368.1,313.8 368.6,312.7 369.2,311.6 369.7,310.6 370.2,309.6 370.7,308.5 371.3,307.5 371.8,306.5 372.3,305.6 372.9,304.6 373.4,303.7 373.9,302.8 374.5,301.9 375.0,301.0 375.5,300.2 376.0,299.4 376.6,298.7 377.1,297.9 377.6,297.2 378.2,296.5 378.7,295.9 379.2,295.3 379.8,294.7 380.3,294.2 380.8,293.7 381.4,293.2 381.9,292.8 382.4,292.4 382.9,292.0 383.5,291.7 384.0,291.4 384.5,291.1 385.1,290.9 385.6,290.7 386.1,290.6 386.7,290.5 387.2,290.4 387.7,290.4 388.2,290.4 388.8,290.4 389.3,290.5 389.8,290.6 390.4,290.7 390.9,290.9 391.4,291.1 392.0,291.3 392.5,291.5 393.0,291.8 393.6,292.1 394.1,292.5 394.6,292.8 395.1,293.2 395.7,293.6 396.2,294.0 396.7,294.5 397.3,295.0 397.8,295.5 398.3,296.0 398.9,296.5 399.4,297.0 399.9,297.6 400.4,298.2 401.0,298.7 401.5,299.3 402.0,299.9 402.6,300.5 403.1,301.1 403.6,301.7 404.2,302.4 404.7,303.0 405.2,303.6 405.8,304.2 406.3,304.8 406.8,305.4 407.3,306.0 407.9,306.6 408.4,307.2 408.9,307.8 409.5,308.4 410.0,308.9 410.5,309.5 411.1,310.0 411.6,310.5 412.1,311.0 412.6,311.5 413.2,312.0 413.7,312.4 414.2,312.8 414.8,313.2 415.3,313.6 415.8,313.9 416.4,314.2 416.9,314.5 417.4,314.8 418.0,315.0 418.5,315.2 419.0,315.4 419.5,315.5 420.1,315.6 420.6,315.7 421.1,315.7 421.7,315.8 422.2,315.7 422.7,315.7 423.3,315.6 423.8,315.4 424.3,315.3 424.9,315.1 425.4,314.8 425.9,314.5 426.4,314.2 427.0,313.9 427.5,313.5 428.0,313.1 428.6,312.6 429.1,312.1 429.6,311.6 430.2,311.0 430.7,310.4 431.2,309.8 431.7,309.1 432.3,308.4 432.8,307.7 433.3,306.9 433.9,306.2 434.4,305.3 434.9,304.5 435.5,303.6 436.0,302.7 436.5,301.8 437.1,300.8 437.6,299.8 438.1,298.8 438.6,297.8 439.2,296.8 439.7,295.7 440.2,294.6 440.8,293.6 441.3,292.5 441.8,291.3 442.4,290.2 442.9,289.1 443.4,288.0 443.9,286.8 444.5,285.7 445.0,284.5 445.5,283.4 446.1,282.3 446.6,281.1 447.1,280.0 447.7,278.9 448.2,277.8 448.7,276.7 449.3,275.6 449.8,274.6 450.3,273.5 450.8,272.5 451.4,271.5 451.9,270.6 452.4,269.6 453.0,268.7 453.5,267.9 454.0,267.0 454.6,266.2 455.1,265.5 455.6,264.7 456.1,264.1 456.7,263.4 457.2,262.8 457.7,262.3 458.3,261.8 458.8,261.3 459.3,260.9 459.9,260.6 460.4,260.3 460.9,260.1 461.5,259.9 462.0,259.8 462.5,259.7 463.0,259.7 463.6,259.7 464.1,259.9 464.6,260.0 465.2,260.3 465.7,260.6 466.2,260.9 466.8,261.3 467.3,261.8 467.8,262.3 468.3,262.9 468.9,263.5 469.4,264.2 469.9,265.0 470.5,265.8 471.0,266.6 471.5,267.5 472.1,268.4 472.6,269.4 473.1,270.4 473.7,271.5 474.2,272.5 474.7,273.6 475.2,274.7 475.8,275.9 476.3,277.0 476.8,278.1 477.4,279.3 477.9,280.4 478.4,281.5 479.0,282.6 479.5,283.6 480.0,284.6 480.5,285.6 481.1,286.5 481.6,287.4 482.1,288.1 482.7,288.8 483.2,289.4 483.7,289.8 484.3,290.1 484.8,290.3 485.3,290.4 485.9,290.4 486.4,290.4 486.9,290.4 487.4,290.4 488.0,290.4 488.5,290.4 489.0,290.4 489.6,290.4 490.1,290.4 490.6,290.4 491.2,290.4 491.7,290.4 492.2,290.4 492.7,290.4 493.3,290.4 493.8,290.4 494.3,290.4 494.9,290.4 495.4,290.4 495.9,290.4 496.5,290.4 497.0,290.4 497.5,290.4 498.1,290.4 498.6,290.4 499.1,290.4 499.6,290.4 500.2,290.4 500.7,290.4 501.2,290.4 501.8,290.4 502.3,290.4 502.8,290.4 503.4,290.4 503.9,290.4 504.4,290.4 504.9,290.4 505.5,290.4 506.0,290.4 506.5,290.4 507.1,290.4 507.6,290.4 508.1,290.4 508.7,290.4 509.2,290.4 509.7,290.4 510.3,290.4 510.8,290.4 511.3,290.4 511.8,290.4 512.4,290.4 512.9,290.4 513.4,290.4 514.0,290.4 514.5,290.4 515.0,290.4 515.6,290.4 516.1,290.4 516.6,290.4 517.1,290.4 517.7,290.4 518.2,290.4 518.7,290.4 519.3,290.4 519.8,290.4 520.3,290.4 520.9,290.4 521.4,290.4 521.9,290.4 522.5,290.4 523.0,290.4 523.5,290.4 524.0,290.4 524.6,290.4 525.1,290.4 525.6,290.4 526.2,290.4 526.7,290.4 527.2,290.4 527.8,290.4 528.3,290.4 528.8,290.4 529.3,290.4 529.9,290.4 530.4,290.4 530.9,290.4 531.5,290.4 532.0,290.4 532.5,290.4 533.1,290.4 533.6,290.4 534.1,290.4 534.7,290.4 535.2,290.4 535.7,290.4 536.2,290.4 536.8,290.4 537.3,290.4 537.8,290.4 538.4,290.4 538.9,290.4 539.4,290.4 540.0,290.4 540.5,290.4 541.0,290.4 541.5,290.4 542.1,290.4 542.6,290.4 543.1,290.4 543.7,290.4 544.2,290.4" fill="none" stroke="#b04a20" stroke-width="1.15" stroke-linejoin="round"/>
<polyline points="305.5,290.4 306.0,290.2 306.6,289.8 307.1,289.0 307.6,288.1 308.2,286.9 308.7,285.5 309.2,284.0 309.7,282.3 310.3,280.6 310.8,278.7 311.3,276.7 311.9,274.7 312.4,272.7 312.9,270.6 313.5,268.5 314.0,266.4 314.5,264.4 315.0,262.3 315.6,260.3 316.1,258.3 316.6,256.4 317.2,254.6 317.7,252.8 318.2,251.1 318.8,249.5 319.3,248.0 319.8,246.6 320.4,245.3 320.9,244.1 321.4,242.9 321.9,241.9 322.5,241.1 323.0,240.3 323.5,239.6 324.1,239.1 324.6,238.6 325.1,238.3 325.7,238.1 326.2,238.0 326.7,238.1 327.2,238.2 327.8,238.4 328.3,238.8 328.8,239.2 329.4,239.8 329.9,240.4 330.4,241.2 331.0,242.0 331.5,243.0 332.0,244.0 332.6,245.1 333.1,246.3 333.6,247.5 334.1,248.9 334.7,250.3 335.2,251.7 335.7,253.2 336.3,254.8 336.8,256.5 337.3,258.2 337.9,259.9 338.4,261.6 338.9,263.5 339.4,265.3 340.0,267.2 340.5,269.0 341.0,271.0 341.6,272.9 342.1,274.8 342.6,276.8 343.2,278.7 343.7,280.7 344.2,282.6 344.8,284.6 345.3,286.5 345.8,288.5 346.3,290.4 346.9,292.3 347.4,294.1 347.9,296.0 348.5,297.8 349.0,299.6 349.5,301.3 350.1,303.1 350.6,304.8 351.1,306.4 351.6,308.0 352.2,309.6 352.7,311.1 353.2,312.5 353.8,314.0 354.3,315.3 354.8,316.6 355.4,317.9 355.9,319.1 356.4,320.2 357.0,321.3 357.5,322.4 358.0,323.3 358.5,324.3 359.1,325.1 359.6,325.9 360.1,326.7 360.7,327.3 361.2,327.9 361.7,328.5 362.3,329.0 362.8,329.4 363.3,329.8 363.8,330.1 364.4,330.4 364.9,330.6 365.4,330.8 366.0,330.8 366.5,330.9 367.0,330.9 367.6,330.8 368.1,330.7 368.6,330.5 369.2,330.3 369.7,330.0 370.2,329.7 370.7,329.3 371.3,328.9 371.8,328.4 372.3,328.0 372.9,327.4 373.4,326.9 373.9,326.3 374.5,325.6 375.0,324.9 375.5,324.2 376.0,323.5 376.6,322.8 377.1,322.0 377.6,321.2 378.2,320.4 378.7,319.5 379.2,318.7 379.8,317.8 380.3,316.9 380.8,316.0 381.4,315.1 381.9,314.2 382.4,313.3 382.9,312.4 383.5,311.4 384.0,310.5 384.5,309.6 385.1,308.7 385.6,307.8 386.1,306.9 386.7,306.0 387.2,305.1 387.7,304.2 388.2,303.4 388.8,302.6 389.3,301.7 389.8,300.9 390.4,300.2 390.9,299.4 391.4,298.7 392.0,298.0 392.5,297.3 393.0,296.6 393.6,296.0 394.1,295.4 394.6,294.8 395.1,294.3 395.7,293.8 396.2,293.3 396.7,292.9 397.3,292.5 397.8,292.1 398.3,291.8 398.9,291.5 399.4,291.2 399.9,291.0 400.4,290.8 401.0,290.6 401.5,290.5 402.0,290.4 402.6,290.4 403.1,290.4 403.6,290.4 404.2,290.5 404.7,290.6 405.2,290.7 405.8,290.9 406.3,291.1 406.8,291.3 407.3,291.6 407.9,291.9 408.4,292.3 408.9,292.6 409.5,293.0 410.0,293.5 410.5,293.9 411.1,294.4 411.6,294.9 412.1,295.4 412.6,296.0 413.2,296.6 413.7,297.2 414.2,297.8 414.8,298.4 415.3,299.1 415.8,299.8 416.4,300.5 416.9,301.2 417.4,301.9 418.0,302.6 418.5,303.3 419.0,304.0 419.5,304.8 420.1,305.5 420.6,306.2 421.1,307.0 421.7,307.7 422.2,308.4 422.7,309.1 423.3,309.8 423.8,310.5 424.3,311.2 424.9,311.9 425.4,312.5 425.9,313.2 426.4,313.8 427.0,314.4 427.5,314.9 428.0,315.5 428.6,316.0 429.1,316.5 429.6,317.0 430.2,317.4 430.7,317.8 431.2,318.2 431.7,318.5 432.3,318.8 432.8,319.0 433.3,319.3 433.9,319.4 434.4,319.6 434.9,319.6 435.5,319.7 436.0,319.7 436.5,319.6 437.1,319.6 437.6,319.4 438.1,319.2 438.6,319.0 439.2,318.7 439.7,318.4 440.2,318.0 440.8,317.6 441.3,317.1 441.8,316.6 442.4,316.0 442.9,315.3 443.4,314.7 443.9,313.9 444.5,313.2 445.0,312.3 445.5,311.5 446.1,310.6 446.6,309.6 447.1,308.6 447.7,307.5 448.2,306.5 448.7,305.3 449.3,304.2 449.8,303.0 450.3,301.7 450.8,300.5 451.4,299.2 451.9,297.8 452.4,296.5 453.0,295.1 453.5,293.7 454.0,292.2 454.6,290.8 455.1,289.3 455.6,287.9 456.1,286.4 456.7,284.9 457.2,283.4 457.7,281.9 458.3,280.4 458.8,278.9 459.3,277.5 459.9,276.0 460.4,274.6 460.9,273.1 461.5,271.7 462.0,270.3 462.5,269.0 463.0,267.7 463.6,266.4 464.1,265.1 464.6,263.9 465.2,262.8 465.7,261.7 466.2,260.6 466.8,259.6 467.3,258.7 467.8,257.8 468.3,257.0 468.9,256.3 469.4,255.6 469.9,255.0 470.5,254.5 471.0,254.0 471.5,253.7 472.1,253.4 472.6,253.2 473.1,253.1 473.7,253.1 474.2,253.2 474.7,253.4 475.2,253.6 475.8,254.0 476.3,254.4 476.8,255.0 477.4,255.6 477.9,256.3 478.4,257.1 479.0,258.0 479.5,259.0 480.0,260.0 480.5,261.2 481.1,262.4 481.6,263.6 482.1,265.0 482.7,266.4 483.2,267.8 483.7,269.3 484.3,270.8 484.8,272.4 485.3,273.9 485.9,275.5 486.4,277.1 486.9,278.6 487.4,280.2 488.0,281.7 488.5,283.1 489.0,284.4 489.6,285.7 490.1,286.9 490.6,287.9 491.2,288.8 491.7,289.5 492.2,290.0 492.7,290.3 493.3,290.4 493.8,290.4 494.3,290.4 494.9,290.4 495.4,290.4 495.9,290.4 496.5,290.4 497.0,290.4 497.5,290.4 498.1,290.4 498.6,290.4 499.1,290.4 499.6,290.4 500.2,290.4 500.7,290.4 501.2,290.4 501.8,290.4 502.3,290.4 502.8,290.4 503.4,290.4 503.9,290.4 504.4,290.4 504.9,290.4 505.5,290.4 506.0,290.4 506.5,290.4 507.1,290.4 507.6,290.4 508.1,290.4 508.7,290.4 509.2,290.4 509.7,290.4 510.3,290.4 510.8,290.4 511.3,290.4 511.8,290.4 512.4,290.4 512.9,290.4 513.4,290.4 514.0,290.4 514.5,290.4 515.0,290.4 515.6,290.4 516.1,290.4 516.6,290.4 517.1,290.4 517.7,290.4 518.2,290.4 518.7,290.4 519.3,290.4 519.8,290.4 520.3,290.4 520.9,290.4 521.4,290.4 521.9,290.4 522.5,290.4 523.0,290.4 523.5,290.4 524.0,290.4 524.6,290.4 525.1,290.4 525.6,290.4 526.2,290.4 526.7,290.4 527.2,290.4 527.8,290.4 528.3,290.4 528.8,290.4 529.3,290.4 529.9,290.4 530.4,290.4 530.9,290.4 531.5,290.4 532.0,290.4 532.5,290.4 533.1,290.4 533.6,290.4 534.1,290.4 534.7,290.4 535.2,290.4 535.7,290.4 536.2,290.4 536.8,290.4 537.3,290.4 537.8,290.4 538.4,290.4 538.9,290.4 539.4,290.4 540.0,290.4 540.5,290.4 541.0,290.4 541.5,290.4 542.1,290.4 542.6,290.4 543.1,290.4 543.7,290.4 544.2,290.4" fill="none" stroke="#ff8fc0" stroke-width="1.15" stroke-linejoin="round"/>
<text x="305.50" y="356.30" text-anchor="middle" class="tk">0</text>
<text x="332.02" y="356.30" text-anchor="middle" class="tk">0.2</text>
<text x="358.54" y="356.30" text-anchor="middle" class="tk">0.4</text>
<text x="385.07" y="356.30" text-anchor="middle" class="tk">0.6</text>
<text x="411.59" y="356.30" text-anchor="middle" class="tk">0.8</text>
<text x="438.11" y="356.30" text-anchor="middle" class="tk">1</text>
<text x="464.63" y="356.30" text-anchor="middle" class="tk">1.2</text>
<text x="491.16" y="356.30" text-anchor="middle" class="tk">1.4</text>
<text x="517.68" y="356.30" text-anchor="middle" class="tk">1.6</text>
<text x="544.20" y="356.30" text-anchor="middle" class="tk">1.8</text>
<text x="302.30" y="349.90" text-anchor="end" class="tk">−15</text>
<text x="302.30" y="331.02" text-anchor="end" class="tk">−10</text>
<text x="302.30" y="312.15" text-anchor="end" class="tk">−5</text>
<text x="302.30" y="293.27" text-anchor="end" class="tk">0</text>
<text x="302.30" y="274.40" text-anchor="end" class="tk">5</text>
<text x="302.30" y="255.53" text-anchor="end" class="tk">10</text>
<text x="302.30" y="236.65" text-anchor="end" class="tk">15</text>
<text x="302.30" y="217.78" text-anchor="end" class="tk">20</text>
<text x="302.30" y="198.90" text-anchor="end" class="tk">25</text>
<text x="425.55" y="365.20" text-anchor="middle" class="lb">Time [s]</text>
<text transform="translate(289.90,267.20) rotate(-90)" text-anchor="middle" class="lb" style="font-size:7.1px">Jerk [m/s<tspan baseline-shift="super" font-size="4.5">3</tspan>]</text>
<text x="417.10" y="380.40" text-anchor="middle" class="cap">(<tspan style="stroke-width:0.45px">d</tspan>)</text>
<rect x="406.90" y="198.90" width="35.20" height="69.50" fill="#fff" class="lg"/>
<line x1="408.70" y1="203.90" x2="424.20" y2="203.90" stroke="#ffff00" stroke-width="1.4"/>
<text x="425.10" y="206.10" class="tk lt">2-1-2</text>
<line x1="408.70" y1="212.43" x2="424.20" y2="212.43" stroke="#0000ff" stroke-width="1.4"/>
<text x="425.10" y="214.63" class="tk lt">3-1-2</text>
<line x1="408.70" y1="220.96" x2="424.20" y2="220.96" stroke="#ff0000" stroke-width="1.4"/>
<text x="425.10" y="223.16" class="tk lt">2-1-3</text>
<line x1="408.70" y1="229.49" x2="424.20" y2="229.49" stroke="#00ff00" stroke-width="1.4"/>
<text x="425.10" y="231.69" class="tk lt">3-1-3</text>
<line x1="408.70" y1="238.02" x2="424.20" y2="238.02" stroke="#ff00ff" stroke-width="1.4"/>
<text x="425.10" y="240.22" class="tk lt">2-3-2</text>
<line x1="408.70" y1="246.55" x2="424.20" y2="246.55" stroke="#00ffff" stroke-width="1.4"/>
<text x="425.10" y="248.75" class="tk lt">3-3-2</text>
<line x1="408.70" y1="255.08" x2="424.20" y2="255.08" stroke="#b04a20" stroke-width="1.4"/>
<text x="425.10" y="257.28" class="tk lt">2-3-3</text>
<line x1="408.70" y1="263.61" x2="424.20" y2="263.61" stroke="#ff8fc0" stroke-width="1.4"/>
<text x="425.10" y="265.81" class="tk lt">3-3-3</text>
</svg>
</body></html>
